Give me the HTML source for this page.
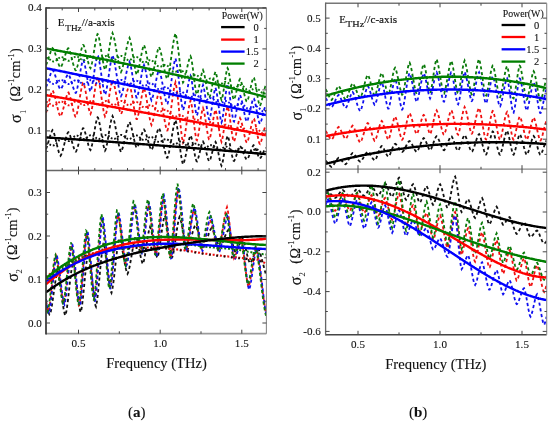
<!DOCTYPE html>
<html><head><meta charset="utf-8"><title>THz conductivity</title>
<style>html,body{margin:0;padding:0;background:#fff;overflow:hidden;width:550px;height:421px;}svg{display:block;}</style>
</head><body>
<svg width="550" height="421" viewBox="0 0 550 421">
<defs>
<clipPath id="cUL"><rect x="46.0" y="8.0" width="220.39999999999998" height="162.5"/></clipPath>
<clipPath id="cLL"><rect x="46.0" y="170.5" width="220.39999999999998" height="163.2"/></clipPath>
<clipPath id="cUR"><rect x="325.6" y="3.3" width="221.10000000000002" height="165.89999999999998"/></clipPath>
<clipPath id="cLR"><rect x="325.6" y="169.2" width="221.10000000000002" height="165.60000000000002"/></clipPath>
</defs>
<rect width="550" height="421" fill="#fff"/>
<g clip-path="url(#cUL)">
<polyline points="46.0,148.9 46.5,147.8 47.0,146.5 47.5,145.0 48.0,143.4 48.5,141.6 49.0,139.8 49.5,138.0 50.0,136.3 50.5,134.7 51.0,133.2 51.5,132.0 52.0,130.9 52.5,130.1 53.0,130.7 53.5,131.8 54.0,133.2 54.5,134.8 55.0,136.6 55.5,138.6 56.0,140.7 56.5,142.8 57.0,145.0 57.5,147.1 58.0,149.1 58.5,150.9 59.0,152.6 59.5,154.0 60.0,155.1 60.5,155.8 61.0,155.0 61.5,153.9 62.0,152.5 62.5,151.0 63.0,149.2 63.5,147.4 64.0,145.4 64.5,143.4 65.0,141.4 65.5,139.5 66.0,137.7 66.5,136.0 67.0,134.6 67.5,133.4 68.0,132.4 68.5,132.2 69.0,133.0 69.5,134.1 70.0,135.3 70.5,136.8 71.0,138.4 71.5,140.1 72.0,141.9 72.5,143.6 73.0,145.3 73.5,146.9 74.0,148.4 74.5,149.7 75.0,150.8 75.5,151.6 76.0,151.6 76.5,150.5 77.0,149.2 77.5,147.7 78.0,145.9 78.5,144.0 79.0,141.9 79.5,139.8 80.0,137.7 80.5,135.6 81.0,133.7 81.5,132.0 82.0,130.4 82.5,129.2 83.0,128.2 83.5,128.3 84.0,129.3 84.5,130.6 85.0,132.1 85.5,133.8 86.0,135.7 86.5,137.7 87.0,139.7 87.5,141.7 88.0,143.6 88.5,145.4 89.0,147.0 89.5,148.3 90.0,149.4 90.5,150.0 91.0,148.8 91.5,147.1 92.0,145.0 92.5,142.6 93.0,139.9 93.5,137.0 94.0,134.0 94.5,131.0 95.0,128.1 95.5,125.3 96.0,122.8 96.5,120.6 97.0,118.8 97.5,117.4 98.0,117.7 98.5,119.2 99.0,121.0 99.5,123.3 100.0,125.8 100.5,128.6 101.0,131.5 101.5,134.5 102.0,137.5 102.5,140.4 103.0,143.1 103.5,145.5 104.0,147.6 104.5,149.3 105.0,150.7 105.5,149.9 106.0,148.3 106.5,146.3 107.0,143.9 107.5,141.2 108.0,138.3 108.5,135.3 109.0,132.2 109.5,129.1 110.0,126.2 110.5,123.5 111.0,121.1 111.5,119.0 112.0,117.3 112.5,116.0 113.0,117.1 113.5,118.6 114.0,120.3 114.5,122.4 115.0,124.7 115.5,127.2 116.0,129.9 116.5,132.6 117.0,135.4 117.5,138.1 118.0,140.8 118.5,143.3 119.0,145.6 119.5,147.7 120.0,149.4 120.5,150.9 121.0,152.0 121.5,151.1 122.0,149.8 122.5,148.4 123.0,146.6 123.5,144.7 124.0,142.6 124.5,140.4 125.0,138.1 125.5,135.8 126.0,133.5 126.5,131.3 127.0,129.2 127.5,127.2 128.0,125.5 128.5,124.0 129.0,122.8 129.5,121.9 130.0,122.9 130.5,124.2 131.0,125.8 131.5,127.7 132.0,129.8 132.5,132.0 133.0,134.4 133.5,136.8 134.0,139.1 134.5,141.3 135.0,143.3 135.5,145.0 136.0,146.5 136.5,147.6 137.0,147.8 137.5,147.0 138.0,145.9 138.5,144.7 139.0,143.3 139.5,141.7 140.0,140.1 140.5,138.4 141.0,136.7 141.5,135.1 142.0,133.6 142.5,132.3 143.0,131.1 143.5,130.2 144.0,129.5 144.5,130.2 145.0,131.2 145.5,132.4 146.0,133.8 146.5,135.4 147.0,137.1 147.5,138.8 148.0,140.6 148.5,142.4 149.0,144.1 149.5,145.7 150.0,147.1 150.5,148.3 151.0,149.2 151.5,150.0 152.0,149.2 152.5,148.1 153.0,146.9 153.5,145.3 154.0,143.7 154.5,141.9 155.0,140.0 155.5,138.0 156.0,136.1 156.5,134.3 157.0,132.6 157.5,131.1 158.0,129.8 158.5,128.8 159.0,128.0 159.5,129.0 160.0,130.2 160.5,131.8 161.0,133.6 161.5,135.6 162.0,137.8 162.5,140.1 163.0,142.5 163.5,144.9 164.0,147.2 164.5,149.5 165.0,151.6 165.5,153.5 166.0,155.2 166.5,156.6 167.0,157.7 167.5,157.6 168.0,156.1 168.5,154.4 169.0,152.3 169.5,149.8 170.0,147.2 170.5,144.3 171.0,141.4 171.5,138.4 172.0,135.4 172.5,132.4 173.0,129.7 173.5,127.1 174.0,124.9 174.5,122.9 175.0,121.3 175.5,120.1 176.0,121.7 176.5,123.8 177.0,126.4 177.5,129.4 178.0,132.8 178.5,136.4 179.0,140.2 179.5,144.1 180.0,147.9 180.5,151.5 181.0,154.9 181.5,158.0 182.0,160.6 182.5,162.8 183.0,164.4 183.5,163.6 184.0,162.3 184.5,160.6 185.0,158.6 185.5,156.4 186.0,154.1 186.5,151.6 187.0,149.0 187.5,146.5 188.0,144.1 188.5,141.8 189.0,139.8 189.5,138.0 190.0,136.6 190.5,135.5 191.0,136.2 191.5,137.8 192.0,139.7 192.5,142.1 193.0,144.7 193.5,147.4 194.0,150.2 194.5,152.9 195.0,155.5 195.5,157.7 196.0,159.6 196.5,161.1 197.0,161.4 197.5,160.4 198.0,159.0 198.5,157.3 199.0,155.4 199.5,153.4 200.0,151.2 200.5,149.1 201.0,147.1 201.5,145.3 202.0,143.8 202.5,142.5 203.0,141.6 203.5,142.5 204.0,143.7 204.5,145.2 205.0,147.0 205.5,149.0 206.0,151.0 206.5,153.1 207.0,155.1 207.5,157.0 208.0,158.6 208.5,160.0 209.0,161.1 209.5,161.1 210.0,160.0 210.5,158.7 211.0,157.0 211.5,155.2 212.0,153.2 212.5,151.1 213.0,149.0 213.5,147.1 214.0,145.3 214.5,143.8 215.0,142.6 215.5,141.8 216.0,142.9 216.5,144.4 217.0,146.3 217.5,148.6 218.0,151.1 218.5,153.6 219.0,156.2 219.5,158.7 220.0,161.0 220.5,163.0 221.0,164.5 221.5,165.7 222.0,164.6 222.5,162.7 223.0,160.3 223.5,157.5 224.0,154.5 224.5,151.2 225.0,148.0 225.5,144.9 226.0,142.0 226.5,139.5 227.0,137.4 227.5,135.9 228.0,136.6 228.5,138.1 229.0,140.0 229.5,142.2 230.0,144.7 230.5,147.4 231.0,150.1 231.5,152.7 232.0,155.2 232.5,157.4 233.0,159.2 233.5,160.6 234.0,161.0 234.5,160.2 235.0,159.2 235.5,157.9 236.0,156.5 236.5,154.9 237.0,153.3 237.5,151.7 238.0,150.2 238.5,148.8 239.0,147.6 239.5,146.7 240.0,146.0 240.5,146.6 241.0,147.3 241.5,148.2 242.0,149.3 242.5,150.5 243.0,151.8 243.5,153.1 244.0,154.4 244.5,155.6 245.0,156.8 245.5,157.8 246.0,158.7 246.5,159.4 247.0,159.6 247.5,159.0 248.0,158.1 248.5,157.1 249.0,155.9 249.5,154.6 250.0,153.2 250.5,151.8 251.0,150.4 251.5,149.0 252.0,147.8 252.5,146.8 253.0,145.9 253.5,145.2 254.0,145.4 254.5,146.1 255.0,147.1 255.5,148.3 256.0,149.6 256.5,151.0 257.0,152.5 257.5,153.9 258.0,155.2 258.5,156.4 259.0,157.4 259.5,158.2 260.0,158.5 260.5,157.9 261.0,157.2 261.5,156.3 262.0,155.3 262.5,154.2 263.0,153.1 263.5,152.0 264.0,150.9 264.5,150.0 265.0,149.1 265.5,148.5 266.0,148.0" fill="none" stroke="#111111" stroke-width="1.8" stroke-dasharray="3.2 2.6"/>
<polyline points="46.0,112.7 46.5,111.4 47.0,109.9 47.5,108.1 48.0,106.1 48.5,104.1 49.0,102.0 49.5,99.8 50.0,97.8 50.5,95.9 51.0,94.2 51.5,92.7 52.0,91.4 52.5,90.5 53.0,91.0 53.5,92.2 54.0,93.6 54.5,95.2 55.0,97.0 55.5,99.0 56.0,101.1 56.5,103.3 57.0,105.5 57.5,107.6 58.0,109.7 58.5,111.5 59.0,113.2 59.5,114.6 60.0,115.7 60.5,116.5 61.0,115.6 61.5,114.5 62.0,113.1 62.5,111.5 63.0,109.8 63.5,107.9 64.0,105.9 64.5,103.9 65.0,101.8 65.5,99.9 66.0,98.0 66.5,96.4 67.0,94.9 67.5,93.7 68.0,92.7 68.5,92.5 69.0,93.6 69.5,94.9 70.0,96.5 70.5,98.3 71.0,100.3 71.5,102.4 72.0,104.6 72.5,106.8 73.0,108.9 73.5,111.0 74.0,112.8 74.5,114.4 75.0,115.8 75.5,116.8 76.0,116.7 76.5,115.2 77.0,113.3 77.5,111.1 78.0,108.5 78.5,105.7 79.0,102.7 79.5,99.7 80.0,96.6 80.5,93.7 81.0,90.9 81.5,88.3 82.0,86.1 82.5,84.3 83.0,82.9 83.5,83.1 84.0,84.5 84.5,86.3 85.0,88.5 85.5,90.9 86.0,93.6 86.5,96.4 87.0,99.3 87.5,102.1 88.0,104.8 88.5,107.3 89.0,109.6 89.5,111.5 90.0,113.0 90.5,114.0 91.0,112.5 91.5,110.6 92.0,108.3 92.5,105.5 93.0,102.5 93.5,99.3 94.0,95.9 94.5,92.6 95.0,89.3 95.5,86.2 96.0,83.4 96.5,80.9 97.0,78.8 97.5,77.3 98.0,77.6 98.5,79.3 99.0,81.6 99.5,84.2 100.0,87.2 100.5,90.5 101.0,94.0 101.5,97.5 102.0,101.0 102.5,104.4 103.0,107.6 103.5,110.5 104.0,113.0 104.5,115.0 105.0,116.6 105.5,115.8 106.0,114.1 106.5,112.0 107.0,109.5 107.5,106.7 108.0,103.6 108.5,100.4 109.0,97.2 109.5,94.0 110.0,90.9 110.5,88.0 111.0,85.5 111.5,83.3 112.0,81.5 112.5,80.1 113.0,81.2 113.5,82.6 114.0,84.2 114.5,86.2 115.0,88.3 115.5,90.7 116.0,93.2 116.5,95.8 117.0,98.4 117.5,101.0 118.0,103.5 118.5,105.8 119.0,108.0 119.5,109.9 120.0,111.6 120.5,112.9 121.0,114.0 121.5,113.1 122.0,111.9 122.5,110.5 123.0,108.8 123.5,107.0 124.0,104.9 124.5,102.8 125.0,100.6 125.5,98.3 126.0,96.1 126.5,93.9 127.0,91.9 127.5,90.0 128.0,88.4 128.5,86.9 129.0,85.8 129.5,84.9 130.0,86.2 130.5,87.9 131.0,90.1 131.5,92.6 132.0,95.4 132.5,98.4 133.0,101.5 133.5,104.7 134.0,107.8 134.5,110.7 135.0,113.3 135.5,115.7 136.0,117.6 136.5,119.2 137.0,119.2 137.5,117.8 138.0,116.0 138.5,113.9 139.0,111.5 139.5,108.8 140.0,106.0 140.5,103.2 141.0,100.3 141.5,97.6 142.0,95.0 142.5,92.7 143.0,90.8 143.5,89.2 144.0,88.0 144.5,89.3 145.0,91.1 145.5,93.3 146.0,95.8 146.5,98.6 147.0,101.7 147.5,104.9 148.0,108.1 148.5,111.3 149.0,114.3 149.5,117.2 150.0,119.7 150.5,121.9 151.0,123.6 151.5,125.0 152.0,123.8 152.5,122.2 153.0,120.3 153.5,118.0 154.0,115.5 154.5,112.8 155.0,109.9 155.5,107.0 156.0,104.2 156.5,101.5 157.0,99.0 157.5,96.7 158.0,94.8 158.5,93.2 159.0,92.0 159.5,93.3 160.0,94.9 160.5,96.9 161.0,99.2 161.5,101.8 162.0,104.7 162.5,107.7 163.0,110.8 163.5,113.9 164.0,116.9 164.5,119.8 165.0,122.6 165.5,125.1 166.0,127.2 166.5,129.0 167.0,130.5 167.5,130.4 168.0,128.5 168.5,126.3 169.0,123.6 169.5,120.5 170.0,117.1 170.5,113.4 171.0,109.6 171.5,105.7 172.0,101.9 172.5,98.1 173.0,94.6 173.5,91.3 174.0,88.4 174.5,85.9 175.0,83.9 175.5,82.3 176.0,84.5 176.5,87.3 177.0,90.8 177.5,94.9 178.0,99.5 178.5,104.4 179.0,109.6 179.5,114.9 180.0,120.0 180.5,125.0 181.0,129.6 181.5,133.8 182.0,137.4 182.5,140.3 183.0,142.5 183.5,141.4 184.0,139.4 184.5,137.0 185.0,134.2 185.5,131.0 186.0,127.5 186.5,123.9 187.0,120.2 187.5,116.6 188.0,113.1 188.5,109.8 189.0,106.9 189.5,104.3 190.0,102.2 190.5,100.6 191.0,101.8 191.5,104.2 192.0,107.2 192.5,110.7 193.0,114.7 193.5,118.9 194.0,123.2 194.5,127.4 195.0,131.3 195.5,134.7 196.0,137.6 196.5,139.9 197.0,140.3 197.5,138.6 198.0,136.4 198.5,133.7 199.0,130.6 199.5,127.2 200.0,123.7 200.5,120.3 201.0,117.0 201.5,114.1 202.0,111.5 202.5,109.5 203.0,108.0 203.5,109.4 204.0,111.4 204.5,113.8 205.0,116.7 205.5,119.9 206.0,123.2 206.5,126.5 207.0,129.8 207.5,132.8 208.0,135.5 208.5,137.7 209.0,139.4 209.5,139.4 210.0,137.8 210.5,135.7 211.0,133.2 211.5,130.4 212.0,127.3 212.5,124.1 213.0,121.0 213.5,118.0 214.0,115.4 214.5,113.0 215.0,111.2 215.5,109.8 216.0,111.3 216.5,113.4 217.0,116.0 217.5,119.0 218.0,122.3 218.5,125.7 219.0,129.2 219.5,132.5 220.0,135.6 220.5,138.2 221.0,140.3 221.5,141.9 222.0,140.5 222.5,138.3 223.0,135.4 223.5,132.1 224.0,128.5 224.5,124.6 225.0,120.7 225.5,116.9 226.0,113.5 226.5,110.5 227.0,108.1 227.5,106.3 228.0,107.2 228.5,109.4 229.0,112.0 229.5,115.2 230.0,118.7 230.5,122.5 231.0,126.3 231.5,130.0 232.0,133.5 232.5,136.5 233.0,139.1 233.5,141.1 234.0,141.6 234.5,140.4 235.0,138.7 235.5,136.7 236.0,134.5 236.5,132.0 237.0,129.5 237.5,127.0 238.0,124.6 238.5,122.4 239.0,120.6 239.5,119.1 240.0,118.0 240.5,119.0 241.0,120.4 241.5,122.0 242.0,124.0 242.5,126.1 243.0,128.5 243.5,130.9 244.0,133.2 244.5,135.5 245.0,137.6 245.5,139.5 246.0,141.1 246.5,142.3 247.0,142.7 247.5,141.6 248.0,140.2 248.5,138.4 249.0,136.4 249.5,134.2 250.0,131.8 250.5,129.4 251.0,127.1 251.5,124.8 252.0,122.8 252.5,121.0 253.0,119.5 253.5,118.4 254.0,118.7 254.5,120.1 255.0,122.0 255.5,124.3 256.0,126.9 256.5,129.6 257.0,132.4 257.5,135.2 258.0,137.8 258.5,140.1 259.0,142.0 259.5,143.6 260.0,144.1 260.5,143.1 261.0,141.8 261.5,140.2 262.0,138.4 262.5,136.4 263.0,134.4 263.5,132.3 264.0,130.4 264.5,128.6 265.0,127.1 265.5,125.9 266.0,125.0" fill="none" stroke="#f01010" stroke-width="1.8" stroke-dasharray="3.2 2.6"/>
<polyline points="46.0,87.0 46.5,86.0 47.0,84.8 47.5,83.5 48.0,82.0 48.5,80.5 49.0,78.8 49.5,77.2 50.0,75.7 50.5,74.2 51.0,72.9 51.5,71.8 52.0,70.8 52.5,70.1 53.0,70.5 53.5,71.3 54.0,72.4 54.5,73.6 55.0,74.9 55.5,76.4 56.0,78.0 56.5,79.6 57.0,81.2 57.5,82.8 58.0,84.3 58.5,85.7 59.0,86.9 59.5,88.0 60.0,88.8 60.5,89.3 61.0,88.8 61.5,88.1 62.0,87.2 62.5,86.3 63.0,85.1 63.5,84.0 64.0,82.7 64.5,81.4 65.0,80.2 65.5,78.9 66.0,77.8 66.5,76.7 67.0,75.8 67.5,75.0 68.0,74.4 68.5,74.3 69.0,75.1 69.5,76.1 70.0,77.4 70.5,78.7 71.0,80.3 71.5,81.9 72.0,83.6 72.5,85.3 73.0,86.9 73.5,88.4 74.0,89.8 74.5,91.1 75.0,92.1 75.5,92.9 76.0,92.7 76.5,91.2 77.0,89.4 77.5,87.3 78.0,84.8 78.5,82.1 79.0,79.3 79.5,76.3 80.0,73.4 80.5,70.6 81.0,67.9 81.5,65.4 82.0,63.3 82.5,61.6 83.0,60.2 83.5,60.4 84.0,61.9 84.5,63.7 85.0,65.9 85.5,68.3 86.0,71.0 86.5,73.8 87.0,76.7 87.5,79.6 88.0,82.3 88.5,84.9 89.0,87.1 89.5,89.1 90.0,90.6 90.5,91.6 91.0,90.2 91.5,88.3 92.0,86.0 92.5,83.3 93.0,80.4 93.5,77.2 94.0,73.9 94.5,70.6 95.0,67.4 95.5,64.3 96.0,61.6 96.5,59.2 97.0,57.1 97.5,55.6 98.0,55.9 98.5,57.7 99.0,59.9 99.5,62.5 100.0,65.5 100.5,68.8 101.0,72.2 101.5,75.8 102.0,79.3 102.5,82.7 103.0,85.8 103.5,88.7 104.0,91.2 104.5,93.2 105.0,94.8 105.5,93.9 106.0,92.0 106.5,89.7 107.0,87.0 107.5,84.0 108.0,80.7 108.5,77.2 109.0,73.7 109.5,70.2 110.0,66.9 110.5,63.8 111.0,61.0 111.5,58.6 112.0,56.7 112.5,55.2 113.0,56.5 113.5,58.1 114.0,60.1 114.5,62.5 115.0,65.1 115.5,67.9 116.0,71.0 116.5,74.1 117.0,77.2 117.5,80.4 118.0,83.4 118.5,86.2 119.0,88.9 119.5,91.2 120.0,93.2 120.5,94.8 121.0,96.1 121.5,95.1 122.0,93.7 122.5,92.0 123.0,90.0 123.5,87.8 124.0,85.4 124.5,82.9 125.0,80.3 125.5,77.6 126.0,75.0 126.5,72.5 127.0,70.1 127.5,67.9 128.0,65.9 128.5,64.3 129.0,62.9 129.5,61.8 130.0,63.2 130.5,65.0 131.0,67.2 131.5,69.8 132.0,72.7 132.5,75.9 133.0,79.1 133.5,82.4 134.0,85.6 134.5,88.7 135.0,91.4 135.5,93.9 136.0,95.9 136.5,97.5 137.0,97.5 137.5,96.1 138.0,94.2 138.5,92.0 139.0,89.5 139.5,86.7 140.0,83.8 140.5,80.8 141.0,77.8 141.5,75.0 142.0,72.3 142.5,69.9 143.0,67.9 143.5,66.2 144.0,65.0 144.5,66.3 145.0,68.0 145.5,70.0 146.0,72.5 146.5,75.2 147.0,78.1 147.5,81.1 148.0,84.2 148.5,87.3 149.0,90.2 149.5,92.9 150.0,95.3 150.5,97.4 151.0,99.1 151.5,100.4 152.0,99.3 152.5,97.8 153.0,96.0 153.5,94.0 154.0,91.6 154.5,89.1 155.0,86.5 155.5,83.9 156.0,81.2 156.5,78.7 157.0,76.4 157.5,74.3 158.0,72.5 158.5,71.1 159.0,70.0 159.5,71.1 160.0,72.6 160.5,74.3 161.0,76.4 161.5,78.7 162.0,81.2 162.5,83.8 163.0,86.5 163.5,89.3 164.0,92.0 164.5,94.5 165.0,96.9 165.5,99.1 166.0,101.0 166.5,102.6 167.0,103.9 167.5,103.8 168.0,102.0 168.5,99.9 169.0,97.3 169.5,94.4 170.0,91.2 170.5,87.7 171.0,84.1 171.5,80.5 172.0,76.8 172.5,73.3 173.0,70.0 173.5,66.9 174.0,64.1 174.5,61.8 175.0,59.8 175.5,58.4 176.0,60.2 176.5,62.6 177.0,65.7 177.5,69.2 178.0,73.1 178.5,77.3 179.0,81.7 179.5,86.2 180.0,90.6 180.5,94.9 181.0,98.8 181.5,102.4 182.0,105.5 182.5,108.0 183.0,109.9 183.5,108.9 184.0,107.3 184.5,105.4 185.0,103.0 185.5,100.4 186.0,97.6 186.5,94.7 187.0,91.7 187.5,88.7 188.0,85.9 188.5,83.2 189.0,80.8 189.5,78.7 190.0,77.0 190.5,75.7 191.0,76.9 191.5,79.2 192.0,82.3 192.5,85.8 193.0,89.8 193.5,94.0 194.0,98.3 194.5,102.4 195.0,106.3 195.5,109.8 196.0,112.7 196.5,114.9 197.0,115.4 197.5,113.8 198.0,111.7 198.5,109.1 199.0,106.2 199.5,103.1 200.0,99.8 200.5,96.6 201.0,93.5 201.5,90.7 202.0,88.3 202.5,86.4 203.0,85.0 203.5,86.6 204.0,88.7 204.5,91.4 205.0,94.5 205.5,98.0 206.0,101.6 206.5,105.3 207.0,108.8 207.5,112.1 208.0,115.1 208.5,117.5 209.0,119.3 209.5,119.4 210.0,117.7 210.5,115.5 211.0,112.8 211.5,109.7 212.0,106.5 212.5,103.1 213.0,99.8 213.5,96.6 214.0,93.7 214.5,91.3 215.0,89.3 215.5,87.8 216.0,89.5 216.5,91.7 217.0,94.5 217.5,97.7 218.0,101.3 218.5,105.0 219.0,108.8 219.5,112.4 220.0,115.6 220.5,118.5 221.0,120.8 221.5,122.4 222.0,121.0 222.5,118.6 223.0,115.5 223.5,112.0 224.0,108.1 224.5,103.9 225.0,99.7 225.5,95.7 226.0,92.0 226.5,88.8 227.0,86.2 227.5,84.3 228.0,85.3 228.5,87.6 229.0,90.4 229.5,93.7 230.0,97.4 230.5,101.4 231.0,105.4 231.5,109.3 232.0,113.0 232.5,116.2 233.0,119.0 233.5,121.1 234.0,121.6 234.5,120.2 235.0,118.3 235.5,116.1 236.0,113.5 236.5,110.8 237.0,107.9 237.5,105.1 238.0,102.4 238.5,100.0 239.0,97.9 239.5,96.2 240.0,95.0 240.5,96.1 241.0,97.5 241.5,99.3 242.0,101.5 242.5,103.8 243.0,106.3 243.5,108.9 244.0,111.5 244.5,113.9 245.0,116.2 245.5,118.2 246.0,119.9 246.5,121.3 247.0,121.7 247.5,120.7 248.0,119.3 248.5,117.6 249.0,115.6 249.5,113.5 250.0,111.2 250.5,108.9 251.0,106.7 251.5,104.5 252.0,102.5 252.5,100.8 253.0,99.4 253.5,98.3 254.0,98.6 254.5,100.1 255.0,101.9 255.5,104.2 256.0,106.7 256.5,109.5 257.0,112.2 257.5,115.0 258.0,117.5 258.5,119.8 259.0,121.7 259.5,123.2 260.0,123.8 260.5,122.8 261.0,121.6 261.5,120.0 262.0,118.2 262.5,116.2 263.0,114.2 263.5,112.2 264.0,110.3 264.5,108.6 265.0,107.1 265.5,105.9 266.0,105.0" fill="none" stroke="#1010f0" stroke-width="1.8" stroke-dasharray="3.2 2.6"/>
<polyline points="46.0,65.0 46.5,64.0 47.0,62.8 47.5,61.5 48.0,60.0 48.5,58.5 49.0,56.8 49.5,55.2 50.0,53.7 50.5,52.2 51.0,50.9 51.5,49.8 52.0,48.8 52.5,48.1 53.0,48.5 53.5,49.4 54.0,50.4 54.5,51.6 55.0,53.0 55.5,54.5 56.0,56.1 56.5,57.7 57.0,59.4 57.5,60.9 58.0,62.5 58.5,63.8 59.0,65.1 59.5,66.1 60.0,67.0 60.5,67.5 61.0,66.9 61.5,66.0 62.0,64.9 62.5,63.6 63.0,62.2 63.5,60.6 64.0,59.0 64.5,57.4 65.0,55.8 65.5,54.2 66.0,52.7 66.5,51.4 67.0,50.2 67.5,49.2 68.0,48.4 68.5,48.3 69.0,49.2 69.5,50.4 70.0,51.9 70.5,53.5 71.0,55.3 71.5,57.2 72.0,59.2 72.5,61.2 73.0,63.2 73.5,65.0 74.0,66.7 74.5,68.1 75.0,69.3 75.5,70.3 76.0,70.2 76.5,69.1 77.0,67.7 77.5,66.0 78.0,64.1 78.5,62.0 79.0,59.8 79.5,57.5 80.0,55.2 80.5,53.0 81.0,50.9 81.5,49.0 82.0,47.3 82.5,46.0 83.0,44.9 83.5,45.0 84.0,46.1 84.5,47.5 85.0,49.1 85.5,50.9 86.0,52.9 86.5,55.1 87.0,57.2 87.5,59.3 88.0,61.4 88.5,63.3 89.0,65.0 89.5,66.4 90.0,67.6 90.5,68.2 91.0,66.9 91.5,65.1 92.0,62.9 92.5,60.4 93.0,57.6 93.5,54.5 94.0,51.4 94.5,48.3 95.0,45.2 95.5,42.3 96.0,39.7 96.5,37.4 97.0,35.5 97.5,34.0 98.0,34.3 98.5,35.9 99.0,37.9 99.5,40.3 100.0,43.0 100.5,46.0 101.0,49.2 101.5,52.4 102.0,55.6 102.5,58.7 103.0,61.6 103.5,64.2 104.0,66.5 104.5,68.4 105.0,69.8 105.5,69.0 106.0,67.3 106.5,65.1 107.0,62.6 107.5,59.8 108.0,56.7 108.5,53.5 109.0,50.2 109.5,47.0 110.0,43.8 110.5,41.0 111.0,38.4 111.5,36.2 112.0,34.4 112.5,33.0 113.0,34.2 113.5,35.8 114.0,37.7 114.5,39.9 115.0,42.4 115.5,45.1 116.0,48.0 116.5,51.0 117.0,54.0 117.5,57.0 118.0,59.9 118.5,62.6 119.0,65.1 119.5,67.3 120.0,69.2 120.5,70.8 121.0,72.0 121.5,70.9 122.0,69.6 122.5,67.9 123.0,65.9 123.5,63.8 124.0,61.4 124.5,58.9 125.0,56.2 125.5,53.6 126.0,51.0 126.5,48.5 127.0,46.1 127.5,43.9 128.0,42.0 128.5,40.3 129.0,38.9 129.5,37.9 130.0,39.3 130.5,41.1 131.0,43.4 131.5,46.1 132.0,49.1 132.5,52.3 133.0,55.6 133.5,59.0 134.0,62.3 134.5,65.4 135.0,68.2 135.5,70.7 136.0,72.8 136.5,74.5 137.0,74.6 137.5,73.3 138.0,71.6 138.5,69.6 139.0,67.3 139.5,64.7 140.0,62.1 140.5,59.4 141.0,56.7 141.5,54.1 142.0,51.7 142.5,49.5 143.0,47.6 143.5,46.1 144.0,45.0 144.5,46.2 145.0,47.7 145.5,49.6 146.0,51.8 146.5,54.2 147.0,56.9 147.5,59.6 148.0,62.4 148.5,65.2 149.0,67.8 149.5,70.3 150.0,72.5 150.5,74.4 151.0,75.9 151.5,77.1 152.0,76.0 152.5,74.5 153.0,72.8 153.5,70.7 154.0,68.4 154.5,65.9 155.0,63.3 155.5,60.7 156.0,58.1 156.5,55.6 157.0,53.3 157.5,51.3 158.0,49.5 158.5,48.1 159.0,47.0 159.5,48.0 160.0,49.4 160.5,51.0 161.0,53.0 161.5,55.1 162.0,57.5 162.5,59.9 163.0,62.5 163.5,65.1 164.0,67.6 164.5,70.0 165.0,72.2 165.5,74.3 166.0,76.1 166.5,77.6 167.0,78.8 167.5,78.6 168.0,76.9 168.5,74.7 169.0,72.2 169.5,69.3 170.0,66.1 170.5,62.7 171.0,59.1 171.5,55.4 172.0,51.8 172.5,48.3 173.0,45.0 173.5,41.9 174.0,39.2 174.5,36.8 175.0,34.9 175.5,33.4 176.0,35.2 176.5,37.5 177.0,40.4 177.5,43.7 178.0,47.5 178.5,51.5 179.0,55.7 179.5,60.0 180.0,64.2 180.5,68.3 181.0,72.1 181.5,75.5 182.0,78.4 182.5,80.8 183.0,82.6 183.5,81.9 184.0,80.7 184.5,79.1 185.0,77.3 185.5,75.3 186.0,73.2 186.5,70.9 187.0,68.6 187.5,66.3 188.0,64.0 188.5,62.0 189.0,60.1 189.5,58.5 190.0,57.2 190.5,56.2 191.0,57.3 191.5,59.6 192.0,62.5 192.5,65.9 193.0,69.7 193.5,73.8 194.0,77.9 194.5,81.9 195.0,85.6 195.5,88.9 196.0,91.7 196.5,93.9 197.0,94.4 197.5,93.1 198.0,91.4 198.5,89.4 199.0,87.0 199.5,84.5 200.0,81.9 200.5,79.3 201.0,76.8 201.5,74.6 202.0,72.7 202.5,71.1 203.0,70.0 203.5,71.3 204.0,73.0 204.5,75.1 205.0,77.6 205.5,80.4 206.0,83.3 206.5,86.2 207.0,89.1 207.5,91.7 208.0,94.0 208.5,96.0 209.0,97.5 209.5,97.5 210.0,96.1 210.5,94.3 211.0,92.1 211.5,89.7 212.0,87.0 212.5,84.2 213.0,81.5 213.5,79.0 214.0,76.6 214.5,74.6 215.0,73.0 215.5,71.8 216.0,73.1 216.5,74.9 217.0,77.2 217.5,79.8 218.0,82.7 218.5,85.8 219.0,88.8 219.5,91.7 220.0,94.4 220.5,96.7 221.0,98.5 221.5,99.9 222.0,98.7 222.5,96.7 223.0,94.1 223.5,91.2 224.0,87.9 224.5,84.4 225.0,80.9 225.5,77.6 226.0,74.5 226.5,71.8 227.0,69.7 227.5,68.1 228.0,68.9 228.5,70.8 229.0,73.2 229.5,76.0 230.0,79.2 230.5,82.5 231.0,85.9 231.5,89.3 232.0,92.4 232.5,95.1 233.0,97.4 233.5,99.2 234.0,99.7 234.5,98.6 235.0,97.1 235.5,95.4 236.0,93.4 236.5,91.3 237.0,89.1 237.5,86.9 238.0,84.8 238.5,82.9 239.0,81.2 239.5,79.9 240.0,79.0 240.5,79.9 241.0,81.2 241.5,82.7 242.0,84.5 242.5,86.5 243.0,88.6 243.5,90.8 244.0,93.0 244.5,95.1 245.0,97.0 245.5,98.8 246.0,100.2 246.5,101.4 247.0,101.7 247.5,100.6 248.0,99.2 248.5,97.4 249.0,95.4 249.5,93.2 250.0,90.8 250.5,88.4 251.0,86.1 251.5,83.9 252.0,81.8 252.5,80.0 253.0,78.5 253.5,77.4 254.0,77.8 254.5,79.4 255.0,81.5 255.5,84.0 256.0,86.8 256.5,89.8 257.0,92.9 257.5,96.0 258.0,98.8 258.5,101.4 259.0,103.5 259.5,105.2 260.0,105.8 260.5,104.7 261.0,103.3 261.5,101.6 262.0,99.6 262.5,97.4 263.0,95.2 263.5,93.0 264.0,90.8 264.5,88.9 265.0,87.3 265.5,86.0 266.0,85.0" fill="none" stroke="#0a7a0a" stroke-width="1.8" stroke-dasharray="3.2 2.6"/>
<polyline points="46.0,144.0 46.5,143.8 47.0,143.8 47.5,143.8 48.0,143.8 48.5,144.0 49.0,144.2 49.5,144.4 50.0,144.6 50.5,144.9 51.0,145.1 51.5,145.3 52.0,145.4 52.5,145.5 53.0,145.5 53.5,145.4 54.0,145.3 54.5,145.0 55.0,144.7 55.5,144.3 56.0,143.8 56.5,143.3 57.0,142.7 57.5,142.1 58.0,141.6 58.5,141.0 59.0,140.5 59.5,140.0 60.0,139.6 60.5,139.3 61.0,139.1 61.5,138.9 62.0,138.9 62.5,138.9 63.0,139.0 63.5,139.2 64.0,139.4 64.5,139.7 65.0,140.0 65.5,140.2 66.0,140.5 66.5,140.7 67.0,140.9 67.5,141.1 68.0,141.1 68.5,141.1 69.0,141.0 69.5,140.8 70.0,140.5 70.5,140.1 71.0,139.7 71.5,139.2 72.0,138.8 72.5,138.2 73.0,137.7 73.5,137.2 74.0,136.8 74.5,136.4 75.0,136.1 75.5,135.8 76.0,135.7 76.5,135.6 77.0,135.6 77.5,135.7 78.0,135.9 78.5,136.2 79.0,136.5 79.5,136.8 80.0,137.2 80.5,137.6 81.0,138.0 81.5,138.3 82.0,138.6 82.5,138.8 83.0,138.9 83.5,139.0 84.0,139.0 84.5,138.9 85.0,138.7 85.5,138.5 86.0,138.2 86.5,137.8 87.0,137.4 87.5,137.0 88.0,136.6 88.5,136.2 89.0,135.8 89.5,135.5 90.0,135.3 90.5,135.1 91.0,135.0 91.5,135.0 92.0,135.1 92.5,135.3 93.0,135.5 93.5,135.8 94.0,136.2 94.5,136.6 95.0,137.0 95.5,137.4 96.0,137.8 96.5,138.2 97.0,138.5 97.5,138.7 98.0,138.9 98.5,139.0 99.0,139.0 99.5,138.9 100.0,138.7 100.5,138.5 101.0,138.2 101.5,137.8 102.0,137.4 102.5,137.0 103.0,136.6 103.5,136.2 104.0,135.8 104.5,135.5 105.0,135.3 105.5,135.1 106.0,135.0 106.5,135.0 107.0,135.1 107.5,135.3 108.0,135.5 108.5,135.8 109.0,136.2 109.5,136.6 110.0,137.0 110.5,137.4 111.0,137.8 111.5,138.2 112.0,138.5 112.5,138.7 113.0,138.9 113.5,139.0 114.0,139.0 114.5,138.9 115.0,138.7 115.5,138.5 116.0,138.2 116.5,137.8 117.0,137.4 117.5,137.0 118.0,136.6 118.5,136.2 119.0,135.8 119.5,135.5 120.0,135.3 120.5,135.1 121.0,135.0 121.5,135.0 122.0,135.1 122.5,135.3 123.0,135.5 123.5,135.8 124.0,136.2 124.5,136.6 125.0,137.0 125.5,137.4 126.0,137.8 126.5,138.2 127.0,138.5 127.5,138.8 128.0,138.9 128.5,139.0 129.0,139.0 129.5,139.0 130.0,138.8 130.5,138.6 131.0,138.3 131.5,138.0 132.0,137.6 132.5,137.2 133.0,136.8 133.5,136.4 134.0,136.1 134.5,135.8 135.0,135.6 135.5,135.4 136.0,135.4 136.5,135.4 137.0,135.5 137.5,135.8 138.0,136.0 138.5,136.4 139.0,136.8 139.5,137.2 140.0,137.7 140.5,138.1 141.0,138.6 141.5,139.0 142.0,139.4 142.5,139.7 143.0,139.9 143.5,140.0 144.0,140.1 144.5,140.0 145.0,139.9 145.5,139.7 146.0,139.5 146.5,139.2 147.0,138.8 147.5,138.5 148.0,138.1 148.5,137.8 149.0,137.5 149.5,137.2 150.0,137.0 150.5,136.9 151.0,136.9 151.5,137.0 152.0,137.1 152.5,137.4 153.0,137.7 153.5,138.0 154.0,138.5 154.5,138.9 155.0,139.4 155.5,139.9 156.0,140.4 156.5,140.8 157.0,141.2 157.5,141.5 158.0,141.8 158.5,141.9 159.0,142.0 159.5,142.0 160.0,141.9 160.5,141.7 161.0,141.5 161.5,141.2 162.0,140.9 162.5,140.5 163.0,140.2 163.5,139.9 164.0,139.6 164.5,139.4 165.0,139.2 165.5,139.1 166.0,139.1 166.5,139.2 167.0,139.3 167.5,139.6 168.0,139.9 168.5,140.3 169.0,140.7 169.5,141.2 170.0,141.7 170.5,142.2 171.0,142.7 171.5,143.1 172.0,143.5 172.5,143.9 173.0,144.1 173.5,144.3 174.0,144.3 174.5,144.3 175.0,144.3 175.5,144.1 176.0,143.9 176.5,143.6 177.0,143.3 177.5,142.9 178.0,142.6 178.5,142.3 179.0,142.0 179.5,141.7 180.0,141.6 180.5,141.5 181.0,141.5 181.5,141.6 182.0,141.7 182.5,142.0 183.0,142.3 183.5,142.7 184.0,143.1 184.5,143.6 185.0,144.1 185.5,144.6 186.0,145.0 186.5,145.5 187.0,145.9 187.5,146.2 188.0,146.4 188.5,146.6 189.0,146.6 189.5,146.6 190.0,146.5 190.5,146.3 191.0,146.1 191.5,145.8 192.0,145.5 192.5,145.1 193.0,144.8 193.5,144.4 194.0,144.1 194.5,143.9 195.0,143.7 195.5,143.6 196.0,143.6 196.5,143.6 197.0,143.8 197.5,144.0 198.0,144.3 198.5,144.7 199.0,145.1 199.5,145.5 200.0,146.0 200.5,146.5 201.0,146.9 201.5,147.3 202.0,147.7 202.5,148.0 203.0,148.2 203.5,148.3 204.0,148.4 204.5,148.4 205.0,148.2 205.5,148.0 206.0,147.8 206.5,147.5 207.0,147.1 207.5,146.8 208.0,146.4 208.5,146.1 209.0,145.7 209.5,145.5 210.0,145.3 210.5,145.2 211.0,145.1 211.5,145.2 212.0,145.3 212.5,145.5 213.0,145.8 213.5,146.2 214.0,146.6 214.5,147.0 215.0,147.5 215.5,148.0 216.0,148.4 216.5,148.8 217.0,149.2 217.5,149.5 218.0,149.7 218.5,149.8 219.0,149.9 219.5,149.8 220.0,149.7 220.5,149.5 221.0,149.3 221.5,149.0 222.0,148.6 222.5,148.2 223.0,147.9 223.5,147.5 224.0,147.2 224.5,146.9 225.0,146.7 225.5,146.6 226.0,146.6 226.5,146.6 227.0,146.8 227.5,147.0 228.0,147.3 228.5,147.6 229.0,148.0 229.5,148.5 230.0,148.9 230.5,149.4 231.0,149.8 231.5,150.3 232.0,150.6 232.5,150.9 233.0,151.1 233.5,151.2 234.0,151.3 234.5,151.3 235.0,151.1 235.5,150.9 236.0,150.7 236.5,150.3 237.0,150.0 237.5,149.6 238.0,149.2 238.5,148.9 239.0,148.6 239.5,148.3 240.0,148.1 240.5,148.0 241.0,147.9 241.5,148.0 242.0,148.1 242.5,148.3 243.0,148.6 243.5,149.0 244.0,149.4 244.5,149.8 245.0,150.3 245.5,150.7 246.0,151.2 246.5,151.6 247.0,151.9 247.5,152.2 248.0,152.4 248.5,152.6 249.0,152.6 249.5,152.6 250.0,152.4 250.5,152.2 251.0,152.0 251.5,151.6 252.0,151.3 252.5,150.9 253.0,150.5 253.5,150.2 254.0,149.9 254.5,149.6 255.0,149.4 255.5,149.3 256.0,149.2 256.5,149.3 257.0,149.4 257.5,149.6 258.0,149.9 258.5,150.2 259.0,150.6 259.5,151.1 260.0,151.5 260.5,152.0 261.0,152.4 261.5,152.8 262.0,153.2 262.5,153.5 263.0,153.7 263.5,153.8 264.0,153.8 264.5,153.8 265.0,153.7 265.5,153.4 266.0,153.2" fill="none" stroke="#111111" stroke-width="1.9" stroke-dasharray="1.8 1.8"/>
<polyline points="46.0,102.0 46.5,102.0 47.0,102.1 47.5,102.2 48.0,102.4 48.5,102.7 49.0,103.1 49.5,103.5 50.0,103.9 50.5,104.3 51.0,104.6 51.5,105.0 52.0,105.3 52.5,105.5 53.0,105.7 53.5,105.7 54.0,105.7 54.5,105.6 55.0,105.4 55.5,105.2 56.0,104.8 56.5,104.5 57.0,104.1 57.5,103.6 58.0,103.2 58.5,102.8 59.0,102.4 59.5,102.1 60.0,101.8 60.5,101.6 61.0,101.5 61.5,101.5 62.0,101.6 62.5,101.8 63.0,102.0 63.5,102.3 64.0,102.6 64.5,103.0 65.0,103.4 65.5,103.8 66.0,104.2 66.5,104.6 67.0,104.9 67.5,105.1 68.0,105.3 68.5,105.4 69.0,105.3 69.5,105.2 70.0,105.1 70.5,104.8 71.0,104.5 71.5,104.1 72.0,103.7 72.5,103.3 73.0,102.9 73.5,102.5 74.0,102.1 74.5,101.8 75.0,101.5 75.5,101.3 76.0,101.2 76.5,101.2 77.0,101.3 77.5,101.5 78.0,101.7 78.5,102.0 79.0,102.4 79.5,102.8 80.0,103.2 80.5,103.6 81.0,104.0 81.5,104.3 82.0,104.6 82.5,104.9 83.0,105.1 83.5,105.1 84.0,105.1 84.5,105.0 85.0,104.9 85.5,104.6 86.0,104.3 86.5,103.9 87.0,103.5 87.5,103.1 88.0,102.7 88.5,102.3 89.0,101.9 89.5,101.6 90.0,101.4 90.5,101.2 91.0,101.1 91.5,101.1 92.0,101.2 92.5,101.3 93.0,101.6 93.5,101.9 94.0,102.2 94.5,102.6 95.0,103.1 95.5,103.5 96.0,103.9 96.5,104.2 97.0,104.5 97.5,104.8 98.0,104.9 98.5,105.0 99.0,105.0 99.5,104.9 100.0,104.8 100.5,104.5 101.0,104.2 101.5,103.8 102.0,103.4 102.5,103.0 103.0,102.6 103.5,102.2 104.0,101.8 104.5,101.5 105.0,101.3 105.5,101.1 106.0,101.0 106.5,101.0 107.0,101.1 107.5,101.3 108.0,101.5 108.5,101.8 109.0,102.2 109.5,102.6 110.0,103.0 110.5,103.4 111.0,103.8 111.5,104.2 112.0,104.5 112.5,104.7 113.0,104.9 113.5,105.0 114.0,105.0 114.5,104.9 115.0,104.7 115.5,104.5 116.0,104.2 116.5,103.8 117.0,103.4 117.5,103.0 118.0,102.6 118.5,102.2 119.0,101.8 119.5,101.5 120.0,101.3 120.5,101.1 121.0,101.0 121.5,101.0 122.0,101.1 122.5,101.3 123.0,101.5 123.5,101.8 124.0,102.2 124.5,102.6 125.0,103.0 125.5,103.4 126.0,103.8 126.5,104.2 127.0,104.5 127.5,104.8 128.0,105.0 128.5,105.1 129.0,105.1 129.5,105.1 130.0,104.9 130.5,104.7 131.0,104.4 131.5,104.1 132.0,103.8 132.5,103.4 133.0,103.0 133.5,102.7 134.0,102.4 134.5,102.2 135.0,102.0 135.5,101.9 136.0,101.9 136.5,101.9 137.0,102.1 137.5,102.3 138.0,102.7 138.5,103.1 139.0,103.5 139.5,104.0 140.0,104.5 140.5,105.0 141.0,105.5 141.5,106.0 142.0,106.4 142.5,106.8 143.0,107.0 143.5,107.2 144.0,107.4 144.5,107.4 145.0,107.3 145.5,107.2 146.0,107.0 146.5,106.8 147.0,106.5 147.5,106.2 148.0,105.9 148.5,105.7 149.0,105.4 149.5,105.3 150.0,105.1 150.5,105.1 151.0,105.2 151.5,105.3 152.0,105.5 152.5,105.9 153.0,106.2 153.5,106.7 154.0,107.2 154.5,107.8 155.0,108.3 155.5,108.9 156.0,109.5 156.5,110.0 157.0,110.4 157.5,110.8 158.0,111.2 158.5,111.4 159.0,111.6 159.5,111.6 160.0,111.6 160.5,111.6 161.0,111.4 161.5,111.2 162.0,111.0 162.5,110.7 163.0,110.5 163.5,110.3 164.0,110.1 164.5,109.9 165.0,109.8 165.5,109.8 166.0,109.9 166.5,110.1 167.0,110.3 167.5,110.7 168.0,111.1 168.5,111.6 169.0,112.1 169.5,112.7 170.0,113.3 170.5,113.9 171.0,114.4 171.5,115.0 172.0,115.4 172.5,115.9 173.0,116.2 173.5,116.5 174.0,116.6 174.5,116.7 175.0,116.7 175.5,116.6 176.0,116.5 176.5,116.3 177.0,116.1 177.5,115.8 178.0,115.6 178.5,115.3 179.0,115.1 179.5,115.0 180.0,114.9 180.5,114.9 181.0,115.0 181.5,115.1 182.0,115.4 182.5,115.7 183.0,116.1 183.5,116.6 184.0,117.1 184.5,117.6 185.0,118.2 185.5,118.8 186.0,119.3 186.5,119.8 187.0,120.3 187.5,120.7 188.0,121.0 188.5,121.2 189.0,121.4 189.5,121.4 190.0,121.4 190.5,121.3 191.0,121.1 191.5,120.9 192.0,120.6 192.5,120.3 193.0,120.0 193.5,119.8 194.0,119.5 194.5,119.3 195.0,119.2 195.5,119.2 196.0,119.2 196.5,119.3 197.0,119.5 197.5,119.8 198.0,120.1 198.5,120.5 199.0,121.0 199.5,121.5 200.0,122.0 200.5,122.5 201.0,123.0 201.5,123.5 202.0,123.9 202.5,124.2 203.0,124.5 203.5,124.6 204.0,124.7 204.5,124.7 205.0,124.7 205.5,124.5 206.0,124.3 206.5,124.0 207.0,123.7 207.5,123.4 208.0,123.1 208.5,122.8 209.0,122.5 209.5,122.3 210.0,122.1 210.5,122.0 211.0,122.0 211.5,122.1 212.0,122.3 212.5,122.6 213.0,122.9 213.5,123.3 214.0,123.7 214.5,124.2 215.0,124.7 215.5,125.2 216.0,125.7 216.5,126.2 217.0,126.6 217.5,126.9 218.0,127.2 218.5,127.3 219.0,127.4 219.5,127.4 220.0,127.3 220.5,127.2 221.0,126.9 221.5,126.7 222.0,126.3 222.5,126.0 223.0,125.7 223.5,125.4 224.0,125.1 224.5,124.9 225.0,124.7 225.5,124.6 226.0,124.6 226.5,124.7 227.0,124.8 227.5,125.1 228.0,125.4 228.5,125.8 229.0,126.3 229.5,126.7 230.0,127.2 230.5,127.7 231.0,128.2 231.5,128.6 232.0,129.0 232.5,129.4 233.0,129.6 233.5,129.8 234.0,129.8 234.5,129.8 235.0,129.7 235.5,129.6 236.0,129.3 236.5,129.0 237.0,128.7 237.5,128.4 238.0,128.0 238.5,127.7 239.0,127.4 239.5,127.2 240.0,127.0 240.5,126.9 241.0,126.9 241.5,127.0 242.0,127.1 242.5,127.4 243.0,127.7 243.5,128.1 244.0,128.5 244.5,129.0 245.0,129.5 245.5,129.9 246.0,130.4 246.5,130.8 247.0,131.2 247.5,131.5 248.0,131.8 248.5,131.9 249.0,132.0 249.5,132.0 250.0,131.9 250.5,131.7 251.0,131.4 251.5,131.1 252.0,130.8 252.5,130.4 253.0,130.1 253.5,129.8 254.0,129.5 254.5,129.2 255.0,129.0 255.5,128.9 256.0,128.9 256.5,128.9 257.0,129.1 257.5,129.3 258.0,129.6 258.5,130.0 259.0,130.4 259.5,130.9 260.0,131.3 260.5,131.8 261.0,132.3 261.5,132.7 262.0,133.1 262.5,133.4 263.0,133.6 263.5,133.7 264.0,133.8 264.5,133.7 265.0,133.6 265.5,133.4 266.0,133.2" fill="none" stroke="#f01010" stroke-width="1.9" stroke-dasharray="1.8 1.8"/>
<polyline points="46.0,80.0 46.5,80.0 47.0,80.1 47.5,80.3 48.0,80.5 48.5,80.8 49.0,81.2 49.5,81.6 50.0,82.0 50.5,82.4 51.0,82.8 51.5,83.2 52.0,83.5 52.5,83.7 53.0,83.9 53.5,84.0 54.0,84.0 54.5,83.9 55.0,83.7 55.5,83.5 56.0,83.2 56.5,82.8 57.0,82.4 57.5,82.0 58.0,81.6 58.5,81.2 59.0,80.8 59.5,80.5 60.0,80.3 60.5,80.1 61.0,80.0 61.5,80.0 62.0,80.1 62.5,80.3 63.0,80.5 63.5,80.8 64.0,81.2 64.5,81.6 65.0,82.0 65.5,82.4 66.0,82.8 66.5,83.2 67.0,83.5 67.5,83.7 68.0,83.9 68.5,84.0 69.0,84.0 69.5,83.9 70.0,83.7 70.5,83.5 71.0,83.2 71.5,82.8 72.0,82.4 72.5,82.0 73.0,81.6 73.5,81.2 74.0,80.8 74.5,80.5 75.0,80.3 75.5,80.1 76.0,80.0 76.5,80.0 77.0,80.1 77.5,80.3 78.0,80.5 78.5,80.8 79.0,81.2 79.5,81.6 80.0,82.0 80.5,82.4 81.0,82.8 81.5,83.2 82.0,83.5 82.5,83.7 83.0,83.9 83.5,84.0 84.0,84.0 84.5,83.9 85.0,83.7 85.5,83.5 86.0,83.2 86.5,82.8 87.0,82.4 87.5,82.0 88.0,81.6 88.5,81.2 89.0,80.8 89.5,80.5 90.0,80.3 90.5,80.1 91.0,80.0 91.5,80.0 92.0,80.1 92.5,80.3 93.0,80.5 93.5,80.8 94.0,81.2 94.5,81.6 95.0,82.0 95.5,82.4 96.0,82.8 96.5,83.2 97.0,83.5 97.5,83.7 98.0,83.9 98.5,84.0 99.0,84.0 99.5,83.9 100.0,83.7 100.5,83.5 101.0,83.2 101.5,82.8 102.0,82.4 102.5,82.0 103.0,81.6 103.5,81.2 104.0,80.8 104.5,80.5 105.0,80.3 105.5,80.1 106.0,80.0 106.5,80.0 107.0,80.1 107.5,80.3 108.0,80.5 108.5,80.8 109.0,81.2 109.5,81.6 110.0,82.0 110.5,82.4 111.0,82.8 111.5,83.2 112.0,83.5 112.5,83.7 113.0,83.9 113.5,84.0 114.0,84.0 114.5,83.9 115.0,83.7 115.5,83.5 116.0,83.2 116.5,82.8 117.0,82.4 117.5,82.0 118.0,81.6 118.5,81.2 119.0,80.8 119.5,80.5 120.0,80.3 120.5,80.1 121.0,80.0 121.5,80.0 122.0,80.1 122.5,80.3 123.0,80.5 123.5,80.8 124.0,81.2 124.5,81.6 125.0,82.0 125.5,82.4 126.0,82.8 126.5,83.2 127.0,83.5 127.5,83.8 128.0,84.0 128.5,84.1 129.0,84.1 129.5,84.0 130.0,83.9 130.5,83.7 131.0,83.4 131.5,83.1 132.0,82.7 132.5,82.3 133.0,81.9 133.5,81.6 134.0,81.3 134.5,81.0 135.0,80.8 135.5,80.7 136.0,80.7 136.5,80.7 137.0,80.9 137.5,81.1 138.0,81.4 138.5,81.8 139.0,82.2 139.5,82.7 140.0,83.2 140.5,83.7 141.0,84.2 141.5,84.6 142.0,85.0 142.5,85.3 143.0,85.6 143.5,85.8 144.0,85.8 144.5,85.8 145.0,85.8 145.5,85.6 146.0,85.4 146.5,85.1 147.0,84.8 147.5,84.5 148.0,84.2 148.5,83.9 149.0,83.7 149.5,83.5 150.0,83.3 150.5,83.3 151.0,83.3 151.5,83.4 152.0,83.6 152.5,83.9 153.0,84.3 153.5,84.7 154.0,85.2 154.5,85.7 155.0,86.2 155.5,86.8 156.0,87.3 156.5,87.8 157.0,88.2 157.5,88.6 158.0,88.9 158.5,89.1 159.0,89.2 159.5,89.3 160.0,89.2 160.5,89.1 161.0,88.9 161.5,88.7 162.0,88.4 162.5,88.2 163.0,87.9 163.5,87.6 164.0,87.4 164.5,87.2 165.0,87.1 165.5,87.1 166.0,87.1 166.5,87.3 167.0,87.5 167.5,87.8 168.0,88.2 168.5,88.7 169.0,89.2 169.5,89.7 170.0,90.3 170.5,90.8 171.0,91.3 171.5,91.9 172.0,92.3 172.5,92.7 173.0,93.0 173.5,93.2 174.0,93.4 174.5,93.4 175.0,93.4 175.5,93.3 176.0,93.1 176.5,92.9 177.0,92.7 177.5,92.4 178.0,92.1 178.5,91.9 179.0,91.6 179.5,91.5 180.0,91.4 180.5,91.3 181.0,91.4 181.5,91.5 182.0,91.7 182.5,92.0 183.0,92.4 183.5,92.9 184.0,93.4 184.5,93.9 185.0,94.5 185.5,95.0 186.0,95.5 186.5,96.0 187.0,96.5 187.5,96.8 188.0,97.1 188.5,97.4 189.0,97.5 189.5,97.5 190.0,97.5 190.5,97.4 191.0,97.2 191.5,96.9 192.0,96.7 192.5,96.4 193.0,96.1 193.5,95.8 194.0,95.5 194.5,95.3 195.0,95.2 195.5,95.2 196.0,95.2 196.5,95.3 197.0,95.5 197.5,95.8 198.0,96.1 198.5,96.5 199.0,97.0 199.5,97.5 200.0,98.0 200.5,98.5 201.0,99.0 201.5,99.5 202.0,99.9 202.5,100.2 203.0,100.5 203.5,100.7 204.0,100.8 204.5,100.8 205.0,100.7 205.5,100.6 206.0,100.3 206.5,100.1 207.0,99.8 207.5,99.5 208.0,99.1 208.5,98.8 209.0,98.6 209.5,98.4 210.0,98.2 210.5,98.1 211.0,98.1 211.5,98.2 212.0,98.4 212.5,98.7 213.0,99.0 213.5,99.4 214.0,99.9 214.5,100.4 215.0,100.9 215.5,101.4 216.0,101.9 216.5,102.4 217.0,102.8 217.5,103.1 218.0,103.4 218.5,103.5 219.0,103.6 219.5,103.6 220.0,103.6 220.5,103.4 221.0,103.2 221.5,102.9 222.0,102.6 222.5,102.3 223.0,102.0 223.5,101.7 224.0,101.4 224.5,101.2 225.0,101.0 225.5,101.0 226.0,101.0 226.5,101.1 227.0,101.2 227.5,101.5 228.0,101.8 228.5,102.2 229.0,102.7 229.5,103.2 230.0,103.7 230.5,104.2 231.0,104.7 231.5,105.1 232.0,105.5 232.5,105.9 233.0,106.1 233.5,106.3 234.0,106.4 234.5,106.4 235.0,106.3 235.5,106.2 236.0,106.0 236.5,105.7 237.0,105.4 237.5,105.1 238.0,104.7 238.5,104.4 239.0,104.1 239.5,103.9 240.0,103.8 240.5,103.7 241.0,103.7 241.5,103.8 242.0,104.0 242.5,104.2 243.0,104.5 243.5,104.9 244.0,105.4 244.5,105.9 245.0,106.4 245.5,106.9 246.0,107.4 246.5,107.8 247.0,108.2 247.5,108.6 248.0,108.8 248.5,109.0 249.0,109.1 249.5,109.1 250.0,109.0 250.5,108.8 251.0,108.6 251.5,108.3 252.0,108.0 252.5,107.7 253.0,107.4 253.5,107.1 254.0,106.8 254.5,106.6 255.0,106.4 255.5,106.3 256.0,106.3 256.5,106.4 257.0,106.6 257.5,106.8 258.0,107.2 258.5,107.6 259.0,108.0 259.5,108.5 260.0,109.0 260.5,109.5 261.0,110.0 261.5,110.4 262.0,110.8 262.5,111.1 263.0,111.4 263.5,111.6 264.0,111.7 264.5,111.7 265.0,111.6 265.5,111.4 266.0,111.2" fill="none" stroke="#1010f0" stroke-width="1.9" stroke-dasharray="1.8 1.8"/>
<polyline points="46.0,58.0 46.5,58.0 47.0,58.0 47.5,58.2 48.0,58.4 48.5,58.6 49.0,59.0 49.5,59.3 50.0,59.7 50.5,60.1 51.0,60.5 51.5,60.8 52.0,61.1 52.5,61.3 53.0,61.4 53.5,61.5 54.0,61.4 54.5,61.3 55.0,61.1 55.5,60.8 56.0,60.5 56.5,60.1 57.0,59.7 57.5,59.2 58.0,58.8 58.5,58.4 59.0,58.0 59.5,57.7 60.0,57.4 60.5,57.2 61.0,57.1 61.5,57.0 62.0,57.1 62.5,57.3 63.0,57.5 63.5,57.8 64.0,58.1 64.5,58.5 65.0,58.9 65.5,59.3 66.0,59.6 66.5,60.0 67.0,60.3 67.5,60.5 68.0,60.7 68.5,60.7 69.0,60.7 69.5,60.6 70.0,60.4 70.5,60.1 71.0,59.8 71.5,59.4 72.0,59.0 72.5,58.6 73.0,58.2 73.5,57.7 74.0,57.4 74.5,57.0 75.0,56.8 75.5,56.6 76.0,56.5 76.5,56.5 77.0,56.5 77.5,56.7 78.0,56.9 78.5,57.2 79.0,57.6 79.5,58.0 80.0,58.4 80.5,58.8 81.0,59.2 81.5,59.5 82.0,59.8 82.5,60.0 83.0,60.2 83.5,60.3 84.0,60.3 84.5,60.2 85.0,60.0 85.5,59.7 86.0,59.4 86.5,59.0 87.0,58.6 87.5,58.2 88.0,57.8 88.5,57.4 89.0,57.0 89.5,56.7 90.0,56.4 90.5,56.3 91.0,56.2 91.5,56.2 92.0,56.2 92.5,56.4 93.0,56.6 93.5,57.0 94.0,57.3 94.5,57.7 95.0,58.1 95.5,58.5 96.0,58.9 96.5,59.3 97.0,59.6 97.5,59.8 98.0,60.0 98.5,60.1 99.0,60.1 99.5,60.0 100.0,59.8 100.5,59.5 101.0,59.2 101.5,58.9 102.0,58.5 102.5,58.0 103.0,57.6 103.5,57.2 104.0,56.9 104.5,56.5 105.0,56.3 105.5,56.1 106.0,56.0 106.5,56.0 107.0,56.1 107.5,56.3 108.0,56.5 108.5,56.8 109.0,57.2 109.5,57.6 110.0,58.0 110.5,58.4 111.0,58.8 111.5,59.2 112.0,59.5 112.5,59.7 113.0,59.9 113.5,60.0 114.0,60.0 114.5,59.9 115.0,59.7 115.5,59.5 116.0,59.2 116.5,58.8 117.0,58.4 117.5,58.0 118.0,57.6 118.5,57.2 119.0,56.8 119.5,56.5 120.0,56.3 120.5,56.1 121.0,56.0 121.5,56.0 122.0,56.1 122.5,56.3 123.0,56.5 123.5,56.8 124.0,57.2 124.5,57.6 125.0,58.0 125.5,58.4 126.0,58.8 126.5,59.2 127.0,59.5 127.5,59.8 128.0,60.0 128.5,60.1 129.0,60.1 129.5,60.0 130.0,59.9 130.5,59.7 131.0,59.4 131.5,59.1 132.0,58.8 132.5,58.4 133.0,58.0 133.5,57.7 134.0,57.4 134.5,57.1 135.0,57.0 135.5,56.9 136.0,56.9 136.5,56.9 137.0,57.1 137.5,57.3 138.0,57.7 138.5,58.1 139.0,58.5 139.5,59.0 140.0,59.5 140.5,60.0 141.0,60.5 141.5,61.0 142.0,61.4 142.5,61.8 143.0,62.0 143.5,62.2 144.0,62.3 144.5,62.4 145.0,62.3 145.5,62.2 146.0,62.0 146.5,61.8 147.0,61.5 147.5,61.2 148.0,60.9 148.5,60.7 149.0,60.4 149.5,60.3 150.0,60.1 150.5,60.1 151.0,60.2 151.5,60.3 152.0,60.5 152.5,60.9 153.0,61.3 153.5,61.7 154.0,62.2 154.5,62.8 155.0,63.3 155.5,63.9 156.0,64.5 156.5,65.0 157.0,65.5 157.5,65.9 158.0,66.2 158.5,66.4 159.0,66.6 159.5,66.7 160.0,66.7 160.5,66.6 161.0,66.5 161.5,66.3 162.0,66.0 162.5,65.8 163.0,65.5 163.5,65.3 164.0,65.1 164.5,65.0 165.0,64.9 165.5,64.9 166.0,65.0 166.5,65.2 167.0,65.4 167.5,65.8 168.0,66.2 168.5,66.7 169.0,67.2 169.5,67.8 170.0,68.4 170.5,69.0 171.0,69.6 171.5,70.1 172.0,70.6 172.5,71.0 173.0,71.4 173.5,71.7 174.0,71.8 174.5,71.9 175.0,71.9 175.5,71.9 176.0,71.7 176.5,71.5 177.0,71.3 177.5,71.1 178.0,70.8 178.5,70.6 179.0,70.4 179.5,70.3 180.0,70.2 180.5,70.2 181.0,70.3 181.5,70.5 182.0,70.7 182.5,71.1 183.0,71.5 183.5,72.0 184.0,72.5 184.5,73.1 185.0,73.7 185.5,74.2 186.0,74.8 186.5,75.3 187.0,75.8 187.5,76.2 188.0,76.5 188.5,76.8 189.0,76.9 189.5,77.0 190.0,77.0 190.5,76.9 191.0,76.7 191.5,76.5 192.0,76.3 192.5,76.0 193.0,75.7 193.5,75.5 194.0,75.3 194.5,75.1 195.0,75.0 195.5,75.0 196.0,75.0 196.5,75.1 197.0,75.4 197.5,75.7 198.0,76.0 198.5,76.5 199.0,76.9 199.5,77.5 200.0,78.0 200.5,78.5 201.0,79.0 201.5,79.5 202.0,80.0 202.5,80.3 203.0,80.6 203.5,80.8 204.0,80.9 204.5,81.0 205.0,80.9 205.5,80.8 206.0,80.6 206.5,80.3 207.0,80.0 207.5,79.7 208.0,79.4 208.5,79.2 209.0,78.9 209.5,78.7 210.0,78.6 210.5,78.5 211.0,78.6 211.5,78.7 212.0,78.9 212.5,79.2 213.0,79.5 213.5,79.9 214.0,80.4 214.5,80.9 215.0,81.5 215.5,82.0 216.0,82.5 216.5,83.0 217.0,83.4 217.5,83.8 218.0,84.0 218.5,84.2 219.0,84.3 219.5,84.4 220.0,84.3 220.5,84.2 221.0,84.0 221.5,83.7 222.0,83.4 222.5,83.1 223.0,82.8 223.5,82.5 224.0,82.3 224.5,82.1 225.0,81.9 225.5,81.9 226.0,81.9 226.5,82.0 227.0,82.2 227.5,82.5 228.0,82.8 228.5,83.3 229.0,83.7 229.5,84.2 230.0,84.8 230.5,85.3 231.0,85.8 231.5,86.3 232.0,86.7 232.5,87.0 233.0,87.3 233.5,87.5 234.0,87.6 234.5,87.6 235.0,87.6 235.5,87.4 236.0,87.2 236.5,87.0 237.0,86.7 237.5,86.4 238.0,86.0 238.5,85.7 239.0,85.5 239.5,85.3 240.0,85.1 240.5,85.1 241.0,85.1 241.5,85.2 242.0,85.4 242.5,85.7 243.0,86.0 243.5,86.4 244.0,86.9 244.5,87.4 245.0,87.9 245.5,88.4 246.0,88.9 246.5,89.4 247.0,89.8 247.5,90.1 248.0,90.4 248.5,90.6 249.0,90.7 249.5,90.7 250.0,90.6 250.5,90.5 251.0,90.3 251.5,90.0 252.0,89.7 252.5,89.4 253.0,89.1 253.5,88.8 254.0,88.5 254.5,88.3 255.0,88.2 255.5,88.1 256.0,88.1 256.5,88.2 257.0,88.4 257.5,88.7 258.0,89.0 258.5,89.4 259.0,89.9 259.5,90.4 260.0,90.9 260.5,91.4 261.0,91.9 261.5,92.3 262.0,92.7 262.5,93.1 263.0,93.3 263.5,93.5 264.0,93.6 264.5,93.6 265.0,93.5 265.5,93.4 266.0,93.2" fill="none" stroke="#0a7a0a" stroke-width="1.9" stroke-dasharray="1.8 1.8"/>
<polyline points="46.0,137.4 47.0,137.5 48.0,137.5 49.0,137.6 50.0,137.7 51.0,137.7 52.0,137.8 53.0,137.9 54.0,137.9 55.0,138.0 56.0,138.1 57.0,138.1 58.0,138.2 59.0,138.3 60.0,138.3 61.0,138.4 62.0,138.5 63.0,138.5 64.0,138.6 65.0,138.7 66.0,138.7 67.0,138.8 68.0,138.9 69.0,138.9 70.0,139.0 71.0,139.1 72.0,139.1 73.0,139.2 74.0,139.3 75.0,139.3 76.0,139.4 77.0,139.5 78.0,139.5 79.0,139.6 80.0,139.7 81.0,139.7 82.0,139.8 83.0,139.9 84.0,140.0 85.0,140.0 86.0,140.1 87.0,140.2 88.0,140.2 89.0,140.3 90.0,140.4 91.0,140.4 92.0,140.5 93.0,140.6 94.0,140.7 95.0,140.7 96.0,140.8 97.0,140.9 98.0,140.9 99.0,141.0 100.0,141.1 101.0,141.1 102.0,141.2 103.0,141.3 104.0,141.4 105.0,141.4 106.0,141.5 107.0,141.6 108.0,141.6 109.0,141.7 110.0,141.8 111.0,141.9 112.0,141.9 113.0,142.0 114.0,142.1 115.0,142.1 116.0,142.2 117.0,142.3 118.0,142.4 119.0,142.4 120.0,142.5 121.0,142.6 122.0,142.7 123.0,142.7 124.0,142.8 125.0,142.9 126.0,142.9 127.0,143.0 128.0,143.1 129.0,143.2 130.0,143.2 131.0,143.3 132.0,143.4 133.0,143.5 134.0,143.5 135.0,143.6 136.0,143.7 137.0,143.8 138.0,143.8 139.0,143.9 140.0,144.0 141.0,144.1 142.0,144.1 143.0,144.2 144.0,144.3 145.0,144.4 146.0,144.4 147.0,144.5 148.0,144.6 149.0,144.7 150.0,144.7 151.0,144.8 152.0,144.9 153.0,145.0 154.0,145.0 155.0,145.1 156.0,145.2 157.0,145.3 158.0,145.3 159.0,145.4 160.0,145.5 161.0,145.6 162.0,145.6 163.0,145.7 164.0,145.8 165.0,145.9 166.0,145.9 167.0,146.0 168.0,146.1 169.0,146.2 170.0,146.3 171.0,146.3 172.0,146.4 173.0,146.5 174.0,146.6 175.0,146.6 176.0,146.7 177.0,146.8 178.0,146.9 179.0,147.0 180.0,147.0 181.0,147.1 182.0,147.2 183.0,147.3 184.0,147.3 185.0,147.4 186.0,147.5 187.0,147.6 188.0,147.7 189.0,147.7 190.0,147.8 191.0,147.9 192.0,148.0 193.0,148.1 194.0,148.1 195.0,148.2 196.0,148.3 197.0,148.4 198.0,148.5 199.0,148.5 200.0,148.6 201.0,148.7 202.0,148.8 203.0,148.9 204.0,148.9 205.0,149.0 206.0,149.1 207.0,149.2 208.0,149.3 209.0,149.3 210.0,149.4 211.0,149.5 212.0,149.6 213.0,149.7 214.0,149.7 215.0,149.8 216.0,149.9 217.0,150.0 218.0,150.1 219.0,150.2 220.0,150.2 221.0,150.3 222.0,150.4 223.0,150.5 224.0,150.6 225.0,150.7 226.0,150.7 227.0,150.8 228.0,150.9 229.0,151.0 230.0,151.1 231.0,151.1 232.0,151.2 233.0,151.3 234.0,151.4 235.0,151.5 236.0,151.6 237.0,151.6 238.0,151.7 239.0,151.8 240.0,151.9 241.0,152.0 242.0,152.1 243.0,152.2 244.0,152.2 245.0,152.3 246.0,152.4 247.0,152.5 248.0,152.6 249.0,152.7 250.0,152.7 251.0,152.8 252.0,152.9 253.0,153.0 254.0,153.1 255.0,153.2 256.0,153.3 257.0,153.3 258.0,153.4 259.0,153.5 260.0,153.6 261.0,153.7 262.0,153.8 263.0,153.9 264.0,153.9 265.0,154.0 266.0,154.1" fill="none" stroke="#000000" stroke-width="2.4" stroke-linejoin="round"/>
<polyline points="46.0,95.1 47.0,95.3 48.0,95.5 49.0,95.6 50.0,95.8 51.0,96.0 52.0,96.2 53.0,96.3 54.0,96.5 55.0,96.7 56.0,96.9 57.0,97.0 58.0,97.2 59.0,97.4 60.0,97.6 61.0,97.7 62.0,97.9 63.0,98.1 64.0,98.3 65.0,98.4 66.0,98.6 67.0,98.8 68.0,99.0 69.0,99.2 70.0,99.3 71.0,99.5 72.0,99.7 73.0,99.9 74.0,100.0 75.0,100.2 76.0,100.4 77.0,100.6 78.0,100.7 79.0,100.9 80.0,101.1 81.0,101.3 82.0,101.4 83.0,101.6 84.0,101.8 85.0,102.0 86.0,102.2 87.0,102.3 88.0,102.5 89.0,102.7 90.0,102.9 91.0,103.0 92.0,103.2 93.0,103.4 94.0,103.6 95.0,103.8 96.0,103.9 97.0,104.1 98.0,104.3 99.0,104.5 100.0,104.6 101.0,104.8 102.0,105.0 103.0,105.2 104.0,105.4 105.0,105.5 106.0,105.7 107.0,105.9 108.0,106.1 109.0,106.3 110.0,106.4 111.0,106.6 112.0,106.8 113.0,107.0 114.0,107.1 115.0,107.3 116.0,107.5 117.0,107.7 118.0,107.9 119.0,108.0 120.0,108.2 121.0,108.4 122.0,108.6 123.0,108.8 124.0,108.9 125.0,109.1 126.0,109.3 127.0,109.5 128.0,109.7 129.0,109.8 130.0,110.0 131.0,110.2 132.0,110.4 133.0,110.6 134.0,110.7 135.0,110.9 136.0,111.1 137.0,111.3 138.0,111.5 139.0,111.6 140.0,111.8 141.0,112.0 142.0,112.2 143.0,112.4 144.0,112.6 145.0,112.7 146.0,112.9 147.0,113.1 148.0,113.3 149.0,113.5 150.0,113.6 151.0,113.8 152.0,114.0 153.0,114.2 154.0,114.4 155.0,114.6 156.0,114.7 157.0,114.9 158.0,115.1 159.0,115.3 160.0,115.5 161.0,115.6 162.0,115.8 163.0,116.0 164.0,116.2 165.0,116.4 166.0,116.6 167.0,116.7 168.0,116.9 169.0,117.1 170.0,117.3 171.0,117.5 172.0,117.7 173.0,117.8 174.0,118.0 175.0,118.2 176.0,118.4 177.0,118.6 178.0,118.8 179.0,118.9 180.0,119.1 181.0,119.3 182.0,119.5 183.0,119.7 184.0,119.9 185.0,120.0 186.0,120.2 187.0,120.4 188.0,120.6 189.0,120.8 190.0,121.0 191.0,121.2 192.0,121.3 193.0,121.5 194.0,121.7 195.0,121.9 196.0,122.1 197.0,122.3 198.0,122.4 199.0,122.6 200.0,122.8 201.0,123.0 202.0,123.2 203.0,123.4 204.0,123.6 205.0,123.7 206.0,123.9 207.0,124.1 208.0,124.3 209.0,124.5 210.0,124.7 211.0,124.9 212.0,125.0 213.0,125.2 214.0,125.4 215.0,125.6 216.0,125.8 217.0,126.0 218.0,126.2 219.0,126.3 220.0,126.5 221.0,126.7 222.0,126.9 223.0,127.1 224.0,127.3 225.0,127.5 226.0,127.7 227.0,127.8 228.0,128.0 229.0,128.2 230.0,128.4 231.0,128.6 232.0,128.8 233.0,129.0 234.0,129.2 235.0,129.3 236.0,129.5 237.0,129.7 238.0,129.9 239.0,130.1 240.0,130.3 241.0,130.5 242.0,130.7 243.0,130.8 244.0,131.0 245.0,131.2 246.0,131.4 247.0,131.6 248.0,131.8 249.0,132.0 250.0,132.2 251.0,132.4 252.0,132.5 253.0,132.7 254.0,132.9 255.0,133.1 256.0,133.3 257.0,133.5 258.0,133.7 259.0,133.9 260.0,134.1 261.0,134.2 262.0,134.4 263.0,134.6 264.0,134.8 265.0,135.0 266.0,135.2" fill="none" stroke="#ff0000" stroke-width="2.4" stroke-linejoin="round"/>
<polyline points="46.0,68.2 47.0,68.4 48.0,68.6 49.0,68.8 50.0,69.0 51.0,69.2 52.0,69.4 53.0,69.6 54.0,69.8 55.0,70.0 56.0,70.2 57.0,70.4 58.0,70.6 59.0,70.8 60.0,71.0 61.0,71.2 62.0,71.4 63.0,71.6 64.0,71.8 65.0,72.0 66.0,72.2 67.0,72.4 68.0,72.6 69.0,72.8 70.0,73.1 71.0,73.3 72.0,73.5 73.0,73.7 74.0,73.9 75.0,74.1 76.0,74.3 77.0,74.5 78.0,74.7 79.0,74.9 80.0,75.1 81.0,75.3 82.0,75.5 83.0,75.7 84.0,75.9 85.0,76.1 86.0,76.3 87.0,76.5 88.0,76.7 89.0,76.9 90.0,77.1 91.0,77.4 92.0,77.6 93.0,77.8 94.0,78.0 95.0,78.2 96.0,78.4 97.0,78.6 98.0,78.8 99.0,79.0 100.0,79.2 101.0,79.4 102.0,79.6 103.0,79.8 104.0,80.0 105.0,80.2 106.0,80.5 107.0,80.7 108.0,80.9 109.0,81.1 110.0,81.3 111.0,81.5 112.0,81.7 113.0,81.9 114.0,82.1 115.0,82.3 116.0,82.5 117.0,82.7 118.0,83.0 119.0,83.2 120.0,83.4 121.0,83.6 122.0,83.8 123.0,84.0 124.0,84.2 125.0,84.4 126.0,84.6 127.0,84.8 128.0,85.0 129.0,85.3 130.0,85.5 131.0,85.7 132.0,85.9 133.0,86.1 134.0,86.3 135.0,86.5 136.0,86.7 137.0,86.9 138.0,87.2 139.0,87.4 140.0,87.6 141.0,87.8 142.0,88.0 143.0,88.2 144.0,88.4 145.0,88.6 146.0,88.8 147.0,89.1 148.0,89.3 149.0,89.5 150.0,89.7 151.0,89.9 152.0,90.1 153.0,90.3 154.0,90.5 155.0,90.8 156.0,91.0 157.0,91.2 158.0,91.4 159.0,91.6 160.0,91.8 161.0,92.0 162.0,92.2 163.0,92.5 164.0,92.7 165.0,92.9 166.0,93.1 167.0,93.3 168.0,93.5 169.0,93.7 170.0,94.0 171.0,94.2 172.0,94.4 173.0,94.6 174.0,94.8 175.0,95.0 176.0,95.2 177.0,95.5 178.0,95.7 179.0,95.9 180.0,96.1 181.0,96.3 182.0,96.5 183.0,96.8 184.0,97.0 185.0,97.2 186.0,97.4 187.0,97.6 188.0,97.8 189.0,98.1 190.0,98.3 191.0,98.5 192.0,98.7 193.0,98.9 194.0,99.1 195.0,99.4 196.0,99.6 197.0,99.8 198.0,100.0 199.0,100.2 200.0,100.4 201.0,100.7 202.0,100.9 203.0,101.1 204.0,101.3 205.0,101.5 206.0,101.7 207.0,102.0 208.0,102.2 209.0,102.4 210.0,102.6 211.0,102.8 212.0,103.1 213.0,103.3 214.0,103.5 215.0,103.7 216.0,103.9 217.0,104.1 218.0,104.4 219.0,104.6 220.0,104.8 221.0,105.0 222.0,105.2 223.0,105.5 224.0,105.7 225.0,105.9 226.0,106.1 227.0,106.3 228.0,106.6 229.0,106.8 230.0,107.0 231.0,107.2 232.0,107.5 233.0,107.7 234.0,107.9 235.0,108.1 236.0,108.3 237.0,108.6 238.0,108.8 239.0,109.0 240.0,109.2 241.0,109.4 242.0,109.7 243.0,109.9 244.0,110.1 245.0,110.3 246.0,110.6 247.0,110.8 248.0,111.0 249.0,111.2 250.0,111.4 251.0,111.7 252.0,111.9 253.0,112.1 254.0,112.3 255.0,112.6 256.0,112.8 257.0,113.0 258.0,113.2 259.0,113.5 260.0,113.7 261.0,113.9 262.0,114.1 263.0,114.3 264.0,114.6 265.0,114.8 266.0,115.0" fill="none" stroke="#0000ff" stroke-width="2.4" stroke-linejoin="round"/>
<polyline points="46.0,48.5 47.0,48.7 48.0,48.9 49.0,49.1 50.0,49.2 51.0,49.4 52.0,49.6 53.0,49.8 54.0,50.0 55.0,50.1 56.0,50.3 57.0,50.5 58.0,50.7 59.0,50.9 60.0,51.0 61.0,51.2 62.0,51.4 63.0,51.6 64.0,51.8 65.0,52.0 66.0,52.1 67.0,52.3 68.0,52.5 69.0,52.7 70.0,52.9 71.0,53.1 72.0,53.3 73.0,53.4 74.0,53.6 75.0,53.8 76.0,54.0 77.0,54.2 78.0,54.4 79.0,54.6 80.0,54.8 81.0,55.0 82.0,55.1 83.0,55.3 84.0,55.5 85.0,55.7 86.0,55.9 87.0,56.1 88.0,56.3 89.0,56.5 90.0,56.7 91.0,56.9 92.0,57.1 93.0,57.3 94.0,57.5 95.0,57.7 96.0,57.9 97.0,58.1 98.0,58.2 99.0,58.4 100.0,58.6 101.0,58.8 102.0,59.0 103.0,59.2 104.0,59.4 105.0,59.6 106.0,59.8 107.0,60.0 108.0,60.2 109.0,60.4 110.0,60.6 111.0,60.8 112.0,61.0 113.0,61.2 114.0,61.5 115.0,61.7 116.0,61.9 117.0,62.1 118.0,62.3 119.0,62.5 120.0,62.7 121.0,62.9 122.0,63.1 123.0,63.3 124.0,63.5 125.0,63.7 126.0,63.9 127.0,64.1 128.0,64.3 129.0,64.6 130.0,64.8 131.0,65.0 132.0,65.2 133.0,65.4 134.0,65.6 135.0,65.8 136.0,66.0 137.0,66.2 138.0,66.5 139.0,66.7 140.0,66.9 141.0,67.1 142.0,67.3 143.0,67.5 144.0,67.7 145.0,68.0 146.0,68.2 147.0,68.4 148.0,68.6 149.0,68.8 150.0,69.0 151.0,69.3 152.0,69.5 153.0,69.7 154.0,69.9 155.0,70.1 156.0,70.4 157.0,70.6 158.0,70.8 159.0,71.0 160.0,71.2 161.0,71.5 162.0,71.7 163.0,71.9 164.0,72.1 165.0,72.3 166.0,72.6 167.0,72.8 168.0,73.0 169.0,73.2 170.0,73.5 171.0,73.7 172.0,73.9 173.0,74.2 174.0,74.4 175.0,74.6 176.0,74.8 177.0,75.1 178.0,75.3 179.0,75.5 180.0,75.8 181.0,76.0 182.0,76.2 183.0,76.4 184.0,76.7 185.0,76.9 186.0,77.1 187.0,77.4 188.0,77.6 189.0,77.8 190.0,78.1 191.0,78.3 192.0,78.5 193.0,78.8 194.0,79.0 195.0,79.2 196.0,79.5 197.0,79.7 198.0,80.0 199.0,80.2 200.0,80.4 201.0,80.7 202.0,80.9 203.0,81.1 204.0,81.4 205.0,81.6 206.0,81.9 207.0,82.1 208.0,82.3 209.0,82.6 210.0,82.8 211.0,83.1 212.0,83.3 213.0,83.5 214.0,83.8 215.0,84.0 216.0,84.3 217.0,84.5 218.0,84.8 219.0,85.0 220.0,85.3 221.0,85.5 222.0,85.8 223.0,86.0 224.0,86.2 225.0,86.5 226.0,86.7 227.0,87.0 228.0,87.2 229.0,87.5 230.0,87.7 231.0,88.0 232.0,88.2 233.0,88.5 234.0,88.7 235.0,89.0 236.0,89.2 237.0,89.5 238.0,89.7 239.0,90.0 240.0,90.3 241.0,90.5 242.0,90.8 243.0,91.0 244.0,91.3 245.0,91.5 246.0,91.8 247.0,92.0 248.0,92.3 249.0,92.6 250.0,92.8 251.0,93.1 252.0,93.3 253.0,93.6 254.0,93.8 255.0,94.1 256.0,94.4 257.0,94.6 258.0,94.9 259.0,95.1 260.0,95.4 261.0,95.7 262.0,95.9 263.0,96.2 264.0,96.5 265.0,96.7 266.0,97.0" fill="none" stroke="#007f00" stroke-width="2.4" stroke-linejoin="round"/>
</g>
<g clip-path="url(#cLL)">
<polyline points="46.0,300.7 46.5,303.3 47.0,305.7 47.5,308.0 48.0,310.1 48.5,312.0 49.0,313.5 49.5,314.7 50.0,314.5 50.5,312.8 51.0,310.6 51.5,307.9 52.0,304.9 52.5,301.7 53.0,298.1 53.5,294.5 54.0,290.9 54.5,287.3 55.0,283.9 55.5,280.7 56.0,277.9 56.5,275.5 57.0,273.5 57.5,272.0 58.0,273.5 58.5,275.5 59.0,277.9 59.5,280.8 60.0,284.0 60.5,287.4 61.0,291.0 61.5,294.7 62.0,298.4 62.5,301.9 63.0,305.3 63.5,308.3 64.0,311.0 64.5,313.3 65.0,315.1 65.5,315.3 66.0,313.2 66.5,310.5 67.0,307.3 67.5,303.6 68.0,299.6 68.5,295.2 69.0,290.8 69.5,286.2 70.0,281.7 70.5,277.5 71.0,273.5 71.5,269.9 72.0,266.8 72.5,264.2 73.0,262.3 73.5,263.3 74.0,265.6 74.5,268.4 75.0,271.7 75.5,275.5 76.0,279.6 76.5,283.8 77.0,288.2 77.5,292.6 78.0,296.8 78.5,300.7 79.0,304.3 79.5,307.5 80.0,310.1 80.5,312.1 81.0,311.5 81.5,309.0 82.0,305.7 82.5,301.8 83.0,297.4 83.5,292.6 84.0,287.5 84.5,282.3 85.0,277.0 85.5,272.0 86.0,267.1 86.5,262.7 87.0,258.9 87.5,255.6 88.0,253.0 88.5,252.5 89.0,254.7 89.5,257.6 90.0,261.0 90.5,264.9 91.0,269.2 91.5,273.8 92.0,278.5 92.5,283.3 93.0,287.9 93.5,292.3 94.0,296.4 94.5,300.0 95.0,303.1 95.5,305.6 96.0,306.7 96.5,304.3 97.0,301.1 97.5,297.3 98.0,292.9 98.5,288.0 99.0,282.7 99.5,277.2 100.0,271.7 100.5,266.3 101.0,261.1 101.5,256.3 102.0,252.0 102.5,248.3 103.0,245.3 103.5,243.0 104.0,244.7 104.5,246.9 105.0,249.7 105.5,252.9 106.0,256.4 106.5,260.3 107.0,264.4 107.5,268.5 108.0,272.7 108.5,276.7 109.0,280.6 109.5,284.1 110.0,287.2 110.5,289.8 111.0,291.9 111.5,292.9 112.0,290.9 112.5,288.4 113.0,285.2 113.5,281.6 114.0,277.6 114.5,273.3 115.0,268.8 115.5,264.2 116.0,259.7 116.5,255.3 117.0,251.1 117.5,247.4 118.0,244.0 118.5,241.2 119.0,239.0 119.5,238.4 120.0,239.7 120.5,241.3 121.0,243.3 121.5,245.6 122.0,248.1 122.5,250.7 123.0,253.5 123.5,256.4 124.0,259.2 124.5,262.0 125.0,264.6 125.5,267.1 126.0,269.2 126.5,271.1 127.0,272.7 127.5,273.9 128.0,272.9 128.5,271.3 129.0,269.4 129.5,267.2 130.0,264.7 130.5,261.9 131.0,259.0 131.5,256.1 132.0,253.0 132.5,250.1 133.0,247.2 133.5,244.5 134.0,242.1 134.5,240.0 135.0,238.2 135.5,236.7 136.0,236.4 136.5,237.6 137.0,239.2 137.5,241.1 138.0,243.3 138.5,245.7 139.0,248.3 139.5,250.8 140.0,253.4 140.5,255.9 141.0,258.2 141.5,260.2 142.0,261.9 142.5,263.3 143.0,263.9 143.5,262.3 144.0,260.3 144.5,257.9 145.0,255.1 145.5,252.0 146.0,248.6 146.5,245.2 147.0,241.8 147.5,238.5 148.0,235.4 148.5,232.7 149.0,230.3 149.5,228.4 150.0,227.0 150.5,228.1 151.0,229.6 151.5,231.5 152.0,233.7 152.5,236.1 153.0,238.7 153.5,241.4 154.0,244.1 154.5,246.8 155.0,249.4 155.5,251.8 156.0,253.9 156.5,255.7 157.0,257.1 157.5,257.7 158.0,256.1 158.5,253.9 159.0,251.2 159.5,248.1 160.0,244.7 160.5,241.1 161.0,237.3 161.5,233.5 162.0,229.8 162.5,226.3 163.0,223.1 163.5,220.3 164.0,217.9 164.5,216.0 165.0,215.7 165.5,217.5 166.0,219.8 166.5,222.6 167.0,225.7 167.5,229.2 168.0,232.9 168.5,236.6 169.0,240.4 169.5,244.1 170.0,247.5 170.5,250.7 171.0,253.4 171.5,255.6 172.0,257.3 172.5,256.7 173.0,254.9 173.5,252.6 174.0,249.8 174.5,246.7 175.0,243.3 175.5,239.7 176.0,236.1 176.5,232.5 177.0,229.0 177.5,225.8 178.0,223.0 178.5,220.5 179.0,218.5 179.5,217.0 180.0,218.1 180.5,219.6 181.0,221.4 181.5,223.4 182.0,225.8 182.5,228.3 183.0,231.0 183.5,233.7 184.0,236.4 184.5,239.0 185.0,241.5 185.5,243.8 186.0,245.8 186.5,247.6 187.0,249.0 187.5,249.7 188.0,248.8 188.5,247.6 189.0,246.2 189.5,244.6 190.0,242.8 190.5,240.9 191.0,238.9 191.5,236.8 192.0,234.8 192.5,232.8 193.0,231.0 193.5,229.3 194.0,227.8 194.5,226.5 195.0,225.5 195.5,225.3 196.0,226.2 196.5,227.2 197.0,228.5 197.5,230.0 198.0,231.6 198.5,233.4 199.0,235.2 199.5,237.0 200.0,238.9 200.5,240.7 201.0,242.3 201.5,243.9 202.0,245.2 202.5,246.4 203.0,247.3 203.5,247.8 204.0,247.1 204.5,246.2 205.0,245.1 205.5,243.9 206.0,242.5 206.5,241.0 207.0,239.4 207.5,237.8 208.0,236.2 208.5,234.6 209.0,233.1 209.5,231.8 210.0,230.6 210.5,229.5 211.0,228.7 211.5,228.0 212.0,228.6 212.5,229.4 213.0,230.3 213.5,231.4 214.0,232.6 214.5,233.9 215.0,235.3 215.5,236.8 216.0,238.2 216.5,239.7 217.0,241.1 217.5,242.4 218.0,243.6 218.5,244.7 219.0,245.6 219.5,246.4 220.0,247.0 220.5,246.5 221.0,245.8 221.5,244.9 222.0,243.9 222.5,242.8 223.0,241.6 223.5,240.3 224.0,239.0 224.5,237.7 225.0,236.4 225.5,235.1 226.0,233.9 226.5,232.8 227.0,231.8 227.5,231.0 228.0,230.3 228.5,229.7 229.0,230.6 229.5,231.8 230.0,233.3 230.5,235.0 231.0,236.9 231.5,238.9 232.0,241.0 232.5,243.2 233.0,245.2 233.5,247.1 234.0,248.8 234.5,250.3 235.0,251.5 235.5,252.4 236.0,251.8 236.5,251.1 237.0,250.2 237.5,249.1 238.0,248.0 238.5,246.7 239.0,245.4 239.5,244.2 240.0,242.9 240.5,241.7 241.0,240.7 241.5,239.8 242.0,239.1 242.5,238.5 243.0,239.4 243.5,240.6 244.0,242.0 244.5,243.7 245.0,245.6 245.5,247.7 246.0,249.8 246.5,251.9 247.0,254.1 247.5,256.1 248.0,258.0 248.5,259.7 249.0,261.1 249.5,262.3 250.0,263.2 250.5,262.6 251.0,261.9 251.5,260.9 252.0,259.9 252.5,258.6 253.0,257.3 253.5,256.0 254.0,254.6 254.5,253.2 255.0,251.9 255.5,250.7 256.0,249.6 256.5,248.7 257.0,247.9 257.5,247.3 258.0,248.1 258.5,249.0 259.0,250.2 259.5,251.4 260.0,252.9 260.5,254.5 261.0,256.1 261.5,257.9 262.0,259.8 262.5,261.7 263.0,263.7 263.5,265.6 264.0,267.5 264.5,269.4 265.0,271.2 265.5,272.9 266.0,274.5" fill="none" stroke="#111111" stroke-width="1.8" stroke-dasharray="3.2 2.6"/>
<polyline points="46.0,302.6 46.5,305.6 47.0,308.2 47.5,310.4 48.0,312.1 48.5,311.9 49.0,309.6 49.5,306.7 50.0,303.2 50.5,299.3 51.0,295.0 51.5,290.4 52.0,285.6 52.5,280.8 53.0,276.1 53.5,271.6 54.0,267.4 54.5,263.7 55.0,260.6 55.5,258.0 56.0,256.0 56.5,257.7 57.0,259.8 57.5,262.5 58.0,265.6 58.5,269.1 59.0,272.9 59.5,276.9 60.0,280.9 60.5,284.9 61.0,288.8 61.5,292.5 62.0,295.9 62.5,298.8 63.0,301.3 63.5,303.3 64.0,303.5 64.5,301.2 65.0,298.2 65.5,294.7 66.0,290.7 66.5,286.3 67.0,281.5 67.5,276.6 68.0,271.6 68.5,266.7 69.0,262.0 69.5,257.7 70.0,253.7 70.5,250.3 71.0,247.5 71.5,245.4 72.0,246.7 72.5,249.4 73.0,252.8 73.5,256.8 74.0,261.3 74.5,266.2 75.0,271.3 75.5,276.6 76.0,281.8 76.5,286.8 77.0,291.6 77.5,295.9 78.0,299.6 78.5,302.8 79.0,305.2 79.5,304.5 80.0,301.5 80.5,297.6 81.0,292.9 81.5,287.6 82.0,281.9 82.5,275.8 83.0,269.5 83.5,263.2 84.0,257.1 84.5,251.4 85.0,246.1 85.5,241.4 86.0,237.5 86.5,234.5 87.0,233.9 87.5,236.6 88.0,240.1 88.5,244.3 89.0,249.1 89.5,254.4 90.0,260.0 90.5,265.8 91.0,271.7 91.5,277.4 92.0,282.9 92.5,287.9 93.0,292.3 93.5,296.1 94.0,299.1 94.5,300.5 95.0,297.4 95.5,293.3 96.0,288.3 96.5,282.6 97.0,276.3 97.5,269.5 98.0,262.4 98.5,255.2 99.0,248.2 99.5,241.4 100.0,235.2 100.5,229.6 101.0,224.8 101.5,220.9 102.0,218.0 102.5,220.4 103.0,223.6 103.5,227.4 104.0,232.0 104.5,237.0 105.0,242.5 105.5,248.2 106.0,254.1 106.5,260.0 107.0,265.7 107.5,271.1 108.0,276.0 108.5,280.4 109.0,284.2 109.5,287.2 110.0,288.6 110.5,285.9 111.0,282.4 111.5,278.2 112.0,273.3 112.5,267.8 113.0,262.0 113.5,255.9 114.0,249.6 114.5,243.5 115.0,237.5 115.5,231.9 116.0,226.8 116.5,222.3 117.0,218.5 117.5,215.4 118.0,214.6 118.5,216.4 119.0,218.7 119.5,221.5 120.0,224.6 120.5,228.1 121.0,231.9 121.5,235.8 122.0,239.8 122.5,243.8 123.0,247.7 123.5,251.4 124.0,254.8 124.5,257.8 125.0,260.5 125.5,262.6 126.0,264.3 126.5,262.8 127.0,260.4 127.5,257.4 128.0,254.0 128.5,250.1 129.0,245.9 129.5,241.5 130.0,236.8 130.5,232.2 131.0,227.6 131.5,223.2 132.0,219.1 132.5,215.4 133.0,212.1 133.5,209.3 134.0,207.1 134.5,206.6 135.0,208.7 135.5,211.4 136.0,214.6 136.5,218.2 137.0,222.2 137.5,226.5 138.0,230.8 138.5,235.2 139.0,239.3 139.5,243.1 140.0,246.5 140.5,249.4 141.0,251.7 141.5,252.8 142.0,250.8 142.5,248.2 143.0,245.0 143.5,241.4 144.0,237.3 144.5,233.0 145.0,228.6 145.5,224.2 146.0,219.9 146.5,215.9 147.0,212.4 147.5,209.3 148.0,206.8 148.5,205.0 149.0,206.9 149.5,209.3 150.0,212.4 150.5,216.0 151.0,219.9 151.5,224.2 152.0,228.7 152.5,233.2 153.0,237.6 153.5,241.9 154.0,245.8 154.5,249.2 155.0,252.2 155.5,254.5 156.0,255.6 156.5,253.4 157.0,250.4 157.5,246.8 158.0,242.6 158.5,238.0 159.0,233.1 159.5,228.0 160.0,222.9 160.5,217.9 161.0,213.1 161.5,208.8 162.0,205.0 162.5,201.7 163.0,199.2 163.5,198.8 164.0,201.3 164.5,204.6 165.0,208.5 165.5,212.9 166.0,217.8 166.5,223.1 167.0,228.4 167.5,233.8 168.0,239.0 168.5,243.9 169.0,248.3 169.5,252.1 170.0,255.3 170.5,257.7 171.0,256.6 171.5,253.5 172.0,249.5 172.5,244.8 173.0,239.5 173.5,233.8 174.0,227.7 174.5,221.5 175.0,215.4 175.5,209.5 176.0,204.0 176.5,199.2 177.0,195.0 177.5,191.6 178.0,189.0 178.5,191.1 179.0,193.9 179.5,197.2 180.0,201.2 180.5,205.6 181.0,210.4 181.5,215.4 182.0,220.5 182.5,225.7 183.0,230.7 183.5,235.4 184.0,239.7 184.5,243.5 185.0,246.8 185.5,249.4 186.0,250.8 186.5,249.3 187.0,247.4 187.5,245.1 188.0,242.4 188.5,239.5 189.0,236.3 189.5,232.9 190.0,229.5 190.5,226.1 191.0,222.9 191.5,219.8 192.0,217.0 192.5,214.5 193.0,212.4 193.5,210.8 194.0,210.5 194.5,212.0 195.0,213.8 195.5,216.1 196.0,218.7 196.5,221.5 197.0,224.6 197.5,227.7 198.0,231.0 198.5,234.2 199.0,237.3 199.5,240.2 200.0,242.9 200.5,245.3 201.0,247.3 201.5,249.0 202.0,249.8 202.5,248.8 203.0,247.4 203.5,245.8 204.0,243.9 204.5,241.8 205.0,239.6 205.5,237.2 206.0,234.8 206.5,232.3 207.0,230.0 207.5,227.8 208.0,225.7 208.5,223.9 209.0,222.3 209.5,221.0 210.0,220.0 210.5,221.0 211.0,222.2 211.5,223.8 212.0,225.5 212.5,227.5 213.0,229.7 213.5,232.0 214.0,234.4 214.5,236.8 215.0,239.2 215.5,241.5 216.0,243.7 216.5,245.7 217.0,247.5 217.5,249.0 218.0,250.3 218.5,251.2 219.0,249.9 219.5,248.1 220.0,245.9 220.5,243.4 221.0,240.5 221.5,237.5 222.0,234.2 222.5,230.8 223.0,227.4 223.5,224.0 224.0,220.8 224.5,217.7 225.0,214.9 225.5,212.3 226.0,210.2 226.5,208.4 227.0,207.0 227.5,209.0 228.0,211.7 228.5,215.1 229.0,219.0 229.5,223.3 230.0,228.0 230.5,232.8 231.0,237.6 231.5,242.2 232.0,246.6 232.5,250.5 233.0,253.8 233.5,256.5 234.0,258.5 234.5,257.7 235.0,256.7 235.5,255.3 236.0,253.8 236.5,252.0 237.0,250.2 237.5,248.3 238.0,246.3 238.5,244.5 239.0,242.8 239.5,241.2 240.0,239.9 240.5,238.8 241.0,238.0 241.5,239.8 242.0,242.1 242.5,245.0 243.0,248.3 243.5,252.1 244.0,256.1 244.5,260.3 245.0,264.6 245.5,268.8 246.0,272.9 246.5,276.6 247.0,280.0 247.5,282.9 248.0,285.2 248.5,287.0 249.0,285.6 249.5,283.7 250.0,281.4 250.5,278.7 251.0,275.8 251.5,272.5 252.0,269.2 252.5,265.8 253.0,262.4 253.5,259.2 254.0,256.2 254.5,253.6 255.0,251.3 255.5,249.4 256.0,248.0 256.5,249.6 257.0,251.5 257.5,253.9 258.0,256.5 258.5,259.5 259.0,262.8 259.5,266.3 260.0,270.1 260.5,273.9 261.0,277.9 261.5,282.0 262.0,286.1 262.5,290.1 263.0,293.9 263.5,297.7 264.0,301.2 264.5,304.5 265.0,307.5 265.5,310.1 266.0,312.5" fill="none" stroke="#f01010" stroke-width="1.8" stroke-dasharray="3.2 2.6"/>
<polyline points="46.0,299.0 46.5,302.6 47.0,305.9 47.5,308.8 48.0,311.3 48.5,313.2 49.0,313.7 49.5,311.5 50.0,308.6 50.5,305.0 51.0,301.0 51.5,296.5 52.0,291.7 52.5,286.7 53.0,281.7 53.5,276.7 54.0,271.9 54.5,267.5 55.0,263.5 55.5,260.0 56.0,257.1 56.5,254.9 57.0,255.9 57.5,258.1 58.0,260.8 58.5,264.0 59.0,267.5 59.5,271.4 60.0,275.5 60.5,279.8 61.0,284.0 61.5,288.1 62.0,292.0 62.5,295.6 63.0,298.7 63.5,301.4 64.0,303.6 64.5,304.6 65.0,302.3 65.5,299.4 66.0,295.9 66.5,291.8 67.0,287.3 67.5,282.4 68.0,277.3 68.5,272.2 69.0,267.0 69.5,262.1 70.0,257.5 70.5,253.3 71.0,249.7 71.5,246.6 72.0,244.3 72.5,244.7 73.0,247.4 73.5,250.8 74.0,254.8 74.5,259.4 75.0,264.4 75.5,269.7 76.0,275.1 76.5,280.6 77.0,285.9 77.5,290.9 78.0,295.5 78.5,299.5 79.0,302.9 79.5,305.5 80.0,305.8 80.5,302.8 81.0,298.8 81.5,294.1 82.0,288.7 82.5,282.8 83.0,276.5 83.5,269.9 84.0,263.3 84.5,256.9 85.0,250.8 85.5,245.2 86.0,240.2 86.5,235.9 87.0,232.5 87.5,230.8 88.0,233.5 88.5,237.0 89.0,241.3 89.5,246.2 90.0,251.6 90.5,257.5 91.0,263.5 91.5,269.7 92.0,275.7 92.5,281.5 93.0,286.8 93.5,291.6 94.0,295.7 94.5,299.1 95.0,301.6 95.5,298.5 96.0,294.5 96.5,289.6 97.0,283.8 97.5,277.4 98.0,270.4 98.5,263.2 99.0,255.8 99.5,248.4 100.0,241.4 100.5,234.8 101.0,228.9 101.5,223.8 102.0,219.6 102.5,216.4 103.0,217.8 103.5,220.9 104.0,224.7 104.5,229.3 105.0,234.4 105.5,239.9 106.0,245.8 106.5,251.9 107.0,258.0 107.5,263.9 108.0,269.6 108.5,274.8 109.0,279.4 109.5,283.4 110.0,286.7 110.5,289.2 111.0,286.6 111.5,283.1 112.0,278.9 112.5,274.0 113.0,268.5 113.5,262.5 114.0,256.2 114.5,249.8 115.0,243.4 115.5,237.2 116.0,231.3 116.5,225.9 117.0,221.1 117.5,217.0 118.0,213.7 118.5,212.0 119.0,213.9 119.5,216.2 120.0,219.1 120.5,222.4 121.0,226.1 121.5,230.1 122.0,234.3 122.5,238.5 123.0,242.8 123.5,247.0 124.0,251.0 124.5,254.8 125.0,258.1 125.5,261.0 126.0,263.4 126.5,265.4 127.0,264.5 127.5,262.1 128.0,259.1 128.5,255.5 129.0,251.5 129.5,247.1 130.0,242.5 130.5,237.6 131.0,232.7 131.5,227.8 132.0,223.1 132.5,218.7 133.0,214.6 133.5,211.0 134.0,208.0 134.5,205.5 135.0,204.3 135.5,206.4 136.0,209.1 136.5,212.4 137.0,216.2 137.5,220.4 138.0,224.9 138.5,229.5 139.0,234.2 139.5,238.6 140.0,242.8 140.5,246.5 141.0,249.7 141.5,252.3 142.0,254.2 142.5,252.2 143.0,249.6 143.5,246.3 144.0,242.5 144.5,238.2 145.0,233.7 145.5,228.9 146.0,224.2 146.5,219.6 147.0,215.3 147.5,211.3 148.0,207.9 148.5,205.2 149.0,203.1 149.5,204.3 150.0,206.8 150.5,209.9 151.0,213.6 151.5,217.8 152.0,222.3 152.5,227.0 153.0,231.8 153.5,236.6 154.0,241.2 154.5,245.4 155.0,249.2 155.5,252.4 156.0,255.1 156.5,257.1 157.0,254.8 157.5,251.8 158.0,248.2 158.5,243.9 159.0,239.1 159.5,233.9 160.0,228.5 160.5,223.1 161.0,217.7 161.5,212.6 162.0,207.9 162.5,203.7 163.0,200.2 163.5,197.3 164.0,196.0 164.5,198.5 165.0,201.8 165.5,205.8 166.0,210.4 166.5,215.5 167.0,221.0 167.5,226.7 168.0,232.3 168.5,237.9 169.0,243.1 169.5,247.9 170.0,252.1 170.5,255.6 171.0,258.4 171.5,258.2 172.0,255.1 172.5,251.1 173.0,246.3 173.5,240.9 174.0,234.9 174.5,228.6 175.0,222.1 175.5,215.7 176.0,209.5 176.5,203.7 177.0,198.4 177.5,193.9 178.0,190.1 178.5,187.3 179.0,188.5 179.5,191.3 180.0,194.7 180.5,198.7 181.0,203.3 181.5,208.2 182.0,213.5 182.5,218.8 183.0,224.2 183.5,229.5 184.0,234.5 184.5,239.2 185.0,243.3 185.5,246.9 186.0,249.8 186.5,252.0 187.0,250.5 187.5,248.5 188.0,246.0 188.5,243.2 189.0,240.0 189.5,236.6 190.0,233.0 190.5,229.3 191.0,225.6 191.5,222.0 192.0,218.6 192.5,215.5 193.0,212.7 193.5,210.4 194.0,208.5 194.5,207.6 195.0,209.1 195.5,211.1 196.0,213.5 196.5,216.2 197.0,219.3 197.5,222.5 198.0,226.0 198.5,229.5 199.0,233.1 199.5,236.5 200.0,239.7 200.5,242.7 201.0,245.4 201.5,247.7 202.0,249.6 202.5,251.0 203.0,249.9 203.5,248.4 204.0,246.5 204.5,244.4 205.0,242.0 205.5,239.4 206.0,236.6 206.5,233.8 207.0,230.9 207.5,228.2 208.0,225.5 208.5,223.1 209.0,220.9 209.5,219.0 210.0,217.4 210.5,216.2 211.0,216.8 211.5,218.3 212.0,220.0 212.5,222.0 213.0,224.3 213.5,226.8 214.0,229.5 214.5,232.3 215.0,235.1 215.5,237.9 216.0,240.6 216.5,243.2 217.0,245.6 217.5,247.7 218.0,249.6 218.5,251.1 219.0,252.3 219.5,251.6 220.0,250.2 220.5,248.5 221.0,246.5 221.5,244.2 222.0,241.7 222.5,239.0 223.0,236.2 223.5,233.4 224.0,230.6 224.5,227.9 225.0,225.3 225.5,222.9 226.0,220.8 226.5,218.9 227.0,217.4 227.5,216.2 228.0,217.3 228.5,219.5 229.0,222.2 229.5,225.5 230.0,229.1 230.5,233.0 231.0,237.1 231.5,241.2 232.0,245.2 232.5,248.9 233.0,252.3 233.5,255.3 234.0,257.7 234.5,259.5 235.0,259.2 235.5,258.1 236.0,256.8 236.5,255.2 237.0,253.4 237.5,251.5 238.0,249.5 238.5,247.5 239.0,245.6 239.5,243.7 240.0,242.1 240.5,240.6 241.0,239.4 241.5,238.5 242.0,239.8 242.5,242.2 243.0,245.1 243.5,248.6 244.0,252.5 244.5,256.7 245.0,261.1 245.5,265.6 246.0,270.1 246.5,274.5 247.0,278.5 247.5,282.1 248.0,285.3 248.5,287.9 249.0,289.8 249.5,289.0 250.0,287.1 250.5,284.7 251.0,281.9 251.5,278.7 252.0,275.3 252.5,271.7 253.0,268.0 253.5,264.4 254.0,260.9 254.5,257.6 255.0,254.7 255.5,252.1 256.0,250.0 256.5,248.4 257.0,249.4 257.5,251.4 258.0,253.8 258.5,256.5 259.0,259.6 259.5,263.0 260.0,266.7 260.5,270.6 261.0,274.7 261.5,278.9 262.0,283.2 262.5,287.5 263.0,291.7 263.5,295.9 264.0,299.9 264.5,303.6 265.0,307.2 265.5,310.4 266.0,313.3" fill="none" stroke="#1010f0" stroke-width="1.8" stroke-dasharray="3.2 2.6"/>
<polyline points="46.0,305.0 46.5,307.7 47.0,310.0 47.5,311.7 48.0,310.8 48.5,308.4 49.0,305.3 49.5,301.7 50.0,297.7 50.5,293.2 51.0,288.5 51.5,283.7 52.0,278.8 52.5,274.1 53.0,269.6 53.5,265.5 54.0,261.9 54.5,258.8 55.0,256.3 55.5,255.0 56.0,256.8 56.5,259.2 57.0,262.0 57.5,265.3 58.0,268.9 58.5,272.8 59.0,276.9 59.5,281.1 60.0,285.2 60.5,289.2 61.0,292.9 61.5,296.2 62.0,299.2 62.5,301.6 63.0,303.5 63.5,303.0 64.0,300.4 64.5,297.2 65.0,293.5 65.5,289.2 66.0,284.5 66.5,279.5 67.0,274.3 67.5,269.2 68.0,264.1 68.5,259.3 69.0,254.8 69.5,250.8 70.0,247.4 70.5,244.6 71.0,242.5 71.5,244.7 72.0,247.7 72.5,251.3 73.0,255.5 73.5,260.2 74.0,265.4 74.5,270.7 75.0,276.1 75.5,281.5 76.0,286.7 76.5,291.5 77.0,295.8 77.5,299.6 78.0,302.7 78.5,305.1 79.0,303.4 79.5,300.0 80.0,295.8 80.5,290.8 81.0,285.2 81.5,279.1 82.0,272.7 82.5,266.2 83.0,259.7 83.5,253.4 84.0,247.5 84.5,242.1 85.0,237.4 85.5,233.5 86.0,230.5 86.5,230.9 87.0,234.0 87.5,237.8 88.0,242.3 88.5,247.5 89.0,253.1 89.5,259.1 90.0,265.3 90.5,271.4 91.0,277.4 91.5,283.0 92.0,288.2 92.5,292.7 93.0,296.5 93.5,299.6 94.0,299.9 94.5,296.4 95.0,291.9 95.5,286.5 96.0,280.3 96.5,273.6 97.0,266.3 97.5,258.8 98.0,251.3 98.5,243.9 99.0,236.9 99.5,230.5 100.0,224.8 100.5,219.9 101.0,216.0 101.5,214.1 102.0,216.8 102.5,220.3 103.0,224.6 103.5,229.6 104.0,235.1 104.5,241.0 105.0,247.2 105.5,253.4 106.0,259.7 106.5,265.7 107.0,271.4 107.5,276.6 108.0,281.1 108.5,285.0 109.0,288.0 109.5,288.5 110.0,285.4 110.5,281.5 111.0,276.8 111.5,271.5 112.0,265.6 112.5,259.2 113.0,252.7 113.5,246.0 114.0,239.4 114.5,233.1 115.0,227.1 115.5,221.8 116.0,217.1 116.5,213.2 117.0,210.1 117.5,210.2 118.0,212.3 118.5,215.0 119.0,218.2 119.5,221.9 120.0,225.9 120.5,230.1 121.0,234.6 121.5,239.1 122.0,243.5 122.5,247.9 123.0,251.9 123.5,255.7 124.0,259.0 124.5,261.9 125.0,264.2 125.5,265.6 126.0,263.4 126.5,260.6 127.0,257.2 127.5,253.3 128.0,248.9 128.5,244.1 129.0,239.0 129.5,233.8 130.0,228.6 130.5,223.6 131.0,218.7 131.5,214.1 132.0,210.0 132.5,206.5 133.0,203.5 133.5,201.1 134.0,201.5 134.5,203.9 135.0,207.0 135.5,210.7 136.0,214.9 136.5,219.5 137.0,224.3 137.5,229.2 138.0,234.0 138.5,238.6 139.0,242.8 139.5,246.5 140.0,249.6 140.5,252.0 141.0,252.4 141.5,250.1 142.0,247.0 142.5,243.3 143.0,239.1 143.5,234.5 144.0,229.6 144.5,224.6 145.0,219.7 145.5,214.9 146.0,210.5 146.5,206.6 147.0,203.3 147.5,200.6 148.0,199.4 148.5,201.6 149.0,204.5 149.5,208.0 150.0,212.0 150.5,216.5 151.0,221.3 151.5,226.3 152.0,231.3 152.5,236.2 153.0,240.8 153.5,245.1 154.0,248.8 154.5,251.9 155.0,254.4 155.5,254.7 156.0,252.1 156.5,248.8 157.0,244.8 157.5,240.1 158.0,235.1 158.5,229.7 159.0,224.1 159.5,218.6 160.0,213.2 160.5,208.1 161.0,203.5 161.5,199.5 162.0,196.1 162.5,193.5 163.0,194.0 163.5,196.9 164.0,200.6 164.5,205.0 165.0,209.9 165.5,215.3 166.0,221.1 166.5,226.9 167.0,232.7 167.5,238.3 168.0,243.5 168.5,248.2 169.0,252.2 169.5,255.5 170.0,258.0 170.5,255.8 171.0,252.2 171.5,247.7 172.0,242.5 172.5,236.7 173.0,230.4 173.5,223.8 174.0,217.1 174.5,210.6 175.0,204.3 175.5,198.5 176.0,193.4 176.5,189.0 177.0,185.5 177.5,183.8 178.0,186.2 178.5,189.3 179.0,193.1 179.5,197.5 180.0,202.3 180.5,207.5 181.0,213.0 181.5,218.6 182.0,224.1 182.5,229.4 183.0,234.4 183.5,239.0 184.0,243.0 184.5,246.4 185.0,249.1 185.5,249.8 186.0,248.0 186.5,245.7 187.0,243.0 187.5,239.8 188.0,236.3 188.5,232.6 189.0,228.7 189.5,224.7 190.0,220.9 190.5,217.1 191.0,213.6 191.5,210.5 192.0,207.7 192.5,205.4 193.0,203.6 193.5,203.9 194.0,205.7 194.5,208.0 195.0,210.7 195.5,213.8 196.0,217.2 196.5,220.8 197.0,224.6 197.5,228.4 198.0,232.2 198.5,235.8 199.0,239.2 199.5,242.3 200.0,245.0 200.5,247.3 201.0,249.1 201.5,249.5 202.0,248.1 202.5,246.3 203.0,244.2 203.5,241.7 204.0,239.0 204.5,236.1 205.0,233.0 205.5,229.9 206.0,226.8 206.5,223.9 207.0,221.0 207.5,218.5 208.0,216.2 208.5,214.2 209.0,212.7 209.5,211.9 210.0,213.2 210.5,214.8 211.0,216.7 211.5,219.0 212.0,221.5 212.5,224.2 213.0,227.0 213.5,230.0 214.0,232.9 214.5,235.8 215.0,238.6 215.5,241.3 216.0,243.7 216.5,245.8 217.0,247.6 217.5,249.1 218.0,249.8 218.5,248.6 219.0,247.1 219.5,245.3 220.0,243.1 220.5,240.8 221.0,238.3 221.5,235.6 222.0,232.8 222.5,230.0 223.0,227.3 223.5,224.6 224.0,222.2 224.5,219.9 225.0,217.9 225.5,216.2 226.0,214.8 226.5,214.2 227.0,216.0 227.5,218.4 228.0,221.3 228.5,224.7 229.0,228.4 229.5,232.3 230.0,236.4 230.5,240.4 231.0,244.3 231.5,247.9 232.0,251.1 232.5,253.8 233.0,255.9 233.5,257.1 234.0,256.3 234.5,255.1 235.0,253.8 235.5,252.2 236.0,250.5 236.5,248.6 237.0,246.7 237.5,244.8 238.0,243.0 238.5,241.4 239.0,239.9 239.5,238.6 240.0,237.6 240.5,237.3 241.0,239.1 241.5,241.5 242.0,244.4 242.5,247.7 243.0,251.5 243.5,255.5 244.0,259.6 244.5,263.8 245.0,267.9 245.5,271.8 246.0,275.3 246.5,278.5 247.0,281.2 247.5,283.4 248.0,284.5 248.5,283.0 249.0,281.1 249.5,278.8 250.0,276.1 250.5,273.2 251.0,270.0 251.5,266.7 252.0,263.4 252.5,260.1 253.0,257.0 253.5,254.1 254.0,251.6 254.5,249.4 255.0,247.7 255.5,246.9 256.0,248.6 256.5,250.8 257.0,253.2 257.5,256.1 258.0,259.2 258.5,262.7 259.0,266.3 259.5,270.2 260.0,274.3 260.5,278.4 261.0,282.6 261.5,286.8 262.0,290.9 262.5,294.9 263.0,298.8 263.5,302.4 264.0,305.7 264.5,308.7 265.0,311.4 265.5,313.7 266.0,315.7" fill="none" stroke="#0a7a0a" stroke-width="1.8" stroke-dasharray="3.2 2.6"/>
<polyline points="46.0,276.7 46.5,276.4 47.0,276.0 47.5,275.7 48.0,275.3 48.5,275.0 49.0,274.7 49.5,274.3 50.0,274.0 50.5,273.7 51.0,273.3 51.5,273.0 52.0,272.7 52.5,272.3 53.0,272.0 53.5,271.7 54.0,271.4 54.5,271.1 55.0,270.7 55.5,270.4 56.0,270.1 56.5,269.8 57.0,269.5 57.5,269.2 58.0,268.9 58.5,268.6 59.0,268.3 59.5,267.9 60.0,267.6 60.5,267.4 61.0,267.1 61.5,266.8 62.0,266.5 62.5,266.2 63.0,265.9 63.5,265.6 64.0,265.3 64.5,265.0 65.0,264.8 65.5,264.5 66.0,264.2 66.5,263.9 67.0,263.7 67.5,263.4 68.0,263.1 68.5,262.9 69.0,262.6 69.5,262.3 70.0,262.1 70.5,261.8 71.0,261.6 71.5,261.3 72.0,261.1 72.5,260.8 73.0,260.6 73.5,260.4 74.0,260.1 74.5,259.9 75.0,259.7 75.5,259.4 76.0,259.2 76.5,259.0 77.0,258.7 77.5,258.5 78.0,258.3 78.5,258.1 79.0,257.9 79.5,257.7 80.0,257.5 80.5,257.3 81.0,257.1 81.5,256.9 82.0,256.7 82.5,256.5 83.0,256.3 83.5,256.1 84.0,255.9 84.5,255.8 85.0,255.6 85.5,255.4 86.0,255.3 86.5,255.1 87.0,254.9 87.5,254.8 88.0,254.6 88.5,254.5 89.0,254.3 89.5,254.2 90.0,254.0 90.5,253.9 91.0,253.7 91.5,253.6 92.0,253.5 92.5,253.4 93.0,253.2 93.5,253.1 94.0,253.0 94.5,252.9 95.0,252.8 95.5,252.7 96.0,252.5 96.5,252.4 97.0,252.3 97.5,252.2 98.0,252.1 98.5,252.0 99.0,251.9 99.5,251.8 100.0,251.6 100.5,251.5 101.0,251.4 101.5,251.3 102.0,251.2 102.5,251.1 103.0,251.0 103.5,250.9 104.0,250.8 104.5,250.7 105.0,250.6 105.5,250.5 106.0,250.4 106.5,250.3 107.0,250.2 107.5,250.1 108.0,250.0 108.5,249.9 109.0,249.8 109.5,249.7 110.0,249.6 110.5,249.5 111.0,249.4 111.5,249.3 112.0,249.2 112.5,249.1 113.0,249.1 113.5,249.0 114.0,248.9 114.5,248.8 115.0,248.7 115.5,248.7 116.0,248.6 116.5,248.5 117.0,248.5 117.5,248.4 118.0,248.3 118.5,248.3 119.0,248.2 119.5,248.1 120.0,248.1 120.5,248.0 121.0,248.0 121.5,247.9 122.0,247.9 122.5,247.8 123.0,247.8 123.5,247.8 124.0,247.7 124.5,247.7 125.0,247.7 125.5,247.6 126.0,247.6 126.5,247.6 127.0,247.6 127.5,247.5 128.0,247.5 128.5,247.5 129.0,247.5 129.5,247.5 130.0,247.5 130.5,247.5 131.0,247.5 131.5,247.5 132.0,247.5 132.5,247.5 133.0,247.5 133.5,247.5 134.0,247.5 134.5,247.5 135.0,247.5 135.5,247.5 136.0,247.5 136.5,247.5 137.0,247.5 137.5,247.5 138.0,247.5 138.5,247.5 139.0,247.5 139.5,247.5 140.0,247.5 140.5,247.5 141.0,247.5 141.5,247.5 142.0,247.5 142.5,247.5 143.0,247.5 143.5,247.5 144.0,247.5 144.5,247.5 145.0,247.5 145.5,247.5 146.0,247.5 146.5,247.5 147.0,247.5 147.5,247.5 148.0,247.5 148.5,247.5 149.0,247.5 149.5,247.5 150.0,247.5 150.5,247.5 151.0,247.5 151.5,247.5 152.0,247.5 152.5,247.5 153.0,247.5 153.5,247.5 154.0,247.5 154.5,247.5 155.0,247.5 155.5,247.5 156.0,247.5 156.5,247.5 157.0,247.5 157.5,247.5 158.0,247.5 158.5,247.5 159.0,247.6 159.5,247.6 160.0,247.6 160.5,247.6 161.0,247.7 161.5,247.7 162.0,247.7 162.5,247.8 163.0,247.8 163.5,247.8 164.0,247.9 164.5,247.9 165.0,248.0 165.5,248.0 166.0,248.1 166.5,248.1 167.0,248.2 167.5,248.2 168.0,248.3 168.5,248.4 169.0,248.4 169.5,248.5 170.0,248.5 170.5,248.6 171.0,248.7 171.5,248.7 172.0,248.8 172.5,248.9 173.0,248.9 173.5,249.0 174.0,249.1 174.5,249.1 175.0,249.2 175.5,249.2 176.0,249.3 176.5,249.4 177.0,249.4 177.5,249.5 178.0,249.6 178.5,249.6 179.0,249.7 179.5,249.7 180.0,249.8 180.5,249.9 181.0,249.9 181.5,250.0 182.0,250.0 182.5,250.1 183.0,250.2 183.5,250.2 184.0,250.3 184.5,250.4 185.0,250.4 185.5,250.5 186.0,250.6 186.5,250.7 187.0,250.7 187.5,250.8 188.0,250.9 188.5,251.0 189.0,251.0 189.5,251.1 190.0,251.2 190.5,251.3 191.0,251.3 191.5,251.4 192.0,251.5 192.5,251.6 193.0,251.7 193.5,251.7 194.0,251.8 194.5,251.9 195.0,252.0 195.5,252.1 196.0,252.1 196.5,252.2 197.0,252.3 197.5,252.4 198.0,252.5 198.5,252.6 199.0,252.6 199.5,252.7 200.0,252.8 200.5,252.9 201.0,253.0 201.5,253.0 202.0,253.1 202.5,253.2 203.0,253.3 203.5,253.4 204.0,253.4 204.5,253.5 205.0,253.6 205.5,253.7 206.0,253.8 206.5,253.8 207.0,253.9 207.5,254.0 208.0,254.0 208.5,254.1 209.0,254.2 209.5,254.3 210.0,254.3 210.5,254.4 211.0,254.5 211.5,254.5 212.0,254.6 212.5,254.7 213.0,254.7 213.5,254.8 214.0,254.9 214.5,254.9 215.0,255.0 215.5,255.0 216.0,255.1 216.5,255.2 217.0,255.2 217.5,255.3 218.0,255.3 218.5,255.4 219.0,255.5 219.5,255.5 220.0,255.6 220.5,255.6 221.0,255.7 221.5,255.7 222.0,255.8 222.5,255.9 223.0,255.9 223.5,256.0 224.0,256.0 224.5,256.1 225.0,256.1 225.5,256.2 226.0,256.2 226.5,256.3 227.0,256.4 227.5,256.4 228.0,256.5 228.5,256.5 229.0,256.6 229.5,256.6 230.0,256.7 230.5,256.7 231.0,256.8 231.5,256.9 232.0,256.9 232.5,257.0 233.0,257.0 233.5,257.1 234.0,257.1 234.5,257.2 235.0,257.3 235.5,257.3 236.0,257.4 236.5,257.4 237.0,257.5 237.5,257.5 238.0,257.6 238.5,257.7 239.0,257.7 239.5,257.8 240.0,257.8 240.5,257.9 241.0,257.9 241.5,258.0 242.0,258.0 242.5,258.1 243.0,258.2 243.5,258.2 244.0,258.3 244.5,258.3 245.0,258.4 245.5,258.4 246.0,258.5 246.5,258.5 247.0,258.6 247.5,258.7 248.0,258.7 248.5,258.7 249.0,258.8 249.5,258.8 250.0,258.9 250.5,258.9 251.0,259.0 251.5,259.0 252.0,259.0 252.5,259.1 253.0,259.1 253.5,259.2 254.0,259.2 254.5,259.3 255.0,259.3 255.5,259.4 256.0,259.4 256.5,259.5 257.0,259.6 257.5,259.6 258.0,259.7 258.5,259.8 259.0,259.9 259.5,260.1 260.0,260.3 260.5,260.5 261.0,260.7 261.5,261.0 262.0,261.3 262.5,261.6 263.0,261.9 263.5,262.2 264.0,262.6 264.5,262.9 265.0,263.3 265.5,263.6 266.0,264.0" fill="none" stroke="#f01010" stroke-width="2.1" stroke-dasharray="2 1.7"/>
<polyline points="46.0,277.2 46.5,276.9 47.0,276.5 47.5,276.2 48.0,275.8 48.5,275.5 49.0,275.2 49.5,274.8 50.0,274.5 50.5,274.2 51.0,273.8 51.5,273.5 52.0,273.2 52.5,272.8 53.0,272.5 53.5,272.2 54.0,271.9 54.5,271.6 55.0,271.2 55.5,270.9 56.0,270.6 56.5,270.3 57.0,270.0 57.5,269.7 58.0,269.4 58.5,269.1 59.0,268.8 59.5,268.4 60.0,268.1 60.5,267.9 61.0,267.6 61.5,267.3 62.0,267.0 62.5,266.7 63.0,266.4 63.5,266.1 64.0,265.8 64.5,265.5 65.0,265.3 65.5,265.0 66.0,264.7 66.5,264.4 67.0,264.2 67.5,263.9 68.0,263.6 68.5,263.4 69.0,263.1 69.5,262.8 70.0,262.6 70.5,262.3 71.0,262.1 71.5,261.8 72.0,261.6 72.5,261.3 73.0,261.1 73.5,260.9 74.0,260.6 74.5,260.4 75.0,260.2 75.5,259.9 76.0,259.7 76.5,259.5 77.0,259.2 77.5,259.0 78.0,258.8 78.5,258.6 79.0,258.4 79.5,258.2 80.0,258.0 80.5,257.8 81.0,257.6 81.5,257.4 82.0,257.2 82.5,257.0 83.0,256.8 83.5,256.6 84.0,256.4 84.5,256.3 85.0,256.1 85.5,255.9 86.0,255.8 86.5,255.6 87.0,255.4 87.5,255.3 88.0,255.1 88.5,255.0 89.0,254.8 89.5,254.7 90.0,254.5 90.5,254.4 91.0,254.2 91.5,254.1 92.0,254.0 92.5,253.9 93.0,253.7 93.5,253.6 94.0,253.5 94.5,253.4 95.0,253.3 95.5,253.2 96.0,253.0 96.5,252.9 97.0,252.8 97.5,252.7 98.0,252.6 98.5,252.5 99.0,252.4 99.5,252.3 100.0,252.1 100.5,252.0 101.0,251.9 101.5,251.8 102.0,251.7 102.5,251.6 103.0,251.5 103.5,251.4 104.0,251.3 104.5,251.2 105.0,251.1 105.5,251.0 106.0,250.9 106.5,250.8 107.0,250.7 107.5,250.6 108.0,250.5 108.5,250.4 109.0,250.3 109.5,250.2 110.0,250.1 110.5,250.0 111.0,249.9 111.5,249.8 112.0,249.7 112.5,249.6 113.0,249.6 113.5,249.5 114.0,249.4 114.5,249.3 115.0,249.2 115.5,249.2 116.0,249.1 116.5,249.0 117.0,249.0 117.5,248.9 118.0,248.8 118.5,248.8 119.0,248.7 119.5,248.6 120.0,248.6 120.5,248.5 121.0,248.5 121.5,248.4 122.0,248.4 122.5,248.3 123.0,248.3 123.5,248.3 124.0,248.2 124.5,248.2 125.0,248.2 125.5,248.1 126.0,248.1 126.5,248.1 127.0,248.1 127.5,248.0 128.0,248.0 128.5,248.0 129.0,248.0 129.5,248.0 130.0,248.0 130.5,248.0 131.0,248.0 131.5,248.0 132.0,248.0 132.5,248.0 133.0,248.0 133.5,248.0 134.0,248.0 134.5,248.0 135.0,248.0 135.5,248.0 136.0,248.0 136.5,248.0 137.0,248.0 137.5,248.0 138.0,248.0 138.5,248.0 139.0,248.0 139.5,248.0 140.0,248.0 140.5,248.0 141.0,248.0 141.5,248.0 142.0,248.0 142.5,248.0 143.0,248.0 143.5,248.0 144.0,248.0 144.5,248.0 145.0,248.0 145.5,248.0 146.0,248.0 146.5,248.0 147.0,248.0 147.5,248.0 148.0,248.0 148.5,248.0 149.0,248.0 149.5,248.0 150.0,248.0 150.5,248.0 151.0,248.0 151.5,248.0 152.0,248.0 152.5,248.0 153.0,248.0 153.5,248.0 154.0,248.0 154.5,248.0 155.0,248.0 155.5,248.0 156.0,248.0 156.5,248.0 157.0,248.0 157.5,248.0 158.0,248.0 158.5,248.0 159.0,248.1 159.5,248.1 160.0,248.1 160.5,248.1 161.0,248.2 161.5,248.2 162.0,248.2 162.5,248.3 163.0,248.3 163.5,248.3 164.0,248.4 164.5,248.4 165.0,248.5 165.5,248.5 166.0,248.6 166.5,248.6 167.0,248.7 167.5,248.7 168.0,248.8 168.5,248.9 169.0,248.9 169.5,249.0 170.0,249.0 170.5,249.1 171.0,249.2 171.5,249.2 172.0,249.3 172.5,249.4 173.0,249.4 173.5,249.5 174.0,249.6 174.5,249.6 175.0,249.7 175.5,249.7 176.0,249.8 176.5,249.9 177.0,249.9 177.5,250.0 178.0,250.1 178.5,250.1 179.0,250.2 179.5,250.2 180.0,250.3 180.5,250.4 181.0,250.4 181.5,250.5 182.0,250.5 182.5,250.6 183.0,250.7 183.5,250.7 184.0,250.8 184.5,250.9 185.0,250.9 185.5,251.0 186.0,251.1 186.5,251.2 187.0,251.2 187.5,251.3 188.0,251.4 188.5,251.5 189.0,251.5 189.5,251.6 190.0,251.7 190.5,251.8 191.0,251.8 191.5,251.9 192.0,252.0 192.5,252.1 193.0,252.2 193.5,252.2 194.0,252.3 194.5,252.4 195.0,252.5 195.5,252.6 196.0,252.6 196.5,252.7 197.0,252.8 197.5,252.9 198.0,253.0 198.5,253.1 199.0,253.1 199.5,253.2 200.0,253.3 200.5,253.4 201.0,253.5 201.5,253.5 202.0,253.6 202.5,253.7 203.0,253.8 203.5,253.9 204.0,253.9 204.5,254.0 205.0,254.1 205.5,254.2 206.0,254.3 206.5,254.3 207.0,254.4 207.5,254.5 208.0,254.5 208.5,254.6 209.0,254.7 209.5,254.8 210.0,254.8 210.5,254.9 211.0,255.0 211.5,255.0 212.0,255.1 212.5,255.2 213.0,255.2 213.5,255.3 214.0,255.4 214.5,255.4 215.0,255.5 215.5,255.5 216.0,255.6 216.5,255.7 217.0,255.7 217.5,255.8 218.0,255.8 218.5,255.9 219.0,256.0 219.5,256.0 220.0,256.1 220.5,256.1 221.0,256.2 221.5,256.2 222.0,256.3 222.5,256.4 223.0,256.4 223.5,256.5 224.0,256.5 224.5,256.6 225.0,256.6 225.5,256.7 226.0,256.7 226.5,256.8 227.0,256.9 227.5,256.9 228.0,257.0 228.5,257.0 229.0,257.1 229.5,257.1 230.0,257.2 230.5,257.2 231.0,257.3 231.5,257.4 232.0,257.4 232.5,257.5 233.0,257.5 233.5,257.6 234.0,257.6 234.5,257.7 235.0,257.8 235.5,257.8 236.0,257.9 236.5,257.9 237.0,258.0 237.5,258.0 238.0,258.1 238.5,258.2 239.0,258.2 239.5,258.3 240.0,258.3 240.5,258.4 241.0,258.4 241.5,258.5 242.0,258.5 242.5,258.6 243.0,258.7 243.5,258.7 244.0,258.8 244.5,258.8 245.0,258.9 245.5,258.9 246.0,259.0 246.5,259.0 247.0,259.1 247.5,259.2 248.0,259.2 248.5,259.2 249.0,259.3 249.5,259.3 250.0,259.4 250.5,259.4 251.0,259.5 251.5,259.5 252.0,259.5 252.5,259.6 253.0,259.6 253.5,259.7 254.0,259.7 254.5,259.8 255.0,259.8 255.5,259.9 256.0,259.9 256.5,260.0 257.0,260.1 257.5,260.1 258.0,260.2 258.5,260.3 259.0,260.4 259.5,260.6 260.0,260.8 260.5,261.0 261.0,261.2 261.5,261.5 262.0,261.8 262.5,262.1 263.0,262.4 263.5,262.7 264.0,263.1 264.5,263.4 265.0,263.8 265.5,264.1 266.0,264.5" fill="none" stroke="#111111" stroke-width="2.0" stroke-dasharray="1.7 5.7"/>
<polyline points="46.0,279.0 46.5,278.7 47.0,278.3 47.5,278.0 48.0,277.6 48.5,277.3 49.0,277.0 49.5,276.6 50.0,276.3 50.5,275.9 51.0,275.6 51.5,275.3 52.0,274.9 52.5,274.6 53.0,274.3 53.5,273.9 54.0,273.6 54.5,273.3 55.0,273.0 55.5,272.6 56.0,272.3 56.5,272.0 57.0,271.7 57.5,271.3 58.0,271.0 58.5,270.7 59.0,270.4 59.5,270.1 60.0,269.8 60.5,269.4 61.0,269.1 61.5,268.8 62.0,268.5 62.5,268.2 63.0,267.9 63.5,267.6 64.0,267.3 64.5,267.0 65.0,266.7 65.5,266.4 66.0,266.1 66.5,265.8 67.0,265.6 67.5,265.3 68.0,265.0 68.5,264.7 69.0,264.4 69.5,264.1 70.0,263.9 70.5,263.6 71.0,263.3 71.5,263.1 72.0,262.8 72.5,262.5 73.0,262.3 73.5,262.0 74.0,261.8 74.5,261.5 75.0,261.3 75.5,261.0 76.0,260.8 76.5,260.5 77.0,260.3 77.5,260.0 78.0,259.8 78.5,259.6 79.0,259.3 79.5,259.1 80.0,258.9 80.5,258.7 81.0,258.5 81.5,258.3 82.0,258.0 82.5,257.8 83.0,257.6 83.5,257.4 84.0,257.2 84.5,257.0 85.0,256.8 85.5,256.7 86.0,256.5 86.5,256.3 87.0,256.1 87.5,255.9 88.0,255.8 88.5,255.6 89.0,255.4 89.5,255.3 90.0,255.1 90.5,255.0 91.0,254.8 91.5,254.7 92.0,254.5 92.5,254.4 93.0,254.3 93.5,254.1 94.0,254.0 94.5,253.9 95.0,253.8 95.5,253.6 96.0,253.5 96.5,253.4 97.0,253.3 97.5,253.1 98.0,253.0 98.5,252.9 99.0,252.8 99.5,252.7 100.0,252.5 100.5,252.4 101.0,252.3 101.5,252.2 102.0,252.1 102.5,252.0 103.0,251.9 103.5,251.7 104.0,251.6 104.5,251.5 105.0,251.4 105.5,251.3 106.0,251.2 106.5,251.1 107.0,251.0 107.5,250.9 108.0,250.7 108.5,250.6 109.0,250.5 109.5,250.4 110.0,250.3 110.5,250.2 111.0,250.1 111.5,250.0 112.0,249.9 112.5,249.8 113.0,249.7 113.5,249.6 114.0,249.5 114.5,249.4 115.0,249.3 115.5,249.2 116.0,249.1 116.5,249.0 117.0,248.9 117.5,248.8 118.0,248.8 118.5,248.7 119.0,248.6 119.5,248.5 120.0,248.4 120.5,248.3 121.0,248.2 121.5,248.1 122.0,248.1 122.5,248.0 123.0,247.9 123.5,247.8 124.0,247.7 124.5,247.6 125.0,247.6 125.5,247.5 126.0,247.4 126.5,247.3 127.0,247.3 127.5,247.2 128.0,247.1 128.5,247.0 129.0,247.0 129.5,246.9 130.0,246.8 130.5,246.8 131.0,246.7 131.5,246.6 132.0,246.6 132.5,246.5 133.0,246.4 133.5,246.4 134.0,246.3 134.5,246.3 135.0,246.2 135.5,246.1 136.0,246.1 136.5,246.0 137.0,246.0 137.5,245.9 138.0,245.9 138.5,245.8 139.0,245.8 139.5,245.7 140.0,245.7 140.5,245.6 141.0,245.6 141.5,245.5 142.0,245.5 142.5,245.5 143.0,245.4 143.5,245.4 144.0,245.3 144.5,245.3 145.0,245.3 145.5,245.2 146.0,245.2 146.5,245.2 147.0,245.2 147.5,245.1 148.0,245.1 148.5,245.1 149.0,245.0 149.5,245.0 150.0,245.0 150.5,245.0 151.0,245.0 151.5,244.9 152.0,244.9 152.5,244.9 153.0,244.9 153.5,244.9 154.0,244.8 154.5,244.8 155.0,244.8 155.5,244.8 156.0,244.8 156.5,244.7 157.0,244.7 157.5,244.7 158.0,244.7 158.5,244.7 159.0,244.6 159.5,244.6 160.0,244.6 160.5,244.6 161.0,244.6 161.5,244.6 162.0,244.5 162.5,244.5 163.0,244.5 163.5,244.5 164.0,244.5 164.5,244.5 165.0,244.4 165.5,244.4 166.0,244.4 166.5,244.4 167.0,244.4 167.5,244.4 168.0,244.4 168.5,244.3 169.0,244.3 169.5,244.3 170.0,244.3 170.5,244.3 171.0,244.3 171.5,244.3 172.0,244.3 172.5,244.3 173.0,244.3 173.5,244.2 174.0,244.2 174.5,244.2 175.0,244.2 175.5,244.2 176.0,244.2 176.5,244.2 177.0,244.2 177.5,244.2 178.0,244.2 178.5,244.2 179.0,244.2 179.5,244.2 180.0,244.2 180.5,244.2 181.0,244.2 181.5,244.2 182.0,244.2 182.5,244.2 183.0,244.3 183.5,244.3 184.0,244.3 184.5,244.3 185.0,244.4 185.5,244.4 186.0,244.4 186.5,244.4 187.0,244.5 187.5,244.5 188.0,244.6 188.5,244.6 189.0,244.7 189.5,244.7 190.0,244.8 190.5,244.8 191.0,244.9 191.5,244.9 192.0,245.0 192.5,245.0 193.0,245.1 193.5,245.1 194.0,245.2 194.5,245.3 195.0,245.3 195.5,245.4 196.0,245.4 196.5,245.5 197.0,245.6 197.5,245.6 198.0,245.7 198.5,245.8 199.0,245.8 199.5,245.9 200.0,246.0 200.5,246.0 201.0,246.1 201.5,246.2 202.0,246.2 202.5,246.3 203.0,246.4 203.5,246.4 204.0,246.5 204.5,246.6 205.0,246.6 205.5,246.7 206.0,246.8 206.5,246.8 207.0,246.9 207.5,246.9 208.0,247.0 208.5,247.0 209.0,247.1 209.5,247.2 210.0,247.2 210.5,247.3 211.0,247.3 211.5,247.4 212.0,247.4 212.5,247.4 213.0,247.5 213.5,247.5 214.0,247.6 214.5,247.6 215.0,247.6 215.5,247.7 216.0,247.7 216.5,247.8 217.0,247.8 217.5,247.8 218.0,247.9 218.5,247.9 219.0,247.9 219.5,248.0 220.0,248.0 220.5,248.0 221.0,248.1 221.5,248.1 222.0,248.2 222.5,248.2 223.0,248.2 223.5,248.3 224.0,248.3 224.5,248.3 225.0,248.4 225.5,248.4 226.0,248.5 226.5,248.5 227.0,248.5 227.5,248.6 228.0,248.6 228.5,248.7 229.0,248.7 229.5,248.8 230.0,248.8 230.5,248.8 231.0,248.9 231.5,248.9 232.0,249.0 232.5,249.1 233.0,249.1 233.5,249.2 234.0,249.2 234.5,249.3 235.0,249.4 235.5,249.4 236.0,249.5 236.5,249.6 237.0,249.7 237.5,249.7 238.0,249.8 238.5,249.9 239.0,250.0 239.5,250.1 240.0,250.1 240.5,250.2 241.0,250.3 241.5,250.4 242.0,250.5 242.5,250.6 243.0,250.7 243.5,250.8 244.0,250.9 244.5,251.0 245.0,251.1 245.5,251.2 246.0,251.3 246.5,251.4 247.0,251.5 247.5,251.6 248.0,251.7 248.5,251.8 249.0,251.8 249.5,251.9 250.0,252.0 250.5,252.1 251.0,252.2 251.5,252.3 252.0,252.4 252.5,252.5 253.0,252.6 253.5,252.7 254.0,252.8 254.5,252.9 255.0,253.0 255.5,253.1 256.0,253.2 256.5,253.2 257.0,253.3 257.5,253.4 258.0,253.5 258.5,253.6 259.0,253.6 259.5,253.7 260.0,253.8 260.5,253.9 261.0,253.9 261.5,254.0 262.0,254.1 262.5,254.1 263.0,254.2 263.5,254.3 264.0,254.3 264.5,254.4 265.0,254.5 265.5,254.5 266.0,254.6" fill="none" stroke="#0a7a0a" stroke-width="2.0" stroke-dasharray="2 1.8"/>
<polyline points="46.0,284.3 47.0,283.4 48.0,282.6 49.0,281.7 50.0,280.9 51.0,280.1 52.0,279.2 53.0,278.4 54.0,277.6 55.0,276.9 56.0,276.1 57.0,275.3 58.0,274.6 59.0,273.8 60.0,273.1 61.0,272.4 62.0,271.7 63.0,271.0 64.0,270.3 65.0,269.6 66.0,268.9 67.0,268.3 68.0,267.6 69.0,267.0 70.0,266.3 71.0,265.7 72.0,265.1 73.0,264.5 74.0,263.9 75.0,263.3 76.0,262.7 77.0,262.2 78.0,261.6 79.0,261.1 80.0,260.5 81.0,260.0 82.0,259.5 83.0,259.0 84.0,258.5 85.0,258.0 86.0,257.5 87.0,257.0 88.0,256.5 89.0,256.1 90.0,255.6 91.0,255.2 92.0,254.7 93.0,254.3 94.0,253.9 95.0,253.5 96.0,253.1 97.0,252.7 98.0,252.3 99.0,251.9 100.0,251.5 101.0,251.1 102.0,250.8 103.0,250.4 104.0,250.1 105.0,249.7 106.0,249.4 107.0,249.1 108.0,248.7 109.0,248.4 110.0,248.1 111.0,247.8 112.0,247.5 113.0,247.3 114.0,247.0 115.0,246.7 116.0,246.4 117.0,246.2 118.0,245.9 119.0,245.7 120.0,245.4 121.0,245.2 122.0,245.0 123.0,244.7 124.0,244.5 125.0,244.3 126.0,244.1 127.0,243.9 128.0,243.7 129.0,243.5 130.0,243.3 131.0,243.2 132.0,243.0 133.0,242.8 134.0,242.7 135.0,242.5 136.0,242.4 137.0,242.2 138.0,242.1 139.0,241.9 140.0,241.8 141.0,241.7 142.0,241.5 143.0,241.4 144.0,241.3 145.0,241.2 146.0,241.1 147.0,241.0 148.0,240.9 149.0,240.8 150.0,240.7 151.0,240.6 152.0,240.5 153.0,240.4 154.0,240.4 155.0,240.3 156.0,240.2 157.0,240.2 158.0,240.1 159.0,240.0 160.0,240.0 161.0,239.9 162.0,239.9 163.0,239.9 164.0,239.8 165.0,239.8 166.0,239.7 167.0,239.7 168.0,239.7 169.0,239.6 170.0,239.6 171.0,239.6 172.0,239.6 173.0,239.6 174.0,239.5 175.0,239.5 176.0,239.5 177.0,239.5 178.0,239.5 179.0,239.5 180.0,239.5 181.0,239.5 182.0,239.5 183.0,239.5 184.0,239.5 185.0,239.5 186.0,239.5 187.0,239.5 188.0,239.5 189.0,239.6 190.0,239.6 191.0,239.6 192.0,239.6 193.0,239.6 194.0,239.6 195.0,239.6 196.0,239.7 197.0,239.7 198.0,239.7 199.0,239.7 200.0,239.7 201.0,239.8 202.0,239.8 203.0,239.8 204.0,239.8 205.0,239.9 206.0,239.9 207.0,239.9 208.0,239.9 209.0,239.9 210.0,240.0 211.0,240.0 212.0,240.0 213.0,240.0 214.0,240.1 215.0,240.1 216.0,240.1 217.0,240.1 218.0,240.1 219.0,240.2 220.0,240.2 221.0,240.2 222.0,240.2 223.0,240.2 224.0,240.2 225.0,240.2 226.0,240.2 227.0,240.3 228.0,240.3 229.0,240.3 230.0,240.3 231.0,240.3 232.0,240.3 233.0,240.3 234.0,240.3 235.0,240.3 236.0,240.3 237.0,240.3 238.0,240.2 239.0,240.2 240.0,240.2 241.0,240.2 242.0,240.2 243.0,240.2 244.0,240.1 245.0,240.1 246.0,240.1 247.0,240.0 248.0,240.0 249.0,240.0 250.0,239.9 251.0,239.9 252.0,239.8 253.0,239.8 254.0,239.7 255.0,239.7 256.0,239.6 257.0,239.5 258.0,239.5 259.0,239.4 260.0,239.3 261.0,239.3 262.0,239.2 263.0,239.1 264.0,239.0 265.0,238.9 266.0,238.8" fill="none" stroke="#ff0000" stroke-width="2.4" stroke-linejoin="round"/>
<polyline points="46.0,281.3 47.0,280.6 48.0,279.8 49.0,279.1 50.0,278.4 51.0,277.7 52.0,277.0 53.0,276.3 54.0,275.7 55.0,275.0 56.0,274.4 57.0,273.7 58.0,273.1 59.0,272.4 60.0,271.8 61.0,271.2 62.0,270.6 63.0,270.0 64.0,269.4 65.0,268.8 66.0,268.3 67.0,267.7 68.0,267.2 69.0,266.6 70.0,266.1 71.0,265.5 72.0,265.0 73.0,264.5 74.0,264.0 75.0,263.5 76.0,263.0 77.0,262.5 78.0,262.1 79.0,261.6 80.0,261.1 81.0,260.7 82.0,260.2 83.0,259.8 84.0,259.4 85.0,258.9 86.0,258.5 87.0,258.1 88.0,257.7 89.0,257.3 90.0,256.9 91.0,256.5 92.0,256.2 93.0,255.8 94.0,255.4 95.0,255.1 96.0,254.7 97.0,254.4 98.0,254.1 99.0,253.7 100.0,253.4 101.0,253.1 102.0,252.8 103.0,252.5 104.0,252.2 105.0,251.9 106.0,251.6 107.0,251.3 108.0,251.0 109.0,250.8 110.0,250.5 111.0,250.3 112.0,250.0 113.0,249.8 114.0,249.5 115.0,249.3 116.0,249.1 117.0,248.9 118.0,248.6 119.0,248.4 120.0,248.2 121.0,248.0 122.0,247.8 123.0,247.6 124.0,247.5 125.0,247.3 126.0,247.1 127.0,246.9 128.0,246.8 129.0,246.6 130.0,246.5 131.0,246.3 132.0,246.2 133.0,246.0 134.0,245.9 135.0,245.8 136.0,245.7 137.0,245.5 138.0,245.4 139.0,245.3 140.0,245.2 141.0,245.1 142.0,245.0 143.0,244.9 144.0,244.8 145.0,244.7 146.0,244.6 147.0,244.6 148.0,244.5 149.0,244.4 150.0,244.4 151.0,244.3 152.0,244.2 153.0,244.2 154.0,244.1 155.0,244.1 156.0,244.0 157.0,244.0 158.0,244.0 159.0,243.9 160.0,243.9 161.0,243.9 162.0,243.8 163.0,243.8 164.0,243.8 165.0,243.8 166.0,243.8 167.0,243.8 168.0,243.8 169.0,243.8 170.0,243.8 171.0,243.8 172.0,243.8 173.0,243.8 174.0,243.8 175.0,243.8 176.0,243.8 177.0,243.8 178.0,243.9 179.0,243.9 180.0,243.9 181.0,243.9 182.0,244.0 183.0,244.0 184.0,244.0 185.0,244.1 186.0,244.1 187.0,244.1 188.0,244.2 189.0,244.2 190.0,244.3 191.0,244.3 192.0,244.4 193.0,244.4 194.0,244.5 195.0,244.5 196.0,244.6 197.0,244.6 198.0,244.7 199.0,244.7 200.0,244.8 201.0,244.9 202.0,244.9 203.0,245.0 204.0,245.1 205.0,245.1 206.0,245.2 207.0,245.3 208.0,245.3 209.0,245.4 210.0,245.5 211.0,245.5 212.0,245.6 213.0,245.7 214.0,245.8 215.0,245.8 216.0,245.9 217.0,246.0 218.0,246.1 219.0,246.1 220.0,246.2 221.0,246.3 222.0,246.4 223.0,246.4 224.0,246.5 225.0,246.6 226.0,246.7 227.0,246.7 228.0,246.8 229.0,246.9 230.0,247.0 231.0,247.0 232.0,247.1 233.0,247.2 234.0,247.2 235.0,247.3 236.0,247.4 237.0,247.5 238.0,247.5 239.0,247.6 240.0,247.7 241.0,247.7 242.0,247.8 243.0,247.9 244.0,247.9 245.0,248.0 246.0,248.1 247.0,248.1 248.0,248.2 249.0,248.2 250.0,248.3 251.0,248.4 252.0,248.4 253.0,248.5 254.0,248.5 255.0,248.6 256.0,248.6 257.0,248.7 258.0,248.7 259.0,248.7 260.0,248.8 261.0,248.8 262.0,248.9 263.0,248.9 264.0,248.9 265.0,249.0 266.0,249.0" fill="none" stroke="#0000ff" stroke-width="2.4" stroke-linejoin="round"/>
<polyline points="46.0,278.3 47.0,277.5 48.0,276.6 49.0,275.8 50.0,275.0 51.0,274.2 52.0,273.4 53.0,272.6 54.0,271.9 55.0,271.1 56.0,270.4 57.0,269.6 58.0,268.9 59.0,268.2 60.0,267.5 61.0,266.8 62.0,266.1 63.0,265.4 64.0,264.8 65.0,264.1 66.0,263.5 67.0,262.8 68.0,262.2 69.0,261.6 70.0,261.0 71.0,260.4 72.0,259.8 73.0,259.2 74.0,258.7 75.0,258.1 76.0,257.5 77.0,257.0 78.0,256.5 79.0,255.9 80.0,255.4 81.0,254.9 82.0,254.4 83.0,253.9 84.0,253.4 85.0,253.0 86.0,252.5 87.0,252.0 88.0,251.6 89.0,251.1 90.0,250.7 91.0,250.3 92.0,249.9 93.0,249.4 94.0,249.0 95.0,248.7 96.0,248.3 97.0,247.9 98.0,247.5 99.0,247.2 100.0,246.8 101.0,246.5 102.0,246.1 103.0,245.8 104.0,245.5 105.0,245.1 106.0,244.8 107.0,244.5 108.0,244.2 109.0,243.9 110.0,243.6 111.0,243.4 112.0,243.1 113.0,242.8 114.0,242.6 115.0,242.3 116.0,242.1 117.0,241.9 118.0,241.6 119.0,241.4 120.0,241.2 121.0,241.0 122.0,240.8 123.0,240.6 124.0,240.4 125.0,240.2 126.0,240.0 127.0,239.8 128.0,239.7 129.0,239.5 130.0,239.3 131.0,239.2 132.0,239.0 133.0,238.9 134.0,238.8 135.0,238.6 136.0,238.5 137.0,238.4 138.0,238.3 139.0,238.2 140.0,238.1 141.0,238.0 142.0,237.9 143.0,237.8 144.0,237.7 145.0,237.6 146.0,237.5 147.0,237.5 148.0,237.4 149.0,237.4 150.0,237.3 151.0,237.2 152.0,237.2 153.0,237.2 154.0,237.1 155.0,237.1 156.0,237.1 157.0,237.0 158.0,237.0 159.0,237.0 160.0,237.0 161.0,237.0 162.0,237.0 163.0,236.9 164.0,236.9 165.0,237.0 166.0,237.0 167.0,237.0 168.0,237.0 169.0,237.0 170.0,237.0 171.0,237.0 172.0,237.1 173.0,237.1 174.0,237.1 175.0,237.2 176.0,237.2 177.0,237.3 178.0,237.3 179.0,237.3 180.0,237.4 181.0,237.5 182.0,237.5 183.0,237.6 184.0,237.6 185.0,237.7 186.0,237.8 187.0,237.8 188.0,237.9 189.0,238.0 190.0,238.0 191.0,238.1 192.0,238.2 193.0,238.3 194.0,238.4 195.0,238.4 196.0,238.5 197.0,238.6 198.0,238.7 199.0,238.8 200.0,238.9 201.0,239.0 202.0,239.1 203.0,239.2 204.0,239.2 205.0,239.3 206.0,239.4 207.0,239.5 208.0,239.6 209.0,239.7 210.0,239.8 211.0,239.9 212.0,240.1 213.0,240.2 214.0,240.3 215.0,240.4 216.0,240.5 217.0,240.6 218.0,240.7 219.0,240.8 220.0,240.9 221.0,241.0 222.0,241.1 223.0,241.2 224.0,241.3 225.0,241.4 226.0,241.5 227.0,241.6 228.0,241.8 229.0,241.9 230.0,242.0 231.0,242.1 232.0,242.2 233.0,242.3 234.0,242.4 235.0,242.5 236.0,242.6 237.0,242.7 238.0,242.8 239.0,242.9 240.0,243.0 241.0,243.1 242.0,243.2 243.0,243.3 244.0,243.4 245.0,243.5 246.0,243.6 247.0,243.6 248.0,243.7 249.0,243.8 250.0,243.9 251.0,244.0 252.0,244.1 253.0,244.2 254.0,244.2 255.0,244.3 256.0,244.4 257.0,244.5 258.0,244.5 259.0,244.6 260.0,244.7 261.0,244.7 262.0,244.8 263.0,244.8 264.0,244.9 265.0,244.9 266.0,245.0" fill="none" stroke="#007f00" stroke-width="2.4" stroke-linejoin="round"/>
<polyline points="46.0,292.4 47.0,291.6 48.0,290.9 49.0,290.2 50.0,289.4 51.0,288.7 52.0,288.0 53.0,287.3 54.0,286.7 55.0,286.0 56.0,285.3 57.0,284.7 58.0,284.0 59.0,283.4 60.0,282.7 61.0,282.1 62.0,281.5 63.0,280.9 64.0,280.3 65.0,279.7 66.0,279.1 67.0,278.6 68.0,278.0 69.0,277.4 70.0,276.9 71.0,276.4 72.0,275.8 73.0,275.3 74.0,274.8 75.0,274.3 76.0,273.8 77.0,273.3 78.0,272.8 79.0,272.3 80.0,271.8 81.0,271.3 82.0,270.9 83.0,270.4 84.0,270.0 85.0,269.5 86.0,269.1 87.0,268.6 88.0,268.2 89.0,267.8 90.0,267.4 91.0,266.9 92.0,266.5 93.0,266.1 94.0,265.7 95.0,265.4 96.0,265.0 97.0,264.6 98.0,264.2 99.0,263.8 100.0,263.5 101.0,263.1 102.0,262.8 103.0,262.4 104.0,262.1 105.0,261.7 106.0,261.4 107.0,261.1 108.0,260.7 109.0,260.4 110.0,260.1 111.0,259.8 112.0,259.5 113.0,259.1 114.0,258.8 115.0,258.5 116.0,258.2 117.0,257.9 118.0,257.7 119.0,257.4 120.0,257.1 121.0,256.8 122.0,256.5 123.0,256.3 124.0,256.0 125.0,255.7 126.0,255.5 127.0,255.2 128.0,254.9 129.0,254.7 130.0,254.4 131.0,254.2 132.0,253.9 133.0,253.7 134.0,253.4 135.0,253.2 136.0,253.0 137.0,252.7 138.0,252.5 139.0,252.3 140.0,252.0 141.0,251.8 142.0,251.6 143.0,251.4 144.0,251.2 145.0,250.9 146.0,250.7 147.0,250.5 148.0,250.3 149.0,250.1 150.0,249.9 151.0,249.7 152.0,249.5 153.0,249.3 154.0,249.1 155.0,248.9 156.0,248.7 157.0,248.5 158.0,248.3 159.0,248.1 160.0,247.9 161.0,247.7 162.0,247.6 163.0,247.4 164.0,247.2 165.0,247.0 166.0,246.8 167.0,246.6 168.0,246.5 169.0,246.3 170.0,246.1 171.0,246.0 172.0,245.8 173.0,245.6 174.0,245.4 175.0,245.3 176.0,245.1 177.0,244.9 178.0,244.8 179.0,244.6 180.0,244.5 181.0,244.3 182.0,244.1 183.0,244.0 184.0,243.8 185.0,243.7 186.0,243.5 187.0,243.4 188.0,243.2 189.0,243.1 190.0,242.9 191.0,242.8 192.0,242.6 193.0,242.5 194.0,242.3 195.0,242.2 196.0,242.0 197.0,241.9 198.0,241.8 199.0,241.6 200.0,241.5 201.0,241.4 202.0,241.2 203.0,241.1 204.0,241.0 205.0,240.8 206.0,240.7 207.0,240.6 208.0,240.4 209.0,240.3 210.0,240.2 211.0,240.1 212.0,239.9 213.0,239.8 214.0,239.7 215.0,239.6 216.0,239.5 217.0,239.4 218.0,239.2 219.0,239.1 220.0,239.0 221.0,238.9 222.0,238.8 223.0,238.7 224.0,238.6 225.0,238.5 226.0,238.4 227.0,238.3 228.0,238.2 229.0,238.1 230.0,238.0 231.0,237.9 232.0,237.8 233.0,237.7 234.0,237.7 235.0,237.6 236.0,237.5 237.0,237.4 238.0,237.3 239.0,237.3 240.0,237.2 241.0,237.1 242.0,237.0 243.0,237.0 244.0,236.9 245.0,236.8 246.0,236.8 247.0,236.7 248.0,236.7 249.0,236.6 250.0,236.6 251.0,236.5 252.0,236.5 253.0,236.4 254.0,236.4 255.0,236.4 256.0,236.3 257.0,236.3 258.0,236.3 259.0,236.3 260.0,236.2 261.0,236.2 262.0,236.2 263.0,236.2 264.0,236.2 265.0,236.2 266.0,236.2" fill="none" stroke="#000000" stroke-width="2.4" stroke-linejoin="round"/>
</g>
<g clip-path="url(#cUR)">
<polyline points="325.6,160.7 326.1,161.2 326.6,161.7 327.1,162.3 327.6,162.9 328.1,163.6 328.6,164.2 329.1,164.9 329.6,165.4 330.1,165.9 330.6,166.4 331.1,166.7 331.6,166.9 332.1,166.6 332.6,166.1 333.1,165.5 333.6,164.8 334.1,164.0 334.6,163.2 335.1,162.3 335.6,161.5 336.1,160.7 336.6,159.9 337.1,159.2 337.6,158.6 338.1,158.1 338.6,157.8 339.1,158.0 339.6,158.4 340.1,158.8 340.6,159.3 341.1,159.9 341.6,160.5 342.1,161.1 342.6,161.7 343.1,162.3 343.6,162.8 344.1,163.3 344.6,163.7 345.1,164.1 345.6,164.3 346.1,163.9 346.6,163.3 347.1,162.6 347.6,161.7 348.1,160.7 348.6,159.7 349.1,158.7 349.6,157.6 350.1,156.6 350.6,155.6 351.1,154.7 351.6,154.0 352.1,153.4 352.6,153.0 353.1,153.3 353.6,153.7 354.1,154.2 354.6,154.8 355.1,155.4 355.6,156.1 356.1,156.9 356.6,157.6 357.1,158.4 357.6,159.1 358.1,159.8 358.6,160.4 359.1,160.9 359.6,161.3 360.1,161.7 360.6,161.4 361.1,161.0 361.6,160.4 362.1,159.8 362.6,159.0 363.1,158.2 363.6,157.3 364.1,156.5 364.6,155.6 365.1,154.7 365.6,153.9 366.1,153.2 366.6,152.6 367.1,152.1 367.6,151.7 368.1,151.7 368.6,152.2 369.1,152.7 369.6,153.4 370.1,154.1 370.6,154.9 371.1,155.7 371.6,156.6 372.1,157.4 372.6,158.2 373.1,158.9 373.6,159.5 374.1,160.0 374.6,160.4 375.1,160.1 375.6,159.4 376.1,158.5 376.6,157.4 377.1,156.2 377.6,154.9 378.1,153.5 378.6,152.1 379.1,150.8 379.6,149.5 380.1,148.4 380.6,147.4 381.1,146.6 381.6,146.0 382.1,146.2 382.6,146.8 383.1,147.5 383.6,148.4 384.1,149.4 384.6,150.4 385.1,151.5 385.6,152.6 386.1,153.6 386.6,154.5 387.1,155.3 387.6,156.0 388.1,156.6 388.6,156.5 389.1,155.9 389.6,155.1 390.1,154.1 390.6,152.9 391.1,151.7 391.6,150.4 392.1,149.1 392.6,147.9 393.1,146.7 393.6,145.7 394.1,144.8 394.6,144.1 395.1,143.8 395.6,144.1 396.1,144.5 396.6,145.1 397.1,145.7 397.6,146.3 398.1,147.1 398.6,147.8 399.1,148.6 399.6,149.3 400.1,150.0 400.6,150.6 401.1,151.1 401.6,151.6 402.1,151.9 402.6,151.7 403.1,151.2 403.6,150.6 404.1,149.8 404.6,148.9 405.1,148.0 405.6,147.0 406.1,146.0 406.6,145.0 407.1,144.1 407.6,143.2 408.1,142.4 408.6,141.7 409.1,141.2 409.6,141.0 410.1,141.4 410.6,142.0 411.1,142.7 411.6,143.6 412.1,144.5 412.6,145.5 413.1,146.5 413.6,147.5 414.1,148.4 414.6,149.4 415.1,150.2 415.6,150.9 416.1,151.5 416.6,151.9 417.1,151.5 417.6,150.8 418.1,149.9 418.6,148.9 419.1,147.7 419.6,146.5 420.1,145.2 420.6,143.9 421.1,142.7 421.6,141.5 422.1,140.4 422.6,139.5 423.1,138.7 423.6,138.1 424.1,138.2 424.6,138.9 425.1,139.7 425.6,140.8 426.1,141.9 426.6,143.2 427.1,144.5 427.6,145.7 428.1,147.0 428.6,148.1 429.1,149.0 429.6,149.8 430.1,150.4 430.6,149.8 431.1,149.0 431.6,148.0 432.1,146.7 432.6,145.4 433.1,143.9 433.6,142.4 434.1,141.0 434.6,139.6 435.1,138.4 435.6,137.4 436.1,136.6 436.6,136.2 437.1,136.7 437.6,137.5 438.1,138.3 438.6,139.4 439.1,140.5 439.6,141.7 440.1,143.0 440.6,144.3 441.1,145.5 441.6,146.7 442.1,147.7 442.6,148.7 443.1,149.5 443.6,150.1 444.1,150.2 444.6,149.6 445.1,148.8 445.6,147.9 446.1,146.9 446.6,145.7 447.1,144.5 447.6,143.2 448.1,141.9 448.6,140.7 449.1,139.5 449.6,138.5 450.1,137.5 450.6,136.8 451.1,136.2 451.6,136.3 452.1,137.1 452.6,138.1 453.1,139.2 453.6,140.5 454.1,141.9 454.6,143.4 455.1,144.9 455.6,146.3 456.1,147.6 456.6,148.8 457.1,149.8 457.6,150.6 458.1,150.8 458.6,150.1 459.1,149.1 459.6,147.9 460.1,146.6 460.6,145.1 461.1,143.6 461.6,142.0 462.1,140.5 462.6,139.0 463.1,137.7 463.6,136.6 464.1,135.7 464.6,135.0 465.1,135.7 465.6,136.5 466.1,137.6 466.6,138.8 467.1,140.2 467.6,141.7 468.1,143.2 468.6,144.7 469.1,146.2 469.6,147.7 470.1,149.0 470.6,150.1 471.1,151.0 471.6,151.8 472.1,151.6 472.6,150.8 473.1,149.7 473.6,148.5 474.1,147.1 474.6,145.6 475.1,144.0 475.6,142.3 476.1,140.7 476.6,139.2 477.1,137.7 477.6,136.5 478.1,135.4 478.6,134.5 479.1,134.1 479.6,135.0 480.1,136.2 480.6,137.7 481.1,139.3 481.6,141.1 482.1,143.1 482.6,145.1 483.1,147.1 483.6,148.9 484.1,150.7 484.6,152.2 485.1,153.5 485.6,154.5 486.1,154.6 486.6,153.6 487.1,152.2 487.6,150.5 488.1,148.6 488.6,146.4 489.1,144.2 489.6,142.0 490.1,139.7 490.6,137.6 491.1,135.7 491.6,134.0 492.1,132.6 492.6,131.5 493.1,131.7 493.6,132.8 494.1,134.2 494.6,135.9 495.1,137.8 495.6,139.8 496.1,142.0 496.6,144.2 497.1,146.4 497.6,148.4 498.1,150.3 498.6,152.0 499.1,153.4 499.6,154.5 500.1,154.7 500.6,153.6 501.1,152.2 501.6,150.5 502.1,148.6 502.6,146.5 503.1,144.3 503.6,142.1 504.1,139.8 504.6,137.7 505.1,135.7 505.6,133.9 506.1,132.4 506.6,131.2 507.1,130.7 507.6,131.8 508.1,133.4 508.6,135.2 509.1,137.4 509.6,139.8 510.1,142.2 510.6,144.8 511.1,147.2 511.6,149.4 512.1,151.4 512.6,153.1 513.1,154.4 513.6,154.7 514.1,153.6 514.6,152.3 515.1,150.6 515.6,148.7 516.1,146.7 516.6,144.5 517.1,142.4 517.6,140.4 518.1,138.5 518.6,136.8 519.1,135.4 519.6,134.4 520.1,134.5 520.6,135.5 521.1,136.8 521.6,138.3 522.1,140.0 522.6,141.9 523.1,143.9 523.6,145.8 524.1,147.8 524.6,149.6 525.1,151.2 525.6,152.7 526.1,153.9 526.6,154.8 527.1,154.5 527.6,153.6 528.1,152.4 528.6,151.0 529.1,149.4 529.6,147.7 530.1,145.9 530.6,144.1 531.1,142.3 531.6,140.7 532.1,139.2 532.6,137.9 533.1,136.8 533.6,136.0 534.1,136.5 534.6,137.5 535.1,138.8 535.6,140.3 536.1,142.0 536.6,143.9 537.1,145.7 537.6,147.6 538.1,149.4 538.6,151.0 539.1,152.5 539.6,153.7 540.1,154.6 540.6,154.7 541.1,154.0 541.6,153.0 542.1,151.9 542.6,150.6 543.1,149.2 543.6,147.7 544.1,146.2 544.6,144.8 545.1,143.5 545.6,142.3 546.1,141.3 546.6,140.5" fill="none" stroke="#111111" stroke-width="1.8" stroke-dasharray="3.2 2.6"/>
<polyline points="325.6,131.0 326.1,131.6 326.6,132.4 327.1,133.2 327.6,134.1 328.1,135.0 328.6,135.9 329.1,136.8 329.6,137.6 330.1,138.3 330.6,138.9 331.1,139.4 331.6,139.7 332.1,139.2 332.6,138.5 333.1,137.7 333.6,136.7 334.1,135.6 334.6,134.5 335.1,133.3 335.6,132.1 336.1,130.9 336.6,129.9 337.1,128.9 337.6,128.1 338.1,127.4 338.6,126.9 339.1,127.4 339.6,128.1 340.1,128.8 340.6,129.7 341.1,130.8 341.6,131.9 342.1,133.0 342.6,134.1 343.1,135.2 343.6,136.2 344.1,137.1 344.6,137.9 345.1,138.5 345.6,139.0 346.1,138.5 346.6,137.8 347.1,136.9 347.6,135.9 348.1,134.8 348.6,133.6 349.1,132.4 349.6,131.1 350.1,129.9 350.6,128.8 351.1,127.8 351.6,126.9 352.1,126.2 352.6,125.7 353.1,126.3 353.6,127.1 354.1,128.1 354.6,129.2 355.1,130.5 355.6,131.8 356.1,133.3 356.6,134.7 357.1,136.2 357.6,137.6 358.1,138.9 358.6,140.0 359.1,141.0 359.6,141.9 360.1,142.5 360.6,142.1 361.1,141.2 361.6,140.1 362.1,138.8 362.6,137.3 363.1,135.7 363.6,134.1 364.1,132.4 364.6,130.7 365.1,129.0 365.6,127.5 366.1,126.1 366.6,124.9 367.1,123.8 367.6,123.1 368.1,123.2 368.6,124.1 369.1,125.2 369.6,126.5 370.1,128.0 370.6,129.6 371.1,131.3 371.6,133.0 372.1,134.7 372.6,136.3 373.1,137.7 373.6,139.0 374.1,140.0 374.6,140.8 375.1,140.4 375.6,139.5 376.1,138.2 376.6,136.7 377.1,135.0 377.6,133.2 378.1,131.3 378.6,129.4 379.1,127.6 379.6,125.8 380.1,124.2 380.6,122.9 381.1,121.8 381.6,120.9 382.1,121.4 382.6,122.4 383.1,123.7 383.6,125.2 384.1,126.9 384.6,128.8 385.1,130.7 385.6,132.6 386.1,134.4 386.6,136.0 387.1,137.5 387.6,138.7 388.1,139.6 388.6,139.6 389.1,138.4 389.6,136.9 390.1,135.1 390.6,133.0 391.1,130.8 391.6,128.5 392.1,126.2 392.6,123.9 393.1,121.8 393.6,119.9 394.1,118.3 394.6,117.1 395.1,116.5 395.6,117.4 396.1,118.6 396.6,120.2 397.1,121.9 397.6,123.8 398.1,125.9 398.6,128.0 399.1,130.2 399.6,132.3 400.1,134.2 400.6,136.0 401.1,137.5 401.6,138.8 402.1,139.8 402.6,139.3 403.1,138.1 403.6,136.5 404.1,134.6 404.6,132.5 405.1,130.2 405.6,127.8 406.1,125.4 406.6,122.9 407.1,120.6 407.6,118.5 408.1,116.6 408.6,115.0 409.1,113.7 409.6,113.1 410.1,113.9 410.6,115.1 411.1,116.5 411.6,118.1 412.1,119.8 412.6,121.7 413.1,123.7 413.6,125.6 414.1,127.5 414.6,129.2 415.1,130.8 415.6,132.2 416.1,133.3 416.6,134.1 417.1,133.5 417.6,132.6 418.1,131.4 418.6,129.9 419.1,128.3 419.6,126.6 420.1,124.9 420.6,123.1 421.1,121.3 421.6,119.6 422.1,118.1 422.6,116.8 423.1,115.7 423.6,114.9 424.1,115.1 424.6,116.1 425.1,117.5 425.6,119.1 426.1,120.9 426.6,122.9 427.1,124.9 427.6,126.9 428.1,128.8 428.6,130.6 429.1,132.1 429.6,133.3 430.1,134.2 430.6,133.3 431.1,131.9 431.6,130.1 432.1,128.1 432.6,125.8 433.1,123.3 433.6,120.8 434.1,118.4 434.6,116.1 435.1,114.1 435.6,112.4 436.1,111.0 436.6,110.3 437.1,111.3 437.6,112.6 438.1,114.1 438.6,115.9 439.1,117.8 439.6,119.9 440.1,122.1 440.6,124.3 441.1,126.5 441.6,128.5 442.1,130.4 442.6,132.0 443.1,133.4 443.6,134.5 444.1,134.6 444.6,133.6 445.1,132.3 445.6,130.7 446.1,128.8 446.6,126.8 447.1,124.7 447.6,122.5 448.1,120.3 448.6,118.1 449.1,116.1 449.6,114.3 450.1,112.7 450.6,111.4 451.1,110.3 451.6,110.6 452.1,111.8 452.6,113.5 453.1,115.4 453.6,117.6 454.1,119.9 454.6,122.4 455.1,124.8 455.6,127.2 456.1,129.4 456.6,131.4 457.1,133.0 457.6,134.3 458.1,134.7 458.6,133.4 459.1,131.7 459.6,129.7 460.1,127.3 460.6,124.7 461.1,122.0 461.6,119.2 462.1,116.5 462.6,114.0 463.1,111.7 463.6,109.7 464.1,108.2 464.6,107.0 465.1,108.0 465.6,109.4 466.1,111.1 466.6,113.0 467.1,115.2 467.6,117.6 468.1,120.0 468.6,122.5 469.1,124.9 469.6,127.1 470.1,129.2 470.6,131.0 471.1,132.5 471.6,133.7 472.1,133.5 472.6,132.3 473.1,130.8 473.6,128.9 474.1,126.9 474.6,124.7 475.1,122.3 475.6,119.9 476.1,117.5 476.6,115.3 477.1,113.2 477.6,111.3 478.1,109.7 478.6,108.5 479.1,107.9 479.6,109.3 480.1,111.1 480.6,113.3 481.1,115.9 481.6,118.7 482.1,121.7 482.6,124.8 483.1,127.8 483.6,130.7 484.1,133.4 484.6,135.7 485.1,137.7 485.6,139.2 486.1,139.5 486.6,138.2 487.1,136.5 487.6,134.4 488.1,132.0 488.6,129.4 489.1,126.7 489.6,123.9 490.1,121.1 490.6,118.5 491.1,116.1 491.6,114.1 492.1,112.3 492.6,111.0 493.1,111.2 493.6,112.6 494.1,114.3 494.6,116.4 495.1,118.7 495.6,121.3 496.1,123.9 496.6,126.7 497.1,129.3 497.6,131.9 498.1,134.2 498.6,136.3 499.1,138.0 499.6,139.4 500.1,139.6 500.6,138.4 501.1,136.8 501.6,134.9 502.1,132.7 502.6,130.2 503.1,127.7 503.6,125.1 504.1,122.5 504.6,120.0 505.1,117.7 505.6,115.7 506.1,114.0 506.6,112.6 507.1,111.9 507.6,113.3 508.1,115.0 508.6,117.2 509.1,119.7 509.6,122.4 510.1,125.3 510.6,128.2 511.1,131.0 511.6,133.6 512.1,135.9 512.6,137.8 513.1,139.3 513.6,139.6 514.1,138.5 514.6,136.9 515.1,135.0 515.6,132.9 516.1,130.6 516.6,128.1 517.1,125.7 517.6,123.4 518.1,121.3 518.6,119.4 519.1,117.8 519.6,116.6 520.1,116.8 520.6,117.9 521.1,119.4 521.6,121.1 522.1,123.0 522.6,125.1 523.1,127.4 523.6,129.6 524.1,131.8 524.6,133.9 525.1,135.7 525.6,137.4 526.1,138.7 526.6,139.8 527.1,139.4 527.6,138.3 528.1,136.9 528.6,135.2 529.1,133.4 529.6,131.3 530.1,129.2 530.6,127.1 531.1,125.0 531.6,123.1 532.1,121.3 532.6,119.7 533.1,118.5 533.6,117.5 534.1,118.1 534.6,119.4 535.1,121.0 535.6,122.8 536.1,124.9 536.6,127.2 537.1,129.5 537.6,131.8 538.1,134.0 538.6,136.1 539.1,137.9 539.6,139.4 540.1,140.5 540.6,140.6 541.1,139.5 541.6,138.2 542.1,136.6 542.6,134.8 543.1,132.8 543.6,130.8 544.1,128.7 544.6,126.7 545.1,124.9 545.6,123.2 546.1,121.8 546.6,120.7" fill="none" stroke="#f01010" stroke-width="1.8" stroke-dasharray="3.2 2.6"/>
<polyline points="325.6,98.1 326.1,98.7 326.6,99.5 327.1,100.4 327.6,101.3 328.1,102.3 328.6,103.2 329.1,104.2 329.6,105.0 330.1,105.8 330.6,106.4 331.1,106.9 331.6,107.3 332.1,106.8 332.6,106.1 333.1,105.3 333.6,104.3 334.1,103.3 334.6,102.2 335.1,101.0 335.6,99.9 336.1,98.8 336.6,97.7 337.1,96.8 337.6,96.0 338.1,95.4 338.6,94.9 339.1,95.4 339.6,96.1 340.1,96.9 340.6,98.0 341.1,99.1 341.6,100.3 342.1,101.5 342.6,102.7 343.1,103.9 343.6,105.1 344.1,106.1 344.6,106.9 345.1,107.6 345.6,108.1 346.1,107.5 346.6,106.7 347.1,105.6 347.6,104.4 348.1,103.0 348.6,101.6 349.1,100.1 349.6,98.6 350.1,97.1 350.6,95.7 351.1,94.5 351.6,93.5 352.1,92.6 352.6,92.0 353.1,92.7 353.6,93.6 354.1,94.7 354.6,96.0 355.1,97.4 355.6,99.0 356.1,100.6 356.6,102.3 357.1,103.9 357.6,105.5 358.1,106.9 358.6,108.3 359.1,109.4 359.6,110.4 360.1,111.1 360.6,110.5 361.1,109.4 361.6,108.0 362.1,106.3 362.6,104.5 363.1,102.5 363.6,100.3 364.1,98.2 364.6,96.0 365.1,93.9 365.6,92.0 366.1,90.2 366.6,88.6 367.1,87.3 367.6,86.3 368.1,86.4 368.6,87.3 369.1,88.5 369.6,89.9 370.1,91.4 370.6,93.1 371.1,94.9 371.6,96.7 372.1,98.4 372.6,100.1 373.1,101.6 373.6,102.9 374.1,104.0 374.6,104.8 375.1,104.4 375.6,103.3 376.1,101.9 376.6,100.2 377.1,98.3 377.6,96.2 378.1,94.1 378.6,91.9 379.1,89.8 379.6,87.8 380.1,86.0 380.6,84.4 381.1,83.1 381.6,82.2 382.1,82.9 382.6,84.3 383.1,86.1 383.6,88.3 384.1,90.7 384.6,93.3 385.1,95.9 385.6,98.6 386.1,101.1 386.6,103.4 387.1,105.5 387.6,107.2 388.1,108.5 388.6,108.5 389.1,107.0 389.6,105.0 390.1,102.7 390.6,100.1 391.1,97.2 391.6,94.2 392.1,91.2 392.6,88.3 393.1,85.6 393.6,83.2 394.1,81.1 394.6,79.5 395.1,78.7 395.6,80.0 396.1,81.6 396.6,83.6 397.1,85.9 397.6,88.5 398.1,91.2 398.6,94.1 399.1,96.9 399.6,99.7 400.1,102.3 400.6,104.6 401.1,106.7 401.6,108.3 402.1,109.6 402.6,109.0 403.1,107.3 403.6,105.2 404.1,102.6 404.6,99.7 405.1,96.6 405.6,93.3 406.1,90.0 406.6,86.7 407.1,83.5 407.6,80.6 408.1,78.0 408.6,75.8 409.1,74.1 409.6,73.2 410.1,74.4 410.6,75.9 411.1,77.8 411.6,80.0 412.1,82.4 412.6,85.0 413.1,87.7 413.6,90.3 414.1,92.9 414.6,95.3 415.1,97.5 415.6,99.3 416.1,100.8 416.6,102.0 417.1,101.1 417.6,99.7 418.1,97.9 418.6,95.8 419.1,93.4 419.6,90.9 420.1,88.2 420.6,85.5 421.1,82.9 421.6,80.5 422.1,78.2 422.6,76.3 423.1,74.7 423.6,73.4 424.1,73.6 424.6,75.0 425.1,76.8 425.6,78.9 426.1,81.2 426.6,83.8 427.1,86.4 427.6,89.0 428.1,91.5 428.6,93.8 429.1,95.7 429.6,97.3 430.1,98.5 430.6,97.5 431.1,96.0 431.6,94.0 432.1,91.7 432.6,89.2 433.1,86.5 433.6,83.8 434.1,81.1 434.6,78.6 435.1,76.3 435.6,74.4 436.1,72.9 436.6,72.2 437.1,73.4 437.6,74.9 438.1,76.8 438.6,78.9 439.1,81.3 439.6,83.9 440.1,86.5 440.6,89.2 441.1,91.8 441.6,94.2 442.1,96.5 442.6,98.5 443.1,100.2 443.6,101.5 444.1,101.7 444.6,100.4 445.1,98.8 445.6,96.9 446.1,94.7 446.6,92.3 447.1,89.7 447.6,87.0 448.1,84.4 448.6,81.8 449.1,79.4 449.6,77.2 450.1,75.2 450.6,73.6 451.1,72.4 451.6,72.8 452.1,74.4 452.6,76.5 453.1,79.1 453.6,81.9 454.1,85.0 454.6,88.2 455.1,91.5 455.6,94.6 456.1,97.5 456.6,100.0 457.1,102.2 457.6,103.9 458.1,104.4 458.6,102.9 459.1,101.0 459.6,98.5 460.1,95.8 460.6,92.7 461.1,89.5 461.6,86.3 462.1,83.1 462.6,80.2 463.1,77.5 463.6,75.2 464.1,73.4 464.6,72.0 465.1,73.1 465.6,74.6 466.1,76.4 466.6,78.6 467.1,80.9 467.6,83.5 468.1,86.2 468.6,88.8 469.1,91.4 469.6,93.9 470.1,96.1 470.6,98.1 471.1,99.7 471.6,101.0 472.1,100.8 472.6,99.4 473.1,97.7 473.6,95.7 474.1,93.4 474.6,90.9 475.1,88.3 475.6,85.6 476.1,83.0 476.6,80.4 477.1,78.1 477.6,76.0 478.1,74.3 478.6,72.9 479.1,72.2 479.6,73.6 480.1,75.4 480.6,77.5 481.1,80.1 481.6,82.8 482.1,85.8 482.6,88.8 483.1,91.8 483.6,94.7 484.1,97.3 484.6,99.6 485.1,101.6 485.6,103.1 486.1,103.4 486.6,102.2 487.1,100.5 487.6,98.5 488.1,96.3 488.6,93.8 489.1,91.2 489.6,88.6 490.1,86.0 490.6,83.5 491.1,81.3 491.6,79.3 492.1,77.7 492.6,76.4 493.1,76.7 493.6,78.1 494.1,79.9 494.6,82.1 495.1,84.5 495.6,87.2 496.1,90.0 496.6,92.9 497.1,95.7 497.6,98.4 498.1,100.8 498.6,103.0 499.1,104.8 499.6,106.2 500.1,106.5 500.6,105.2 501.1,103.6 501.6,101.6 502.1,99.4 502.6,96.9 503.1,94.3 503.6,91.6 504.1,89.0 504.6,86.5 505.1,84.1 505.6,82.0 506.1,80.3 506.6,78.9 507.1,78.3 507.6,79.9 508.1,82.1 508.6,84.8 509.1,87.9 509.6,91.3 510.1,94.8 510.6,98.4 511.1,101.9 511.6,105.1 512.1,108.0 512.6,110.4 513.1,112.2 513.6,112.6 514.1,110.8 514.6,108.5 515.1,105.7 515.6,102.6 516.1,99.1 516.6,95.5 517.1,92.0 517.6,88.5 518.1,85.4 518.6,82.6 519.1,80.3 519.6,78.5 520.1,78.7 520.6,80.3 521.1,82.3 521.6,84.7 522.1,87.4 522.6,90.3 523.1,93.3 523.6,96.4 524.1,99.5 524.6,102.3 525.1,104.9 525.6,107.2 526.1,109.1 526.6,110.5 527.1,110.1 527.6,108.7 528.1,106.9 528.6,104.8 529.1,102.4 529.6,99.8 530.1,97.1 530.6,94.4 531.1,91.7 531.6,89.2 532.1,87.0 532.6,85.0 533.1,83.4 533.6,82.2 534.1,83.0 534.6,84.7 535.1,86.8 535.6,89.3 536.1,92.1 536.6,95.1 537.1,98.2 537.6,101.3 538.1,104.3 538.6,107.0 539.1,109.4 539.6,111.4 540.1,112.9 540.6,113.0 541.1,111.8 541.6,110.2 542.1,108.2 542.6,106.0 543.1,103.6 543.6,101.1 544.1,98.6 544.6,96.2 545.1,93.9 545.6,91.9 546.1,90.2 546.6,88.8" fill="none" stroke="#1010f0" stroke-width="1.8" stroke-dasharray="3.2 2.6"/>
<polyline points="325.6,89.2 326.1,90.0 326.6,91.0 327.1,92.0 327.6,93.1 328.1,94.2 328.6,95.3 329.1,96.3 329.6,97.3 330.1,98.2 330.6,99.0 331.1,99.6 331.6,100.0 332.1,99.4 332.6,98.6 333.1,97.7 333.6,96.6 334.1,95.5 334.6,94.2 335.1,92.9 335.6,91.6 336.1,90.3 336.6,89.1 337.1,88.1 337.6,87.2 338.1,86.4 338.6,85.9 339.1,86.4 339.6,87.2 340.1,88.1 340.6,89.1 341.1,90.3 341.6,91.6 342.1,92.9 342.6,94.2 343.1,95.5 343.6,96.7 344.1,97.7 344.6,98.6 345.1,99.4 345.6,99.9 346.1,99.3 346.6,98.4 347.1,97.3 347.6,96.1 348.1,94.7 348.6,93.2 349.1,91.6 349.6,90.1 350.1,88.6 350.6,87.2 351.1,85.9 351.6,84.8 352.1,83.9 352.6,83.3 353.1,83.8 353.6,84.5 354.1,85.4 354.6,86.3 355.1,87.4 355.6,88.6 356.1,89.9 356.6,91.1 357.1,92.4 357.6,93.6 358.1,94.7 358.6,95.7 359.1,96.6 359.6,97.3 360.1,97.9 360.6,97.3 361.1,96.3 361.6,95.0 362.1,93.5 362.6,91.8 363.1,89.9 363.6,87.9 364.1,85.9 364.6,83.9 365.1,82.0 365.6,80.2 366.1,78.6 366.6,77.1 367.1,75.9 367.6,75.0 368.1,75.2 368.6,76.2 369.1,77.5 369.6,79.0 370.1,80.8 370.6,82.7 371.1,84.7 371.6,86.7 372.1,88.6 372.6,90.5 373.1,92.2 373.6,93.7 374.1,94.9 374.6,95.8 375.1,95.4 375.6,94.3 376.1,92.8 376.6,91.1 377.1,89.2 377.6,87.1 378.1,85.0 378.6,82.8 379.1,80.6 379.6,78.6 380.1,76.8 380.6,75.2 381.1,73.9 381.6,73.0 382.1,73.5 382.6,74.7 383.1,76.2 383.6,78.0 384.1,79.9 384.6,82.0 385.1,84.2 385.6,86.4 386.1,88.5 386.6,90.4 387.1,92.1 387.6,93.5 388.1,94.6 388.6,94.5 389.1,93.1 389.6,91.4 390.1,89.3 390.6,86.9 391.1,84.3 391.6,81.7 392.1,79.0 392.6,76.3 393.1,73.9 393.6,71.7 394.1,69.8 394.6,68.4 395.1,67.7 395.6,68.8 396.1,70.2 396.6,72.0 397.1,74.0 397.6,76.2 398.1,78.6 398.6,81.1 399.1,83.6 399.6,86.0 400.1,88.3 400.6,90.3 401.1,92.1 401.6,93.6 402.1,94.7 402.6,94.2 403.1,92.7 403.6,90.8 404.1,88.5 404.6,86.0 405.1,83.2 405.6,80.3 406.1,77.4 406.6,74.5 407.1,71.7 407.6,69.1 408.1,66.8 408.6,64.9 409.1,63.3 409.6,62.6 410.1,63.9 410.6,65.6 411.1,67.6 411.6,70.0 412.1,72.6 412.6,75.4 413.1,78.3 413.6,81.2 414.1,84.0 414.6,86.6 415.1,88.9 415.6,91.0 416.1,92.6 416.6,93.9 417.1,92.9 417.6,91.4 418.1,89.6 418.6,87.4 419.1,84.9 419.6,82.3 420.1,79.5 420.6,76.7 421.1,74.0 421.6,71.5 422.1,69.2 422.6,67.1 423.1,65.4 423.6,64.1 424.1,64.4 424.6,66.0 425.1,68.0 425.6,70.4 426.1,73.2 426.6,76.1 427.1,79.1 427.6,82.1 428.1,85.0 428.6,87.5 429.1,89.8 429.6,91.6 430.1,92.9 430.6,91.7 431.1,89.7 431.6,87.2 432.1,84.3 432.6,81.0 433.1,77.6 433.6,74.1 434.1,70.6 434.6,67.4 435.1,64.5 435.6,62.1 436.1,60.1 436.6,59.2 437.1,60.6 437.6,62.4 438.1,64.5 438.6,67.0 439.1,69.8 439.6,72.8 440.1,75.9 440.6,79.0 441.1,82.0 441.6,84.9 442.1,87.5 442.6,89.8 443.1,91.7 443.6,93.3 444.1,93.6 444.6,92.2 445.1,90.4 445.6,88.2 446.1,85.8 446.6,83.1 447.1,80.2 447.6,77.2 448.1,74.3 448.6,71.4 449.1,68.7 449.6,66.3 450.1,64.1 450.6,62.3 451.1,60.9 451.6,61.3 452.1,63.0 452.6,65.1 453.1,67.7 453.6,70.6 454.1,73.8 454.6,77.1 455.1,80.4 455.6,83.6 456.1,86.5 456.6,89.1 457.1,91.3 457.6,93.1 458.1,93.6 458.6,92.1 459.1,90.1 459.6,87.6 460.1,84.8 460.6,81.7 461.1,78.4 461.6,75.1 462.1,71.9 462.6,68.8 463.1,66.1 463.6,63.8 464.1,61.9 464.6,60.5 465.1,61.8 465.6,63.5 466.1,65.7 466.6,68.2 467.1,71.0 467.6,74.0 468.1,77.1 468.6,80.3 469.1,83.3 469.6,86.2 470.1,88.8 470.6,91.1 471.1,93.0 471.6,94.5 472.1,94.2 472.6,92.6 473.1,90.5 473.6,88.0 474.1,85.2 474.6,82.1 475.1,78.9 475.6,75.6 476.1,72.3 476.6,69.2 477.1,66.3 477.6,63.8 478.1,61.6 478.6,59.9 479.1,59.1 479.6,60.6 480.1,62.7 480.6,65.3 481.1,68.2 481.6,71.5 482.1,74.9 482.6,78.5 483.1,82.0 483.6,85.3 484.1,88.4 484.6,91.1 485.1,93.4 485.6,95.2 486.1,95.6 486.6,94.2 487.1,92.4 487.6,90.2 488.1,87.7 488.6,84.9 489.1,82.1 489.6,79.1 490.1,76.3 490.6,73.5 491.1,71.0 491.6,68.8 492.1,67.0 492.6,65.6 493.1,65.9 493.6,67.4 494.1,69.3 494.6,71.6 495.1,74.1 495.6,76.9 496.1,79.9 496.6,82.8 497.1,85.8 497.6,88.6 498.1,91.1 498.6,93.4 499.1,95.3 499.6,96.8 500.1,97.1 500.6,95.7 501.1,93.9 501.6,91.8 502.1,89.3 502.6,86.6 503.1,83.8 503.6,80.9 504.1,78.0 504.6,75.2 505.1,72.7 505.6,70.4 506.1,68.5 506.6,66.9 507.1,66.2 507.6,67.8 508.1,69.8 508.6,72.4 509.1,75.3 509.6,78.4 510.1,81.8 510.6,85.2 511.1,88.4 511.6,91.5 512.1,94.1 512.6,96.4 513.1,98.1 513.6,98.4 514.1,96.7 514.6,94.5 515.1,91.9 515.6,88.8 516.1,85.5 516.6,82.1 517.1,78.6 517.6,75.3 518.1,72.3 518.6,69.6 519.1,67.4 519.6,65.7 520.1,66.0 520.6,67.6 521.1,69.7 521.6,72.2 522.1,75.1 522.6,78.2 523.1,81.4 523.6,84.7 524.1,87.9 524.6,91.0 525.1,93.7 525.6,96.1 526.1,98.1 526.6,99.6 527.1,99.2 527.6,97.8 528.1,96.0 528.6,93.9 529.1,91.5 529.6,88.9 530.1,86.2 530.6,83.4 531.1,80.8 531.6,78.3 532.1,76.0 532.6,74.0 533.1,72.4 533.6,71.2 534.1,72.0 534.6,73.6 535.1,75.6 535.6,78.0 536.1,80.6 536.6,83.5 537.1,86.4 537.6,89.4 538.1,92.2 538.6,94.7 539.1,97.0 539.6,98.9 540.1,100.4 540.6,100.5 541.1,99.4 541.6,98.0 542.1,96.3 542.6,94.4 543.1,92.3 543.6,90.1 544.1,87.8 544.6,85.7 545.1,83.7 545.6,81.9 546.1,80.4 546.6,79.2" fill="none" stroke="#0a7a0a" stroke-width="1.8" stroke-dasharray="3.2 2.6"/>
<polyline points="325.6,163.8 326.6,163.6 327.6,163.3 328.6,163.1 329.6,162.8 330.6,162.6 331.6,162.3 332.6,162.1 333.6,161.8 334.6,161.6 335.6,161.3 336.6,161.1 337.6,160.8 338.6,160.6 339.6,160.4 340.6,160.1 341.6,159.9 342.6,159.7 343.6,159.4 344.6,159.2 345.6,159.0 346.6,158.7 347.6,158.5 348.6,158.3 349.6,158.1 350.6,157.8 351.6,157.6 352.6,157.4 353.6,157.2 354.6,157.0 355.6,156.8 356.6,156.6 357.6,156.4 358.6,156.1 359.6,155.9 360.6,155.7 361.6,155.5 362.6,155.3 363.6,155.1 364.6,154.9 365.6,154.7 366.6,154.5 367.6,154.3 368.6,154.2 369.6,154.0 370.6,153.8 371.6,153.6 372.6,153.4 373.6,153.2 374.6,153.0 375.6,152.9 376.6,152.7 377.6,152.5 378.6,152.3 379.6,152.2 380.6,152.0 381.6,151.8 382.6,151.6 383.6,151.5 384.6,151.3 385.6,151.1 386.6,151.0 387.6,150.8 388.6,150.7 389.6,150.5 390.6,150.3 391.6,150.2 392.6,150.0 393.6,149.9 394.6,149.7 395.6,149.6 396.6,149.4 397.6,149.3 398.6,149.1 399.6,149.0 400.6,148.9 401.6,148.7 402.6,148.6 403.6,148.4 404.6,148.3 405.6,148.2 406.6,148.0 407.6,147.9 408.6,147.8 409.6,147.6 410.6,147.5 411.6,147.4 412.6,147.3 413.6,147.1 414.6,147.0 415.6,146.9 416.6,146.8 417.6,146.7 418.6,146.6 419.6,146.4 420.6,146.3 421.6,146.2 422.6,146.1 423.6,146.0 424.6,145.9 425.6,145.8 426.6,145.7 427.6,145.6 428.6,145.5 429.6,145.4 430.6,145.3 431.6,145.2 432.6,145.1 433.6,145.0 434.6,144.9 435.6,144.8 436.6,144.8 437.6,144.7 438.6,144.6 439.6,144.5 440.6,144.4 441.6,144.3 442.6,144.3 443.6,144.2 444.6,144.1 445.6,144.0 446.6,144.0 447.6,143.9 448.6,143.8 449.6,143.8 450.6,143.7 451.6,143.6 452.6,143.6 453.6,143.5 454.6,143.4 455.6,143.4 456.6,143.3 457.6,143.3 458.6,143.2 459.6,143.2 460.6,143.1 461.6,143.1 462.6,143.0 463.6,143.0 464.6,142.9 465.6,142.9 466.6,142.8 467.6,142.8 468.6,142.8 469.6,142.7 470.6,142.7 471.6,142.6 472.6,142.6 473.6,142.6 474.6,142.5 475.6,142.5 476.6,142.5 477.6,142.5 478.6,142.4 479.6,142.4 480.6,142.4 481.6,142.4 482.6,142.3 483.6,142.3 484.6,142.3 485.6,142.3 486.6,142.3 487.6,142.3 488.6,142.3 489.6,142.3 490.6,142.2 491.6,142.2 492.6,142.2 493.6,142.2 494.6,142.2 495.6,142.2 496.6,142.2 497.6,142.2 498.6,142.2 499.6,142.2 500.6,142.2 501.6,142.3 502.6,142.3 503.6,142.3 504.6,142.3 505.6,142.3 506.6,142.3 507.6,142.3 508.6,142.3 509.6,142.4 510.6,142.4 511.6,142.4 512.6,142.4 513.6,142.5 514.6,142.5 515.6,142.5 516.6,142.5 517.6,142.6 518.6,142.6 519.6,142.6 520.6,142.7 521.6,142.7 522.6,142.7 523.6,142.8 524.6,142.8 525.6,142.9 526.6,142.9 527.6,143.0 528.6,143.0 529.6,143.1 530.6,143.1 531.6,143.2 532.6,143.2 533.6,143.3 534.6,143.3 535.6,143.4 536.6,143.4 537.6,143.5 538.6,143.5 539.6,143.6 540.6,143.7 541.6,143.7 542.6,143.8 543.6,143.9 544.6,143.9 545.6,144.0 546.6,144.1" fill="none" stroke="#000000" stroke-width="2.4" stroke-linejoin="round"/>
<polyline points="325.6,136.1 326.6,135.9 327.6,135.7 328.6,135.5 329.6,135.4 330.6,135.2 331.6,135.0 332.6,134.8 333.6,134.7 334.6,134.5 335.6,134.3 336.6,134.1 337.6,134.0 338.6,133.8 339.6,133.6 340.6,133.5 341.6,133.3 342.6,133.2 343.6,133.0 344.6,132.8 345.6,132.7 346.6,132.5 347.6,132.4 348.6,132.2 349.6,132.1 350.6,131.9 351.6,131.8 352.6,131.6 353.6,131.5 354.6,131.3 355.6,131.2 356.6,131.0 357.6,130.9 358.6,130.8 359.6,130.6 360.6,130.5 361.6,130.4 362.6,130.2 363.6,130.1 364.6,130.0 365.6,129.8 366.6,129.7 367.6,129.6 368.6,129.4 369.6,129.3 370.6,129.2 371.6,129.1 372.6,129.0 373.6,128.8 374.6,128.7 375.6,128.6 376.6,128.5 377.6,128.4 378.6,128.3 379.6,128.2 380.6,128.0 381.6,127.9 382.6,127.8 383.6,127.7 384.6,127.6 385.6,127.5 386.6,127.4 387.6,127.3 388.6,127.2 389.6,127.1 390.6,127.0 391.6,126.9 392.6,126.9 393.6,126.8 394.6,126.7 395.6,126.6 396.6,126.5 397.6,126.4 398.6,126.3 399.6,126.3 400.6,126.2 401.6,126.1 402.6,126.0 403.6,125.9 404.6,125.9 405.6,125.8 406.6,125.7 407.6,125.6 408.6,125.6 409.6,125.5 410.6,125.4 411.6,125.4 412.6,125.3 413.6,125.2 414.6,125.2 415.6,125.1 416.6,125.1 417.6,125.0 418.6,125.0 419.6,124.9 420.6,124.9 421.6,124.8 422.6,124.8 423.6,124.7 424.6,124.7 425.6,124.6 426.6,124.6 427.6,124.5 428.6,124.5 429.6,124.4 430.6,124.4 431.6,124.4 432.6,124.3 433.6,124.3 434.6,124.3 435.6,124.2 436.6,124.2 437.6,124.2 438.6,124.1 439.6,124.1 440.6,124.1 441.6,124.1 442.6,124.1 443.6,124.0 444.6,124.0 445.6,124.0 446.6,124.0 447.6,124.0 448.6,124.0 449.6,123.9 450.6,123.9 451.6,123.9 452.6,123.9 453.6,123.9 454.6,123.9 455.6,123.9 456.6,123.9 457.6,123.9 458.6,123.9 459.6,123.9 460.6,123.9 461.6,123.9 462.6,123.9 463.6,123.9 464.6,123.9 465.6,123.9 466.6,124.0 467.6,124.0 468.6,124.0 469.6,124.0 470.6,124.0 471.6,124.0 472.6,124.1 473.6,124.1 474.6,124.1 475.6,124.1 476.6,124.2 477.6,124.2 478.6,124.2 479.6,124.3 480.6,124.3 481.6,124.3 482.6,124.4 483.6,124.4 484.6,124.4 485.6,124.5 486.6,124.5 487.6,124.6 488.6,124.6 489.6,124.6 490.6,124.7 491.6,124.7 492.6,124.8 493.6,124.8 494.6,124.9 495.6,124.9 496.6,125.0 497.6,125.1 498.6,125.1 499.6,125.2 500.6,125.2 501.6,125.3 502.6,125.4 503.6,125.4 504.6,125.5 505.6,125.6 506.6,125.6 507.6,125.7 508.6,125.8 509.6,125.8 510.6,125.9 511.6,126.0 512.6,126.1 513.6,126.2 514.6,126.2 515.6,126.3 516.6,126.4 517.6,126.5 518.6,126.6 519.6,126.7 520.6,126.8 521.6,126.8 522.6,126.9 523.6,127.0 524.6,127.1 525.6,127.2 526.6,127.3 527.6,127.4 528.6,127.5 529.6,127.6 530.6,127.7 531.6,127.8 532.6,127.9 533.6,128.1 534.6,128.2 535.6,128.3 536.6,128.4 537.6,128.5 538.6,128.6 539.6,128.7 540.6,128.9 541.6,129.0 542.6,129.1 543.6,129.2 544.6,129.3 545.6,129.5 546.6,129.6" fill="none" stroke="#ff0000" stroke-width="2.4" stroke-linejoin="round"/>
<polyline points="325.6,105.1 326.6,104.9 327.6,104.6 328.6,104.4 329.6,104.1 330.6,103.9 331.6,103.6 332.6,103.4 333.6,103.2 334.6,102.9 335.6,102.7 336.6,102.5 337.6,102.2 338.6,102.0 339.6,101.8 340.6,101.6 341.6,101.3 342.6,101.1 343.6,100.9 344.6,100.7 345.6,100.5 346.6,100.3 347.6,100.1 348.6,99.8 349.6,99.6 350.6,99.4 351.6,99.2 352.6,99.0 353.6,98.8 354.6,98.6 355.6,98.5 356.6,98.3 357.6,98.1 358.6,97.9 359.6,97.7 360.6,97.5 361.6,97.3 362.6,97.2 363.6,97.0 364.6,96.8 365.6,96.6 366.6,96.5 367.6,96.3 368.6,96.1 369.6,96.0 370.6,95.8 371.6,95.6 372.6,95.5 373.6,95.3 374.6,95.2 375.6,95.0 376.6,94.9 377.6,94.7 378.6,94.6 379.6,94.4 380.6,94.3 381.6,94.2 382.6,94.0 383.6,93.9 384.6,93.8 385.6,93.6 386.6,93.5 387.6,93.4 388.6,93.2 389.6,93.1 390.6,93.0 391.6,92.9 392.6,92.8 393.6,92.7 394.6,92.5 395.6,92.4 396.6,92.3 397.6,92.2 398.6,92.1 399.6,92.0 400.6,91.9 401.6,91.8 402.6,91.7 403.6,91.6 404.6,91.5 405.6,91.4 406.6,91.3 407.6,91.3 408.6,91.2 409.6,91.1 410.6,91.0 411.6,90.9 412.6,90.9 413.6,90.8 414.6,90.7 415.6,90.6 416.6,90.6 417.6,90.5 418.6,90.4 419.6,90.4 420.6,90.3 421.6,90.3 422.6,90.2 423.6,90.2 424.6,90.1 425.6,90.1 426.6,90.0 427.6,90.0 428.6,89.9 429.6,89.9 430.6,89.8 431.6,89.8 432.6,89.8 433.6,89.7 434.6,89.7 435.6,89.7 436.6,89.7 437.6,89.6 438.6,89.6 439.6,89.6 440.6,89.6 441.6,89.5 442.6,89.5 443.6,89.5 444.6,89.5 445.6,89.5 446.6,89.5 447.6,89.5 448.6,89.5 449.6,89.5 450.6,89.5 451.6,89.5 452.6,89.5 453.6,89.5 454.6,89.5 455.6,89.5 456.6,89.5 457.6,89.6 458.6,89.6 459.6,89.6 460.6,89.6 461.6,89.6 462.6,89.7 463.6,89.7 464.6,89.7 465.6,89.8 466.6,89.8 467.6,89.8 468.6,89.9 469.6,89.9 470.6,90.0 471.6,90.0 472.6,90.0 473.6,90.1 474.6,90.1 475.6,90.2 476.6,90.3 477.6,90.3 478.6,90.4 479.6,90.4 480.6,90.5 481.6,90.6 482.6,90.6 483.6,90.7 484.6,90.8 485.6,90.8 486.6,90.9 487.6,91.0 488.6,91.1 489.6,91.2 490.6,91.2 491.6,91.3 492.6,91.4 493.6,91.5 494.6,91.6 495.6,91.7 496.6,91.8 497.6,91.9 498.6,92.0 499.6,92.1 500.6,92.2 501.6,92.3 502.6,92.4 503.6,92.5 504.6,92.6 505.6,92.7 506.6,92.9 507.6,93.0 508.6,93.1 509.6,93.2 510.6,93.3 511.6,93.5 512.6,93.6 513.6,93.7 514.6,93.9 515.6,94.0 516.6,94.1 517.6,94.3 518.6,94.4 519.6,94.5 520.6,94.7 521.6,94.8 522.6,95.0 523.6,95.1 524.6,95.3 525.6,95.4 526.6,95.6 527.6,95.8 528.6,95.9 529.6,96.1 530.6,96.2 531.6,96.4 532.6,96.6 533.6,96.7 534.6,96.9 535.6,97.1 536.6,97.3 537.6,97.5 538.6,97.6 539.6,97.8 540.6,98.0 541.6,98.2 542.6,98.4 543.6,98.6 544.6,98.8 545.6,99.0 546.6,99.2" fill="none" stroke="#0000ff" stroke-width="2.4" stroke-linejoin="round"/>
<polyline points="325.6,95.7 326.6,95.4 327.6,95.1 328.6,94.8 329.6,94.6 330.6,94.3 331.6,94.0 332.6,93.7 333.6,93.4 334.6,93.1 335.6,92.9 336.6,92.6 337.6,92.3 338.6,92.0 339.6,91.8 340.6,91.5 341.6,91.2 342.6,91.0 343.6,90.7 344.6,90.5 345.6,90.2 346.6,90.0 347.6,89.7 348.6,89.5 349.6,89.2 350.6,89.0 351.6,88.7 352.6,88.5 353.6,88.3 354.6,88.0 355.6,87.8 356.6,87.6 357.6,87.4 358.6,87.1 359.6,86.9 360.6,86.7 361.6,86.5 362.6,86.3 363.6,86.0 364.6,85.8 365.6,85.6 366.6,85.4 367.6,85.2 368.6,85.0 369.6,84.8 370.6,84.6 371.6,84.4 372.6,84.2 373.6,84.1 374.6,83.9 375.6,83.7 376.6,83.5 377.6,83.3 378.6,83.1 379.6,83.0 380.6,82.8 381.6,82.6 382.6,82.5 383.6,82.3 384.6,82.1 385.6,82.0 386.6,81.8 387.6,81.7 388.6,81.5 389.6,81.4 390.6,81.2 391.6,81.1 392.6,80.9 393.6,80.8 394.6,80.6 395.6,80.5 396.6,80.4 397.6,80.2 398.6,80.1 399.6,80.0 400.6,79.9 401.6,79.7 402.6,79.6 403.6,79.5 404.6,79.4 405.6,79.3 406.6,79.2 407.6,79.1 408.6,79.0 409.6,78.9 410.6,78.8 411.6,78.7 412.6,78.6 413.6,78.5 414.6,78.4 415.6,78.3 416.6,78.2 417.6,78.1 418.6,78.0 419.6,78.0 420.6,77.9 421.6,77.8 422.6,77.7 423.6,77.7 424.6,77.6 425.6,77.5 426.6,77.5 427.6,77.4 428.6,77.4 429.6,77.3 430.6,77.3 431.6,77.2 432.6,77.2 433.6,77.1 434.6,77.1 435.6,77.0 436.6,77.0 437.6,77.0 438.6,76.9 439.6,76.9 440.6,76.9 441.6,76.8 442.6,76.8 443.6,76.8 444.6,76.8 445.6,76.8 446.6,76.8 447.6,76.7 448.6,76.7 449.6,76.7 450.6,76.7 451.6,76.7 452.6,76.7 453.6,76.7 454.6,76.7 455.6,76.8 456.6,76.8 457.6,76.8 458.6,76.8 459.6,76.8 460.6,76.8 461.6,76.9 462.6,76.9 463.6,76.9 464.6,77.0 465.6,77.0 466.6,77.0 467.6,77.1 468.6,77.1 469.6,77.2 470.6,77.2 471.6,77.2 472.6,77.3 473.6,77.4 474.6,77.4 475.6,77.5 476.6,77.5 477.6,77.6 478.6,77.7 479.6,77.7 480.6,77.8 481.6,77.9 482.6,78.0 483.6,78.0 484.6,78.1 485.6,78.2 486.6,78.3 487.6,78.4 488.6,78.5 489.6,78.6 490.6,78.7 491.6,78.8 492.6,78.9 493.6,79.0 494.6,79.1 495.6,79.2 496.6,79.3 497.6,79.4 498.6,79.5 499.6,79.6 500.6,79.8 501.6,79.9 502.6,80.0 503.6,80.2 504.6,80.3 505.6,80.4 506.6,80.6 507.6,80.7 508.6,80.8 509.6,81.0 510.6,81.1 511.6,81.3 512.6,81.4 513.6,81.6 514.6,81.8 515.6,81.9 516.6,82.1 517.6,82.2 518.6,82.4 519.6,82.6 520.6,82.8 521.6,82.9 522.6,83.1 523.6,83.3 524.6,83.5 525.6,83.7 526.6,83.8 527.6,84.0 528.6,84.2 529.6,84.4 530.6,84.6 531.6,84.8 532.6,85.0 533.6,85.2 534.6,85.4 535.6,85.7 536.6,85.9 537.6,86.1 538.6,86.3 539.6,86.5 540.6,86.8 541.6,87.0 542.6,87.2 543.6,87.4 544.6,87.7 545.6,87.9 546.6,88.2" fill="none" stroke="#007f00" stroke-width="2.4" stroke-linejoin="round"/>
</g>
<g clip-path="url(#cLR)">
<polyline points="325.6,193.7 326.1,193.2 326.6,192.8 327.1,192.5 327.6,192.2 328.1,192.0 328.6,192.3 329.1,192.6 329.6,193.0 330.1,193.4 330.6,193.9 331.1,194.4 331.6,195.0 332.1,195.5 332.6,196.0 333.1,196.5 333.6,197.0 334.1,197.4 334.6,197.7 335.1,197.9 335.6,197.8 336.1,197.4 336.6,196.9 337.1,196.4 337.6,195.8 338.1,195.1 338.6,194.4 339.1,193.7 339.6,193.0 340.1,192.3 340.6,191.6 341.1,191.1 341.6,190.6 342.1,190.2 342.6,190.0 343.1,190.3 343.6,190.7 344.1,191.1 344.6,191.7 345.1,192.2 345.6,192.8 346.1,193.5 346.6,194.1 347.1,194.7 347.6,195.3 348.1,195.8 348.6,196.3 349.1,196.7 349.6,196.9 350.1,196.8 350.6,196.4 351.1,196.0 351.6,195.4 352.1,194.8 352.6,194.1 353.1,193.4 353.6,192.7 354.1,192.0 354.6,191.3 355.1,190.7 355.6,190.1 356.1,189.6 356.6,189.2 357.1,189.0 357.6,189.3 358.1,189.7 358.6,190.1 359.1,190.7 359.6,191.2 360.1,191.8 360.6,192.5 361.1,193.1 361.6,193.7 362.1,194.3 362.6,194.8 363.1,195.3 363.6,195.6 364.1,195.9 364.6,195.8 365.1,195.3 365.6,194.7 366.1,194.0 366.6,193.2 367.1,192.4 367.6,191.5 368.1,190.6 368.6,189.7 369.1,188.8 369.6,188.1 370.1,187.4 370.6,186.8 371.1,186.3 371.6,186.1 372.1,186.5 372.6,187.1 373.1,187.8 373.6,188.6 374.1,189.5 374.6,190.5 375.1,191.4 375.6,192.4 376.1,193.3 376.6,194.1 377.1,194.9 377.6,195.5 378.1,195.9 378.6,195.7 379.1,195.0 379.6,194.2 380.1,193.2 380.6,192.0 381.1,190.8 381.6,189.6 382.1,188.3 382.6,187.1 383.1,186.0 383.6,184.9 384.1,184.1 384.6,183.4 385.1,183.1 385.6,183.7 386.1,184.4 386.6,185.4 387.1,186.5 387.6,187.7 388.1,189.0 388.6,190.3 389.1,191.6 389.6,192.8 390.1,194.0 390.6,195.0 391.1,195.9 391.6,196.6 392.1,196.9 392.6,196.1 393.1,195.0 393.6,193.7 394.1,192.2 394.6,190.5 395.1,188.7 395.6,186.9 396.1,185.1 396.6,183.3 397.1,181.7 397.6,180.3 398.1,179.1 398.6,178.1 399.1,177.7 399.6,178.6 400.1,179.8 400.6,181.3 401.1,183.1 401.6,185.0 402.1,187.1 402.6,189.2 403.1,191.3 403.6,193.3 404.1,195.1 404.6,196.8 405.1,198.2 405.6,199.3 406.1,199.9 406.6,199.2 407.1,198.3 407.6,197.3 408.1,196.0 408.6,194.7 409.1,193.2 409.6,191.7 410.1,190.2 410.6,188.8 411.1,187.5 411.6,186.3 412.1,185.3 412.6,184.5 413.1,184.1 413.6,185.0 414.1,186.1 414.6,187.4 415.1,188.9 415.6,190.7 416.1,192.5 416.6,194.3 417.1,196.1 417.6,197.8 418.1,199.4 418.6,200.8 419.1,201.9 419.6,202.7 420.1,202.5 420.6,201.6 421.1,200.5 421.6,199.2 422.1,197.8 422.6,196.2 423.1,194.6 423.6,192.9 424.1,191.3 424.6,189.9 425.1,188.5 425.6,187.4 426.1,186.5 426.6,186.1 427.1,187.0 427.6,188.1 428.1,189.4 428.6,191.0 429.1,192.7 429.6,194.5 430.1,196.4 430.6,198.2 431.1,199.9 431.6,201.5 432.1,202.9 432.6,204.0 433.1,204.9 433.6,204.5 434.1,203.4 434.6,202.1 435.1,200.4 435.6,198.6 436.1,196.7 436.6,194.6 437.1,192.6 437.6,190.6 438.1,188.8 438.6,187.2 439.1,185.8 439.6,184.7 440.1,184.2 440.6,185.1 441.1,186.3 441.6,187.8 442.1,189.4 442.6,191.3 443.1,193.3 443.6,195.4 444.1,197.5 444.6,199.6 445.1,201.6 445.6,203.4 446.1,205.0 446.6,206.4 447.1,207.5 447.6,207.9 448.1,206.7 448.6,205.1 449.1,203.2 449.6,200.9 450.1,198.4 450.6,195.8 451.1,193.0 451.6,190.2 452.1,187.5 452.6,184.9 453.1,182.5 453.6,180.4 454.1,178.5 454.6,177.1 455.1,176.5 455.6,178.1 456.1,180.3 456.6,183.0 457.1,186.1 457.6,189.5 458.1,193.1 458.6,196.7 459.1,200.3 459.6,203.6 460.1,206.5 460.6,209.0 461.1,211.0 461.6,212.1 462.1,211.5 462.6,210.7 463.1,209.7 463.6,208.6 464.1,207.3 464.6,206.0 465.1,204.7 465.6,203.4 466.1,202.2 466.6,201.1 467.1,200.2 467.6,199.4 468.1,199.1 468.6,199.9 469.1,201.0 469.6,202.2 470.1,203.7 470.6,205.3 471.1,207.1 471.6,208.9 472.1,210.6 472.6,212.3 473.1,213.9 473.6,215.3 474.1,216.5 474.6,217.4 475.1,217.9 475.6,217.0 476.1,215.9 476.6,214.6 477.1,213.0 477.6,211.3 478.1,209.4 478.6,207.5 479.1,205.6 479.6,203.8 480.1,202.2 480.6,200.7 481.1,199.4 481.6,198.4 482.1,198.0 482.6,199.0 483.1,200.4 483.6,202.1 484.1,204.1 484.6,206.3 485.1,208.6 485.6,211.0 486.1,213.4 486.6,215.8 487.1,218.0 487.6,220.0 488.1,221.7 488.6,223.2 489.1,224.3 489.6,224.3 490.1,223.5 490.6,222.5 491.1,221.3 491.6,219.9 492.1,218.4 492.6,216.8 493.1,215.2 493.6,213.6 494.1,212.1 494.6,210.6 495.1,209.4 495.6,208.3 496.1,207.4 496.6,206.7 497.1,207.5 497.6,208.5 498.1,209.9 498.6,211.4 499.1,213.1 499.6,214.9 500.1,216.7 500.6,218.5 501.1,220.2 501.6,221.7 502.1,223.0 502.6,224.0 503.1,224.7 503.6,224.4 504.1,223.9 504.6,223.3 505.1,222.7 505.6,221.9 506.1,221.1 506.6,220.4 507.1,219.6 507.6,218.9 508.1,218.2 508.6,217.7 509.1,217.3 509.6,217.1 510.1,217.8 510.6,218.7 511.1,219.8 511.6,221.0 512.1,222.4 512.6,223.9 513.1,225.4 513.6,227.0 514.1,228.5 514.6,229.9 515.1,231.1 515.6,232.2 516.1,233.2 516.6,233.9 517.1,233.7 517.6,233.2 518.1,232.5 518.6,231.6 519.1,230.7 519.6,229.6 520.1,228.6 520.6,227.5 521.1,226.4 521.6,225.4 522.1,224.4 522.6,223.5 523.1,222.8 523.6,222.3 524.1,222.0 524.6,222.7 525.1,223.7 525.6,224.8 526.1,226.1 526.6,227.6 527.1,229.1 527.6,230.7 528.1,232.2 528.6,233.6 529.1,234.8 529.6,235.9 530.1,236.7 530.6,237.2 531.1,236.9 531.6,236.5 532.1,235.9 532.6,235.4 533.1,234.7 533.6,234.0 534.1,233.3 534.6,232.7 535.1,232.0 535.6,231.5 536.1,231.0 536.6,230.6 537.1,230.5 537.6,231.0 538.1,231.8 538.6,232.7 539.1,233.7 539.6,234.8 540.1,236.1 540.6,237.3 541.1,238.5 541.6,239.7 542.1,240.8 542.6,241.8 543.1,242.6 543.6,243.3 544.1,243.6 544.6,243.3 545.1,242.9 545.6,242.4 546.1,241.8 546.6,241.1" fill="none" stroke="#111111" stroke-width="1.8" stroke-dasharray="3.2 2.6"/>
<polyline points="325.6,197.9 326.1,196.5 326.6,195.3 327.1,194.3 327.6,193.5 328.1,193.1 328.6,193.8 329.1,194.8 329.6,195.9 330.1,197.3 330.6,198.7 331.1,200.3 331.6,201.9 332.1,203.5 332.6,205.1 333.1,206.6 333.6,207.9 334.1,209.1 334.6,210.1 335.1,210.8 335.6,210.6 336.1,209.7 336.6,208.7 337.1,207.4 337.6,206.0 338.1,204.5 338.6,202.9 339.1,201.3 339.6,199.7 340.1,198.1 340.6,196.7 341.1,195.4 341.6,194.4 342.1,193.5 342.6,193.1 343.1,193.8 343.6,194.8 344.1,195.9 344.6,197.3 345.1,198.7 345.6,200.3 346.1,201.9 346.6,203.5 347.1,205.1 347.6,206.6 348.1,207.9 348.6,209.1 349.1,210.1 349.6,210.8 350.1,210.6 350.6,209.7 351.1,208.7 351.6,207.4 352.1,206.0 352.6,204.5 353.1,202.9 353.6,201.3 354.1,199.7 354.6,198.1 355.1,196.7 355.6,195.4 356.1,194.4 356.6,193.5 357.1,193.1 357.6,193.9 358.1,195.0 358.6,196.3 359.1,197.7 359.6,199.4 360.1,201.1 360.6,202.9 361.1,204.7 361.6,206.5 362.1,208.2 362.6,209.6 363.1,211.0 363.6,212.0 364.1,212.9 364.6,212.6 365.1,211.8 365.6,210.7 366.1,209.5 366.6,208.1 367.1,206.5 367.6,204.9 368.1,203.3 368.6,201.7 369.1,200.1 369.6,198.7 370.1,197.5 370.6,196.4 371.1,195.5 371.6,195.1 372.1,196.1 372.6,197.3 373.1,198.8 373.6,200.5 374.1,202.4 374.6,204.4 375.1,206.5 375.6,208.5 376.1,210.4 376.6,212.1 377.1,213.6 377.6,214.9 378.1,215.8 378.6,215.6 379.1,214.6 379.6,213.5 380.1,212.1 380.6,210.5 381.1,208.8 381.6,207.0 382.1,205.3 382.6,203.5 383.1,202.0 383.6,200.5 384.1,199.3 384.6,198.4 385.1,197.9 385.6,198.9 386.1,200.1 386.6,201.6 387.1,203.3 387.6,205.2 388.1,207.2 388.6,209.3 389.1,211.4 389.6,213.4 390.1,215.2 390.6,216.8 391.1,218.2 391.6,219.3 392.1,219.8 392.6,218.7 393.1,217.3 393.6,215.5 394.1,213.4 394.6,211.1 395.1,208.7 395.6,206.3 396.1,203.8 396.6,201.4 397.1,199.2 397.6,197.3 398.1,195.6 398.6,194.3 399.1,193.7 399.6,195.1 400.1,196.9 400.6,199.0 401.1,201.6 401.6,204.4 402.1,207.3 402.6,210.4 403.1,213.4 403.6,216.3 404.1,219.0 404.6,221.4 405.1,223.4 405.6,225.0 406.1,225.9 406.6,225.0 407.1,223.8 407.6,222.4 408.1,220.8 408.6,219.0 409.1,217.1 409.6,215.1 410.1,213.2 410.6,211.3 411.1,209.5 411.6,208.0 412.1,206.7 412.6,205.6 413.1,205.2 413.6,206.4 414.1,207.9 414.6,209.8 415.1,212.0 415.6,214.4 416.1,217.0 416.6,219.6 417.1,222.2 417.6,224.6 418.1,226.9 418.6,228.8 419.1,230.4 419.6,231.6 420.1,231.4 420.6,230.4 421.1,229.2 421.6,227.7 422.1,226.0 422.6,224.2 423.1,222.4 423.6,220.5 424.1,218.7 424.6,217.1 425.1,215.6 425.6,214.3 426.1,213.3 426.6,212.9 427.1,214.1 427.6,215.7 428.1,217.6 428.6,219.9 429.1,222.3 429.6,225.0 430.1,227.6 430.6,230.2 431.1,232.7 431.6,235.0 432.1,237.0 432.6,238.6 433.1,239.9 433.6,239.5 434.1,238.2 434.6,236.6 435.1,234.6 435.6,232.5 436.1,230.1 436.6,227.7 437.1,225.3 437.6,222.9 438.1,220.7 438.6,218.8 439.1,217.1 439.6,215.8 440.1,215.2 440.6,216.5 441.1,218.1 441.6,220.2 442.1,222.5 442.6,225.1 443.1,227.9 443.6,230.8 444.1,233.7 444.6,236.5 445.1,239.2 445.6,241.7 446.1,243.9 446.6,245.8 447.1,247.3 447.6,248.0 448.1,246.6 448.6,244.8 449.1,242.6 449.6,240.0 450.1,237.2 450.6,234.1 451.1,230.9 451.6,227.7 452.1,224.6 452.6,221.6 453.1,218.9 453.6,216.4 454.1,214.4 454.6,212.7 455.1,212.0 455.6,214.0 456.1,216.7 456.6,219.9 457.1,223.7 457.6,227.8 458.1,232.2 458.6,236.5 459.1,240.8 459.6,244.8 460.1,248.4 460.6,251.4 461.1,253.8 461.6,255.1 462.1,253.8 462.6,252.1 463.1,250.1 463.6,247.7 464.1,245.2 464.6,242.5 465.1,239.7 465.6,237.0 466.1,234.5 466.6,232.3 467.1,230.4 467.6,228.9 468.1,228.2 468.6,229.6 469.1,231.5 469.6,233.8 470.1,236.4 470.6,239.4 471.1,242.5 471.6,245.6 472.1,248.8 472.6,251.8 473.1,254.6 473.6,257.2 474.1,259.3 474.6,261.0 475.1,261.8 475.6,260.5 476.1,258.9 476.6,256.9 477.1,254.5 477.6,252.0 478.1,249.2 478.6,246.4 479.1,243.6 479.6,241.0 480.1,238.5 480.6,236.3 481.1,234.4 481.6,232.9 482.1,232.2 482.6,233.7 483.1,235.5 483.6,237.8 484.1,240.5 484.6,243.4 485.1,246.5 485.6,249.7 486.1,253.0 486.6,256.1 487.1,259.1 487.6,261.8 488.1,264.2 488.6,266.1 489.1,267.6 489.6,267.5 490.1,266.3 490.6,264.7 491.1,262.8 491.6,260.7 492.1,258.3 492.6,255.8 493.1,253.3 493.6,250.8 494.1,248.4 494.6,246.2 495.1,244.2 495.6,242.4 496.1,241.0 496.6,240.0 497.1,241.5 497.6,243.5 498.1,245.9 498.6,248.8 499.1,252.1 499.6,255.5 500.1,258.9 500.6,262.3 501.1,265.5 501.6,268.3 502.1,270.8 502.6,272.7 503.1,273.9 503.6,272.9 504.1,271.4 504.6,269.6 505.1,267.6 505.6,265.3 506.1,262.9 506.6,260.4 507.1,258.0 507.6,255.8 508.1,253.8 508.6,252.1 509.1,250.8 509.6,250.2 510.1,251.4 510.6,253.1 511.1,255.0 511.6,257.3 512.1,259.8 512.6,262.5 513.1,265.3 513.6,268.1 514.1,270.8 514.6,273.3 515.1,275.6 515.6,277.6 516.1,279.3 516.6,280.6 517.1,280.3 517.6,279.2 518.1,277.9 518.6,276.3 519.1,274.5 519.6,272.6 520.1,270.6 520.6,268.5 521.1,266.5 521.6,264.5 522.1,262.7 522.6,261.1 523.1,259.8 523.6,258.7 524.1,258.2 524.6,259.5 525.1,261.3 525.6,263.5 526.1,266.0 526.6,268.8 527.1,271.7 527.6,274.6 528.1,277.5 528.6,280.2 529.1,282.6 529.6,284.6 530.1,286.2 530.6,287.0 531.1,286.0 531.6,284.6 532.1,283.0 532.6,281.1 533.1,279.0 533.6,276.8 534.1,274.5 534.6,272.3 535.1,270.3 535.6,268.5 536.1,266.9 536.6,265.7 537.1,265.2 537.6,266.3 538.1,267.8 538.6,269.6 539.1,271.7 539.6,274.0 540.1,276.5 540.6,279.0 541.1,281.5 541.6,283.9 542.1,286.2 542.6,288.2 543.1,289.8 543.6,291.2 544.1,291.9 544.6,290.9 545.1,289.7 545.6,288.2 546.1,286.5 546.6,284.7" fill="none" stroke="#f01010" stroke-width="1.8" stroke-dasharray="3.2 2.6"/>
<polyline points="325.6,205.6 326.1,203.8 326.6,202.1 327.1,200.8 327.6,199.7 328.1,199.2 328.6,200.2 329.1,201.5 329.6,203.1 330.1,204.9 330.6,206.9 331.1,209.1 331.6,211.4 332.1,213.6 332.6,215.8 333.1,217.8 333.6,219.7 334.1,221.3 334.6,222.7 335.1,223.7 335.6,223.3 336.1,222.2 336.6,220.7 337.1,219.0 337.6,217.0 338.1,214.9 338.6,212.7 339.1,210.4 339.6,208.2 340.1,206.1 340.6,204.1 341.1,202.4 341.6,200.9 342.1,199.7 342.6,199.2 343.1,200.3 343.6,201.7 344.1,203.5 344.6,205.5 345.1,207.7 345.6,210.1 346.1,212.6 346.6,215.1 347.1,217.5 347.6,219.7 348.1,221.8 348.6,223.6 349.1,225.1 349.6,226.2 350.1,225.8 350.6,224.6 351.1,223.0 351.6,221.2 352.1,219.1 352.6,216.9 353.1,214.5 353.6,212.2 354.1,209.8 354.6,207.5 355.1,205.4 355.6,203.6 356.1,202.0 356.6,200.8 357.1,200.2 357.6,201.3 358.1,202.9 358.6,204.7 359.1,206.9 359.6,209.2 360.1,211.7 360.6,214.4 361.1,217.0 361.6,219.5 362.1,221.9 362.6,224.1 363.1,225.9 363.6,227.5 364.1,228.7 364.6,228.3 365.1,227.1 365.6,225.5 366.1,223.6 366.6,221.5 367.1,219.2 367.6,216.8 368.1,214.4 368.6,212.0 369.1,209.7 369.6,207.6 370.1,205.7 370.6,204.1 371.1,202.8 371.6,202.2 372.1,203.3 372.6,204.8 373.1,206.7 373.6,208.8 374.1,211.2 374.6,213.7 375.1,216.2 375.6,218.7 376.1,221.0 376.6,223.2 377.1,225.1 377.6,226.6 378.1,227.8 378.6,227.5 379.1,226.3 379.6,224.8 380.1,223.0 380.6,221.0 381.1,218.9 381.6,216.7 382.1,214.4 382.6,212.3 383.1,210.2 383.6,208.5 384.1,206.9 384.6,205.7 385.1,205.2 385.6,206.4 386.1,207.9 386.6,209.8 387.1,212.0 387.6,214.4 388.1,216.9 388.6,219.5 389.1,222.2 389.6,224.7 390.1,227.0 390.6,229.0 391.1,230.8 391.6,232.2 392.1,232.9 392.6,231.9 393.1,230.7 393.6,229.1 394.1,227.3 394.6,225.3 395.1,223.2 395.6,221.1 396.1,218.9 396.6,216.9 397.1,215.0 397.6,213.3 398.1,211.8 398.6,210.7 399.1,210.2 399.6,211.3 400.1,212.7 400.6,214.4 401.1,216.5 401.6,218.7 402.1,221.1 402.6,223.5 403.1,225.9 403.6,228.3 404.1,230.4 404.6,232.3 405.1,234.0 405.6,235.3 406.1,235.9 406.6,235.3 407.1,234.4 407.6,233.3 408.1,232.1 408.6,230.7 409.1,229.2 409.6,227.7 410.1,226.2 410.6,224.8 411.1,223.5 411.6,222.3 412.1,221.3 412.6,220.5 413.1,220.1 413.6,220.8 414.1,221.8 414.6,222.9 415.1,224.2 415.6,225.7 416.1,227.3 416.6,228.8 417.1,230.4 417.6,231.9 418.1,233.2 418.6,234.4 419.1,235.3 419.6,236.1 420.1,236.0 420.6,235.6 421.1,235.1 421.6,234.4 422.1,233.7 422.6,233.0 423.1,232.2 423.6,231.4 424.1,230.6 424.6,229.9 425.1,229.2 425.6,228.7 426.1,228.3 426.6,228.2 427.1,229.1 427.6,230.4 428.1,231.9 428.6,233.7 429.1,235.7 429.6,237.8 430.1,239.9 430.6,242.0 431.1,244.0 431.6,245.8 432.1,247.3 432.6,248.6 433.1,249.6 433.6,249.5 434.1,248.9 434.6,248.2 435.1,247.3 435.6,246.2 436.1,245.1 436.6,244.0 437.1,242.8 437.6,241.7 438.1,240.7 438.6,239.8 439.1,239.0 439.6,238.4 440.1,238.1 440.6,238.9 441.1,239.8 441.6,241.0 442.1,242.4 442.6,243.9 443.1,245.5 443.6,247.1 444.1,248.8 444.6,250.5 445.1,252.0 445.6,253.5 446.1,254.8 446.6,255.9 447.1,256.7 447.6,257.0 448.1,255.4 448.6,253.3 449.1,250.7 449.6,247.7 450.1,244.4 450.6,240.9 451.1,237.2 451.6,233.6 452.1,229.9 452.6,226.5 453.1,223.3 453.6,220.5 454.1,218.1 454.6,216.2 455.1,215.4 455.6,217.9 456.1,221.2 456.6,225.3 457.1,230.0 457.6,235.1 458.1,240.5 458.6,246.0 459.1,251.4 459.6,256.4 460.1,260.8 460.6,264.6 461.1,267.6 461.6,269.3 462.1,268.6 462.6,267.7 463.1,266.7 463.6,265.4 464.1,264.1 464.6,262.6 465.1,261.2 465.6,259.8 466.1,258.4 466.6,257.3 467.1,256.3 467.6,255.5 468.1,255.2 468.6,256.5 469.1,258.1 469.6,260.2 470.1,262.5 470.6,265.1 471.1,267.9 471.6,270.7 472.1,273.5 472.6,276.2 473.1,278.7 473.6,281.0 474.1,282.9 474.6,284.4 475.1,285.1 475.6,284.2 476.1,282.9 476.6,281.3 477.1,279.5 477.6,277.5 478.1,275.4 478.6,273.2 479.1,271.0 479.6,269.0 480.1,267.0 480.6,265.3 481.1,263.9 481.6,262.7 482.1,262.2 482.6,263.3 483.1,264.8 483.6,266.5 484.1,268.6 484.6,270.9 485.1,273.3 485.6,275.8 486.1,278.3 486.6,280.8 487.1,283.1 487.6,285.2 488.1,287.0 488.6,288.5 489.1,289.7 489.6,289.7 490.1,288.8 490.6,287.6 491.1,286.3 491.6,284.7 492.1,283.1 492.6,281.3 493.1,279.5 493.6,277.7 494.1,276.0 494.6,274.4 495.1,273.0 495.6,271.7 496.1,270.7 496.6,270.0 497.1,271.0 497.6,272.5 498.1,274.3 498.6,276.3 499.1,278.6 499.6,281.1 500.1,283.5 500.6,286.0 501.1,288.2 501.6,290.3 502.1,292.0 502.6,293.4 503.1,294.3 503.6,293.7 504.1,292.8 504.6,291.7 505.1,290.5 505.6,289.1 506.1,287.7 506.6,286.2 507.1,284.8 507.6,283.5 508.1,282.3 508.6,281.3 509.1,280.5 509.6,280.2 510.1,281.1 510.6,282.4 511.1,284.0 511.6,285.8 512.1,287.8 512.6,289.9 513.1,292.1 513.6,294.3 514.1,296.5 514.6,298.5 515.1,300.3 515.6,301.9 516.1,303.2 516.6,304.2 517.1,304.0 517.6,303.3 518.1,302.3 518.6,301.2 519.1,299.9 519.6,298.5 520.1,297.0 520.6,295.6 521.1,294.1 521.6,292.7 522.1,291.4 522.6,290.2 523.1,289.3 523.6,288.5 524.1,288.2 524.6,289.5 525.1,291.3 525.6,293.5 526.1,296.0 526.6,298.7 527.1,301.6 527.6,304.5 528.1,307.3 528.6,310.0 529.1,312.3 529.6,314.4 530.1,316.0 530.6,316.7 531.1,315.7 531.6,314.3 532.1,312.6 532.6,310.6 533.1,308.4 533.6,306.1 534.1,303.8 534.6,301.6 535.1,299.5 535.6,297.6 536.1,296.0 536.6,294.8 537.1,294.2 537.6,295.5 538.1,297.2 538.6,299.3 539.1,301.7 539.6,304.4 540.1,307.2 540.6,310.1 541.1,313.0 541.6,315.7 542.1,318.3 542.6,320.6 543.1,322.5 543.6,324.1 544.1,324.8 544.6,323.8 545.1,322.4 545.6,320.7 546.1,318.8 546.6,316.6" fill="none" stroke="#1010f0" stroke-width="1.8" stroke-dasharray="3.2 2.6"/>
<polyline points="325.6,199.6 326.1,197.8 326.6,196.1 327.1,194.8 327.6,193.7 328.1,193.2 328.6,194.2 329.1,195.5 329.6,197.1 330.1,198.9 330.6,201.0 331.1,203.1 331.6,205.4 332.1,207.7 332.6,209.8 333.1,211.9 333.6,213.8 334.1,215.4 334.6,216.7 335.1,217.8 335.6,217.4 336.1,216.2 336.6,214.8 337.1,213.0 337.6,211.1 338.1,209.0 338.6,206.8 339.1,204.5 339.6,202.3 340.1,200.1 340.6,198.2 341.1,196.4 341.6,194.9 342.1,193.7 342.6,193.2 343.1,194.2 343.6,195.6 344.1,197.2 344.6,199.1 345.1,201.3 345.6,203.5 346.1,205.9 346.6,208.2 347.1,210.5 347.6,212.6 348.1,214.6 348.6,216.3 349.1,217.7 349.6,218.7 350.1,218.3 350.6,217.1 351.1,215.5 351.6,213.7 352.1,211.6 352.6,209.4 353.1,207.0 353.6,204.6 354.1,202.2 354.6,200.0 355.1,197.9 355.6,196.0 356.1,194.4 356.6,193.2 357.1,192.6 357.6,193.7 358.1,195.2 358.6,197.1 359.1,199.2 359.6,201.5 360.1,204.0 360.6,206.6 361.1,209.2 361.6,211.7 362.1,214.1 362.6,216.2 363.1,218.1 363.6,219.6 364.1,220.8 364.6,220.2 365.1,218.5 365.6,216.4 366.1,213.9 366.6,211.1 367.1,208.0 367.6,204.8 368.1,201.6 368.6,198.3 369.1,195.3 369.6,192.4 370.1,189.9 370.6,187.8 371.1,186.0 371.6,185.3 372.1,187.0 372.6,189.2 373.1,192.0 373.6,195.2 374.1,198.7 374.6,202.4 375.1,206.2 375.6,210.0 376.1,213.5 376.6,216.8 377.1,219.6 377.6,221.9 378.1,223.7 378.6,223.0 379.1,220.9 379.6,218.2 380.1,215.0 380.6,211.5 381.1,207.6 381.6,203.6 382.1,199.6 382.6,195.8 383.1,192.2 383.6,189.0 384.1,186.3 384.6,184.1 385.1,183.1 385.6,185.0 386.1,187.5 386.6,190.5 387.1,194.0 387.6,197.9 388.1,202.0 388.6,206.2 389.1,210.5 389.6,214.5 390.1,218.2 390.6,221.6 391.1,224.4 391.6,226.6 392.1,227.7 392.6,225.7 393.1,223.0 393.6,219.7 394.1,216.0 394.6,211.8 395.1,207.4 395.6,202.9 396.1,198.4 396.6,194.1 397.1,190.1 397.6,186.5 398.1,183.5 398.6,181.1 399.1,179.9 399.6,182.1 400.1,184.9 400.6,188.4 401.1,192.4 401.6,196.8 402.1,201.5 402.6,206.3 403.1,211.0 403.6,215.6 404.1,219.9 404.6,223.7 405.1,226.9 405.6,229.5 406.1,230.7 406.6,229.2 407.1,227.1 407.6,224.6 408.1,221.7 408.6,218.5 409.1,215.1 409.6,211.5 410.1,208.1 410.6,204.7 411.1,201.6 411.6,198.8 412.1,196.5 412.6,194.6 413.1,193.8 413.6,195.6 414.1,198.0 414.6,200.9 415.1,204.3 415.6,208.1 416.1,212.0 416.6,216.0 417.1,220.0 417.6,223.7 418.1,227.2 418.6,230.2 419.1,232.6 419.6,234.5 420.1,234.0 420.6,232.3 421.1,230.1 421.6,227.5 422.1,224.6 422.6,221.4 423.1,218.1 423.6,214.8 424.1,211.7 424.6,208.7 425.1,206.1 425.6,203.8 426.1,202.1 426.6,201.3 427.1,202.9 427.6,205.0 428.1,207.7 428.6,210.7 429.1,214.0 429.6,217.6 430.1,221.2 430.6,224.7 431.1,228.1 431.6,231.2 432.1,233.8 432.6,236.0 433.1,237.7 433.6,237.2 434.1,235.4 434.6,233.2 435.1,230.6 435.6,227.7 436.1,224.5 436.6,221.2 437.1,217.9 437.6,214.7 438.1,211.8 438.6,209.1 439.1,206.9 439.6,205.1 440.1,204.3 440.6,205.8 441.1,207.8 441.6,210.2 442.1,213.1 442.6,216.2 443.1,219.6 443.6,223.0 444.1,226.5 444.6,230.0 445.1,233.3 445.6,236.3 446.1,239.0 446.6,241.2 447.1,243.1 447.6,243.9 448.1,242.2 448.6,240.1 449.1,237.4 449.6,234.4 450.1,231.0 450.6,227.4 451.1,223.7 451.6,219.9 452.1,216.2 452.6,212.7 453.1,209.4 453.6,206.5 454.1,204.1 454.6,202.1 455.1,201.2 455.6,203.5 456.1,206.4 456.6,210.0 457.1,214.2 457.6,218.8 458.1,223.6 458.6,228.4 459.1,233.2 459.6,237.6 460.1,241.6 460.6,244.9 461.1,247.6 461.6,249.0 462.1,247.5 462.6,245.6 463.1,243.2 463.6,240.5 464.1,237.6 464.6,234.4 465.1,231.3 465.6,228.2 466.1,225.3 466.6,222.7 467.1,220.6 467.6,218.8 468.1,218.0 468.6,219.6 469.1,221.5 469.6,224.0 470.1,226.8 470.6,229.9 471.1,233.2 471.6,236.6 472.1,239.9 472.6,243.2 473.1,246.2 473.6,248.8 474.1,251.1 474.6,252.9 475.1,253.8 475.6,252.5 476.1,250.7 476.6,248.6 477.1,246.2 477.6,243.5 478.1,240.6 478.6,237.7 479.1,234.7 479.6,231.9 480.1,229.3 480.6,227.0 481.1,225.0 481.6,223.4 482.1,222.7 482.6,224.2 483.1,226.1 483.6,228.4 484.1,231.1 484.6,234.0 485.1,237.2 485.6,240.5 486.1,243.7 486.6,246.9 487.1,249.9 487.6,252.7 488.1,255.1 488.6,257.1 489.1,258.6 489.6,258.5 490.1,257.4 490.6,255.9 491.1,254.2 491.6,252.2 492.1,250.1 492.6,247.8 493.1,245.5 493.6,243.2 494.1,241.0 494.6,238.9 495.1,237.1 495.6,235.5 496.1,234.3 496.6,233.3 497.1,234.6 497.6,236.3 498.1,238.5 498.6,241.0 499.1,243.8 499.6,246.8 500.1,249.8 500.6,252.8 501.1,255.6 501.6,258.1 502.1,260.2 502.6,261.9 503.1,263.0 503.6,262.2 504.1,261.1 504.6,259.8 505.1,258.3 505.6,256.7 506.1,254.9 506.6,253.2 507.1,251.4 507.6,249.8 508.1,248.4 508.6,247.1 509.1,246.2 509.6,245.8 510.1,246.7 510.6,248.0 511.1,249.6 511.6,251.3 512.1,253.3 512.6,255.4 513.1,257.6 513.6,259.8 514.1,261.9 514.6,263.9 515.1,265.8 515.6,267.3 516.1,268.6 516.6,269.6 517.1,269.4 517.6,268.6 518.1,267.6 518.6,266.4 519.1,265.0 519.6,263.5 520.1,262.0 520.6,260.4 521.1,258.8 521.6,257.3 522.1,255.9 522.6,254.7 523.1,253.6 523.6,252.8 524.1,252.5 524.6,253.6 525.1,255.0 525.6,256.8 526.1,258.9 526.6,261.1 527.1,263.5 527.6,265.9 528.1,268.2 528.6,270.4 529.1,272.4 529.6,274.0 530.1,275.4 530.6,276.0 531.1,275.4 531.6,274.6 532.1,273.6 532.6,272.4 533.1,271.2 533.6,269.8 534.1,268.5 534.6,267.2 535.1,265.9 535.6,264.8 536.1,263.9 536.6,263.1 537.1,262.8 537.6,263.5 538.1,264.5 538.6,265.7 539.1,267.0 539.6,268.5 540.1,270.1 540.6,271.7 541.1,273.3 541.6,274.8 542.1,276.3 542.6,277.5 543.1,278.6 543.6,279.5 544.1,279.9 544.6,279.4 545.1,278.8 545.6,278.0 546.1,277.0 546.6,276.0" fill="none" stroke="#0a7a0a" stroke-width="1.8" stroke-dasharray="3.2 2.6"/>
<polyline points="325.6,190.8 326.6,190.5 327.6,190.3 328.6,190.0 329.6,189.7 330.6,189.5 331.6,189.3 332.6,189.0 333.6,188.8 334.6,188.6 335.6,188.4 336.6,188.2 337.6,188.0 338.6,187.8 339.6,187.6 340.6,187.5 341.6,187.3 342.6,187.1 343.6,187.0 344.6,186.9 345.6,186.7 346.6,186.6 347.6,186.5 348.6,186.4 349.6,186.3 350.6,186.2 351.6,186.1 352.6,186.0 353.6,186.0 354.6,185.9 355.6,185.8 356.6,185.8 357.6,185.7 358.6,185.7 359.6,185.7 360.6,185.6 361.6,185.6 362.6,185.6 363.6,185.6 364.6,185.6 365.6,185.6 366.6,185.6 367.6,185.7 368.6,185.7 369.6,185.7 370.6,185.8 371.6,185.8 372.6,185.8 373.6,185.9 374.6,186.0 375.6,186.0 376.6,186.1 377.6,186.2 378.6,186.3 379.6,186.4 380.6,186.5 381.6,186.6 382.6,186.7 383.6,186.8 384.6,186.9 385.6,187.0 386.6,187.1 387.6,187.3 388.6,187.4 389.6,187.5 390.6,187.7 391.6,187.8 392.6,188.0 393.6,188.1 394.6,188.3 395.6,188.5 396.6,188.6 397.6,188.8 398.6,189.0 399.6,189.2 400.6,189.4 401.6,189.6 402.6,189.8 403.6,190.0 404.6,190.2 405.6,190.4 406.6,190.6 407.6,190.8 408.6,191.0 409.6,191.2 410.6,191.5 411.6,191.7 412.6,191.9 413.6,192.2 414.6,192.4 415.6,192.6 416.6,192.9 417.6,193.1 418.6,193.4 419.6,193.6 420.6,193.9 421.6,194.2 422.6,194.4 423.6,194.7 424.6,195.0 425.6,195.2 426.6,195.5 427.6,195.8 428.6,196.1 429.6,196.3 430.6,196.6 431.6,196.9 432.6,197.2 433.6,197.5 434.6,197.8 435.6,198.1 436.6,198.4 437.6,198.7 438.6,199.0 439.6,199.3 440.6,199.6 441.6,199.9 442.6,200.2 443.6,200.5 444.6,200.8 445.6,201.1 446.6,201.4 447.6,201.7 448.6,202.0 449.6,202.3 450.6,202.7 451.6,203.0 452.6,203.3 453.6,203.6 454.6,203.9 455.6,204.2 456.6,204.6 457.6,204.9 458.6,205.2 459.6,205.5 460.6,205.8 461.6,206.2 462.6,206.5 463.6,206.8 464.6,207.1 465.6,207.4 466.6,207.8 467.6,208.1 468.6,208.4 469.6,208.7 470.6,209.1 471.6,209.4 472.6,209.7 473.6,210.0 474.6,210.3 475.6,210.7 476.6,211.0 477.6,211.3 478.6,211.6 479.6,211.9 480.6,212.2 481.6,212.6 482.6,212.9 483.6,213.2 484.6,213.5 485.6,213.8 486.6,214.1 487.6,214.4 488.6,214.7 489.6,215.0 490.6,215.3 491.6,215.6 492.6,215.9 493.6,216.2 494.6,216.5 495.6,216.8 496.6,217.1 497.6,217.4 498.6,217.7 499.6,218.0 500.6,218.3 501.6,218.6 502.6,218.8 503.6,219.1 504.6,219.4 505.6,219.7 506.6,219.9 507.6,220.2 508.6,220.5 509.6,220.7 510.6,221.0 511.6,221.2 512.6,221.5 513.6,221.8 514.6,222.0 515.6,222.2 516.6,222.5 517.6,222.7 518.6,223.0 519.6,223.2 520.6,223.4 521.6,223.7 522.6,223.9 523.6,224.1 524.6,224.3 525.6,224.5 526.6,224.7 527.6,224.9 528.6,225.1 529.6,225.3 530.6,225.5 531.6,225.7 532.6,225.9 533.6,226.1 534.6,226.3 535.6,226.4 536.6,226.6 537.6,226.8 538.6,226.9 539.6,227.1 540.6,227.2 541.6,227.4 542.6,227.5 543.6,227.6 544.6,227.8 545.6,227.9 546.6,228.0" fill="none" stroke="#000000" stroke-width="2.4" stroke-linejoin="round"/>
<polyline points="325.6,196.7 326.6,196.5 327.6,196.4 328.6,196.2 329.6,196.1 330.6,196.0 331.6,195.9 332.6,195.8 333.6,195.7 334.6,195.6 335.6,195.5 336.6,195.5 337.6,195.4 338.6,195.4 339.6,195.3 340.6,195.3 341.6,195.3 342.6,195.3 343.6,195.3 344.6,195.3 345.6,195.3 346.6,195.4 347.6,195.4 348.6,195.5 349.6,195.5 350.6,195.6 351.6,195.7 352.6,195.8 353.6,195.9 354.6,196.0 355.6,196.1 356.6,196.2 357.6,196.3 358.6,196.5 359.6,196.6 360.6,196.8 361.6,197.0 362.6,197.1 363.6,197.3 364.6,197.5 365.6,197.7 366.6,197.9 367.6,198.1 368.6,198.3 369.6,198.6 370.6,198.8 371.6,199.0 372.6,199.3 373.6,199.6 374.6,199.8 375.6,200.1 376.6,200.4 377.6,200.7 378.6,201.0 379.6,201.3 380.6,201.6 381.6,201.9 382.6,202.2 383.6,202.6 384.6,202.9 385.6,203.2 386.6,203.6 387.6,204.0 388.6,204.3 389.6,204.7 390.6,205.1 391.6,205.5 392.6,205.8 393.6,206.2 394.6,206.6 395.6,207.1 396.6,207.5 397.6,207.9 398.6,208.3 399.6,208.8 400.6,209.2 401.6,209.6 402.6,210.1 403.6,210.5 404.6,211.0 405.6,211.5 406.6,211.9 407.6,212.4 408.6,212.9 409.6,213.4 410.6,213.9 411.6,214.3 412.6,214.8 413.6,215.3 414.6,215.9 415.6,216.4 416.6,216.9 417.6,217.4 418.6,217.9 419.6,218.4 420.6,219.0 421.6,219.5 422.6,220.1 423.6,220.6 424.6,221.1 425.6,221.7 426.6,222.2 427.6,222.8 428.6,223.3 429.6,223.9 430.6,224.5 431.6,225.0 432.6,225.6 433.6,226.2 434.6,226.8 435.6,227.3 436.6,227.9 437.6,228.5 438.6,229.1 439.6,229.7 440.6,230.2 441.6,230.8 442.6,231.4 443.6,232.0 444.6,232.6 445.6,233.2 446.6,233.8 447.6,234.4 448.6,235.0 449.6,235.6 450.6,236.2 451.6,236.8 452.6,237.4 453.6,238.0 454.6,238.6 455.6,239.2 456.6,239.8 457.6,240.4 458.6,241.0 459.6,241.6 460.6,242.2 461.6,242.8 462.6,243.4 463.6,244.0 464.6,244.6 465.6,245.1 466.6,245.7 467.6,246.3 468.6,246.9 469.6,247.5 470.6,248.1 471.6,248.7 472.6,249.3 473.6,249.8 474.6,250.4 475.6,251.0 476.6,251.6 477.6,252.2 478.6,252.7 479.6,253.3 480.6,253.9 481.6,254.4 482.6,255.0 483.6,255.5 484.6,256.1 485.6,256.6 486.6,257.2 487.6,257.7 488.6,258.2 489.6,258.8 490.6,259.3 491.6,259.8 492.6,260.3 493.6,260.8 494.6,261.4 495.6,261.9 496.6,262.4 497.6,262.9 498.6,263.3 499.6,263.8 500.6,264.3 501.6,264.8 502.6,265.2 503.6,265.7 504.6,266.1 505.6,266.6 506.6,267.0 507.6,267.5 508.6,267.9 509.6,268.3 510.6,268.7 511.6,269.1 512.6,269.5 513.6,269.9 514.6,270.3 515.6,270.7 516.6,271.0 517.6,271.4 518.6,271.7 519.6,272.1 520.6,272.4 521.6,272.7 522.6,273.1 523.6,273.4 524.6,273.7 525.6,274.0 526.6,274.2 527.6,274.5 528.6,274.8 529.6,275.0 530.6,275.2 531.6,275.5 532.6,275.7 533.6,275.9 534.6,276.1 535.6,276.3 536.6,276.5 537.6,276.6 538.6,276.8 539.6,276.9 540.6,277.0 541.6,277.2 542.6,277.3 543.6,277.3 544.6,277.4 545.6,277.5 546.6,277.5" fill="none" stroke="#ff0000" stroke-width="2.4" stroke-linejoin="round"/>
<polyline points="325.6,206.4 326.6,206.3 327.6,206.2 328.6,206.1 329.6,206.0 330.6,205.9 331.6,205.8 332.6,205.8 333.6,205.7 334.6,205.7 335.6,205.6 336.6,205.6 337.6,205.6 338.6,205.6 339.6,205.6 340.6,205.6 341.6,205.6 342.6,205.6 343.6,205.7 344.6,205.7 345.6,205.7 346.6,205.8 347.6,205.8 348.6,205.9 349.6,206.0 350.6,206.1 351.6,206.1 352.6,206.2 353.6,206.3 354.6,206.4 355.6,206.6 356.6,206.7 357.6,206.8 358.6,206.9 359.6,207.1 360.6,207.2 361.6,207.4 362.6,207.5 363.6,207.7 364.6,207.9 365.6,208.0 366.6,208.2 367.6,208.4 368.6,208.6 369.6,208.8 370.6,209.0 371.6,209.2 372.6,209.4 373.6,209.6 374.6,209.8 375.6,210.0 376.6,210.3 377.6,210.5 378.6,210.7 379.6,211.0 380.6,211.2 381.6,211.5 382.6,211.7 383.6,212.0 384.6,212.3 385.6,212.5 386.6,212.8 387.6,213.1 388.6,213.3 389.6,213.6 390.6,213.9 391.6,214.2 392.6,214.5 393.6,214.8 394.6,215.1 395.6,215.3 396.6,215.7 397.6,216.0 398.6,216.3 399.6,216.6 400.6,216.9 401.6,217.2 402.6,217.5 403.6,217.8 404.6,218.2 405.6,218.5 406.6,218.8 407.6,219.1 408.6,219.5 409.6,219.8 410.6,220.1 411.6,220.5 412.6,220.8 413.6,221.1 414.6,221.5 415.6,221.8 416.6,222.2 417.6,222.5 418.6,222.8 419.6,223.2 420.6,223.5 421.6,223.9 422.6,224.2 423.6,224.6 424.6,224.9 425.6,225.3 426.6,225.7 427.6,226.0 428.6,226.4 429.6,226.7 430.6,227.1 431.6,227.4 432.6,227.8 433.6,228.2 434.6,228.5 435.6,228.9 436.6,229.2 437.6,229.6 438.6,230.0 439.6,230.3 440.6,230.7 441.6,231.0 442.6,231.4 443.6,231.8 444.6,232.1 445.6,232.5 446.6,232.8 447.6,233.2 448.6,233.5 449.6,233.9 450.6,234.3 451.6,234.6 452.6,235.0 453.6,235.3 454.6,235.7 455.6,236.1 456.6,236.4 457.6,236.8 458.6,237.1 459.6,237.5 460.6,237.8 461.6,238.2 462.6,238.5 463.6,238.9 464.6,239.2 465.6,239.6 466.6,239.9 467.6,240.3 468.6,240.6 469.6,240.9 470.6,241.3 471.6,241.6 472.6,242.0 473.6,242.3 474.6,242.6 475.6,243.0 476.6,243.3 477.6,243.6 478.6,244.0 479.6,244.3 480.6,244.6 481.6,244.9 482.6,245.3 483.6,245.6 484.6,245.9 485.6,246.2 486.6,246.6 487.6,246.9 488.6,247.2 489.6,247.5 490.6,247.8 491.6,248.1 492.6,248.4 493.6,248.7 494.6,249.0 495.6,249.3 496.6,249.6 497.6,249.9 498.6,250.2 499.6,250.5 500.6,250.8 501.6,251.1 502.6,251.4 503.6,251.7 504.6,252.0 505.6,252.2 506.6,252.5 507.6,252.8 508.6,253.1 509.6,253.3 510.6,253.6 511.6,253.9 512.6,254.2 513.6,254.4 514.6,254.7 515.6,254.9 516.6,255.2 517.6,255.5 518.6,255.7 519.6,256.0 520.6,256.2 521.6,256.5 522.6,256.7 523.6,256.9 524.6,257.2 525.6,257.4 526.6,257.7 527.6,257.9 528.6,258.1 529.6,258.4 530.6,258.6 531.6,258.8 532.6,259.0 533.6,259.2 534.6,259.5 535.6,259.7 536.6,259.9 537.6,260.1 538.6,260.3 539.6,260.5 540.6,260.7 541.6,260.9 542.6,261.1 543.6,261.3 544.6,261.5 545.6,261.7 546.6,261.9" fill="none" stroke="#007f00" stroke-width="2.4" stroke-linejoin="round"/>
<polyline points="325.6,201.7 326.6,201.6 327.6,201.5 328.6,201.4 329.6,201.3 330.6,201.2 331.6,201.2 332.6,201.1 333.6,201.1 334.6,201.1 335.6,201.1 336.6,201.1 337.6,201.1 338.6,201.1 339.6,201.1 340.6,201.2 341.6,201.2 342.6,201.3 343.6,201.4 344.6,201.5 345.6,201.6 346.6,201.7 347.6,201.8 348.6,202.0 349.6,202.1 350.6,202.3 351.6,202.4 352.6,202.6 353.6,202.8 354.6,203.0 355.6,203.2 356.6,203.4 357.6,203.6 358.6,203.9 359.6,204.1 360.6,204.4 361.6,204.6 362.6,204.9 363.6,205.2 364.6,205.5 365.6,205.8 366.6,206.1 367.6,206.4 368.6,206.7 369.6,207.0 370.6,207.4 371.6,207.7 372.6,208.1 373.6,208.5 374.6,208.8 375.6,209.2 376.6,209.6 377.6,210.0 378.6,210.4 379.6,210.8 380.6,211.2 381.6,211.6 382.6,212.1 383.6,212.5 384.6,213.0 385.6,213.4 386.6,213.9 387.6,214.3 388.6,214.8 389.6,215.3 390.6,215.8 391.6,216.3 392.6,216.8 393.6,217.3 394.6,217.8 395.6,218.3 396.6,218.8 397.6,219.3 398.6,219.8 399.6,220.4 400.6,220.9 401.6,221.5 402.6,222.0 403.6,222.6 404.6,223.1 405.6,223.7 406.6,224.3 407.6,224.8 408.6,225.4 409.6,226.0 410.6,226.6 411.6,227.2 412.6,227.8 413.6,228.3 414.6,228.9 415.6,229.6 416.6,230.2 417.6,230.8 418.6,231.4 419.6,232.0 420.6,232.6 421.6,233.2 422.6,233.9 423.6,234.5 424.6,235.1 425.6,235.8 426.6,236.4 427.6,237.0 428.6,237.7 429.6,238.3 430.6,239.0 431.6,239.6 432.6,240.3 433.6,240.9 434.6,241.6 435.6,242.2 436.6,242.9 437.6,243.5 438.6,244.2 439.6,244.8 440.6,245.5 441.6,246.2 442.6,246.8 443.6,247.5 444.6,248.1 445.6,248.8 446.6,249.5 447.6,250.1 448.6,250.8 449.6,251.5 450.6,252.1 451.6,252.8 452.6,253.4 453.6,254.1 454.6,254.8 455.6,255.4 456.6,256.1 457.6,256.8 458.6,257.4 459.6,258.1 460.6,258.7 461.6,259.4 462.6,260.0 463.6,260.7 464.6,261.3 465.6,262.0 466.6,262.6 467.6,263.3 468.6,263.9 469.6,264.6 470.6,265.2 471.6,265.9 472.6,266.5 473.6,267.1 474.6,267.8 475.6,268.4 476.6,269.0 477.6,269.6 478.6,270.3 479.6,270.9 480.6,271.5 481.6,272.1 482.6,272.7 483.6,273.3 484.6,273.9 485.6,274.5 486.6,275.1 487.6,275.7 488.6,276.3 489.6,276.9 490.6,277.5 491.6,278.0 492.6,278.6 493.6,279.2 494.6,279.7 495.6,280.3 496.6,280.8 497.6,281.4 498.6,281.9 499.6,282.5 500.6,283.0 501.6,283.5 502.6,284.0 503.6,284.5 504.6,285.1 505.6,285.6 506.6,286.1 507.6,286.6 508.6,287.0 509.6,287.5 510.6,288.0 511.6,288.5 512.6,288.9 513.6,289.4 514.6,289.8 515.6,290.3 516.6,290.7 517.6,291.1 518.6,291.6 519.6,292.0 520.6,292.4 521.6,292.8 522.6,293.2 523.6,293.5 524.6,293.9 525.6,294.3 526.6,294.7 527.6,295.0 528.6,295.4 529.6,295.7 530.6,296.0 531.6,296.3 532.6,296.7 533.6,297.0 534.6,297.3 535.6,297.5 536.6,297.8 537.6,298.1 538.6,298.4 539.6,298.6 540.6,298.8 541.6,299.1 542.6,299.3 543.6,299.5 544.6,299.7 545.6,299.9 546.6,300.1" fill="none" stroke="#0000ff" stroke-width="2.4" stroke-linejoin="round"/>
</g>
<path d="M46.0,170.5 H266.4" stroke="#666" stroke-width="1.3" fill="none"/>
<path d="M46.0,8.0 H266.4" stroke="#4a4a4a" stroke-width="1.6" fill="none"/>
<path d="M46.0,333.7 H266.4" stroke="#9a9a9a" stroke-width="1.7" fill="none"/>
<path d="M266.4,8.0 V333.7" stroke="#888" stroke-width="1.1" fill="none"/>
<path d="M46.0,7.3 V334.5" stroke="#333" stroke-width="1.7" fill="none"/>
<path d="M325.6,169.2 H546.7" stroke="#888" stroke-width="1.2" fill="none"/>
<path d="M325.6,3.3 H546.7" stroke="#777" stroke-width="1.5" fill="none"/>
<path d="M325.6,334.8 H546.7" stroke="#454545" stroke-width="1.6" fill="none"/>
<path d="M546.7,3.3 V334.8" stroke="#888" stroke-width="1.1" fill="none"/>
<path d="M325.6,2.5999999999999996 V335.6" stroke="#666" stroke-width="1.3" fill="none"/>
<path d="M62.2,8.0 v2.4 M78.5,8.0 v4 M94.8,8.0 v2.4 M111.2,8.0 v2.4 M127.5,8.0 v2.4 M143.8,8.0 v2.4 M160.2,8.0 v4 M176.5,8.0 v2.4 M192.8,8.0 v2.4 M209.1,8.0 v2.4 M225.5,8.0 v2.4 M241.8,8.0 v4 M258.1,8.0 v2.4 M62.2,170.5 v-2.4 M78.5,170.5 v-4 M94.8,170.5 v-2.4 M111.2,170.5 v-2.4 M127.5,170.5 v-2.4 M143.8,170.5 v-2.4 M160.2,170.5 v-4 M176.5,170.5 v-2.4 M192.8,170.5 v-2.4 M209.1,170.5 v-2.4 M225.5,170.5 v-2.4 M241.8,170.5 v-4 M258.1,170.5 v-2.4 M78.5,170.5 v4 M160.2,170.5 v4 M241.8,170.5 v4 M78.5,333.7 v-4 M119.3,333.7 v-2.4 M160.2,333.7 v-4 M201.0,333.7 v-2.4 M241.8,333.7 v-4" stroke="#444" stroke-width="1" fill="none"/>
<path d="M358.0,3.3 v4 M399.0,3.3 v2.4 M440.0,3.3 v4 M481.0,3.3 v2.4 M522.0,3.3 v4 M358.0,169.2 v-4 M399.0,169.2 v-2.4 M440.0,169.2 v-4 M481.0,169.2 v-2.4 M522.0,169.2 v-4 M358.0,169.2 v4 M440.0,169.2 v4 M522.0,169.2 v4 M358.0,334.8 v-4 M399.0,334.8 v-2.4 M440.0,334.8 v-4 M481.0,334.8 v-2.4 M522.0,334.8 v-4" stroke="#444" stroke-width="1" fill="none"/>
<path d="M46.0,130.9 h4 M266.4,130.9 h-4 M46.0,89.9 h4 M266.4,89.9 h-4 M46.0,48.9 h4 M266.4,48.9 h-4 M46.0,7.9 h4 M266.4,7.9 h-4 M46.0,151.4 h2.2 M266.4,151.4 h-2.2 M46.0,110.4 h2.2 M266.4,110.4 h-2.2 M46.0,69.4 h2.2 M266.4,69.4 h-2.2 M46.0,28.4 h2.2 M266.4,28.4 h-2.2" stroke="#444" stroke-width="1" fill="none"/>
<path d="M46.0,323.0 h4 M266.4,323.0 h-4 M46.0,279.5 h4 M266.4,279.5 h-4 M46.0,236.0 h4 M266.4,236.0 h-4 M46.0,192.5 h4 M266.4,192.5 h-4 M46.0,301.2 h2.2 M266.4,301.2 h-2.2 M46.0,257.8 h2.2 M266.4,257.8 h-2.2 M46.0,214.2 h2.2 M266.4,214.2 h-2.2" stroke="#444" stroke-width="1" fill="none"/>
<path d="M325.6,139.2 h4 M546.7,139.2 h-4 M325.6,108.9 h4 M546.7,108.9 h-4 M325.6,78.7 h4 M546.7,78.7 h-4 M325.6,48.4 h4 M546.7,48.4 h-4 M325.6,18.1 h4 M546.7,18.1 h-4 M325.6,154.4 h2.2 M546.7,154.4 h-2.2 M325.6,124.1 h2.2 M546.7,124.1 h-2.2 M325.6,93.8 h2.2 M546.7,93.8 h-2.2 M325.6,63.5 h2.2 M546.7,63.5 h-2.2 M325.6,33.3 h2.2 M546.7,33.3 h-2.2" stroke="#444" stroke-width="1" fill="none"/>
<path d="M325.6,172.2 h4 M546.7,172.2 h-4 M325.6,212.0 h4 M546.7,212.0 h-4 M325.6,251.8 h4 M546.7,251.8 h-4 M325.6,291.6 h4 M546.7,291.6 h-4 M325.6,331.4 h4 M546.7,331.4 h-4 M325.6,192.1 h2.2 M546.7,192.1 h-2.2 M325.6,231.9 h2.2 M546.7,231.9 h-2.2 M325.6,271.7 h2.2 M546.7,271.7 h-2.2 M325.6,311.5 h2.2 M546.7,311.5 h-2.2" stroke="#444" stroke-width="1" fill="none"/>
<text x="41.8" y="11.400000000000006" font-family="Liberation Serif, 'Times New Roman', serif" font-size="11.1" fill="#111" stroke="#111" stroke-width="0.1" text-anchor="end" font-weight="normal" >0.4</text>
<text x="41.8" y="52.400000000000006" font-family="Liberation Serif, 'Times New Roman', serif" font-size="11.1" fill="#111" stroke="#111" stroke-width="0.1" text-anchor="end" font-weight="normal" >0.3</text>
<text x="41.8" y="93.4" font-family="Liberation Serif, 'Times New Roman', serif" font-size="11.1" fill="#111" stroke="#111" stroke-width="0.1" text-anchor="end" font-weight="normal" >0.2</text>
<text x="41.8" y="134.4" font-family="Liberation Serif, 'Times New Roman', serif" font-size="11.1" fill="#111" stroke="#111" stroke-width="0.1" text-anchor="end" font-weight="normal" >0.1</text>
<text x="41.8" y="196.0" font-family="Liberation Serif, 'Times New Roman', serif" font-size="11.1" fill="#111" stroke="#111" stroke-width="0.1" text-anchor="end" font-weight="normal" >0.3</text>
<text x="41.8" y="239.5" font-family="Liberation Serif, 'Times New Roman', serif" font-size="11.1" fill="#111" stroke="#111" stroke-width="0.1" text-anchor="end" font-weight="normal" >0.2</text>
<text x="41.8" y="283.0" font-family="Liberation Serif, 'Times New Roman', serif" font-size="11.1" fill="#111" stroke="#111" stroke-width="0.1" text-anchor="end" font-weight="normal" >0.1</text>
<text x="41.8" y="326.5" font-family="Liberation Serif, 'Times New Roman', serif" font-size="11.1" fill="#111" stroke="#111" stroke-width="0.1" text-anchor="end" font-weight="normal" >0.0</text>
<text x="320.8" y="21.525" font-family="Liberation Serif, 'Times New Roman', serif" font-size="11.1" fill="#111" stroke="#111" stroke-width="0.1" text-anchor="end" font-weight="normal" >0.5</text>
<text x="320.8" y="51.79999999999999" font-family="Liberation Serif, 'Times New Roman', serif" font-size="11.1" fill="#111" stroke="#111" stroke-width="0.1" text-anchor="end" font-weight="normal" >0.4</text>
<text x="320.8" y="82.075" font-family="Liberation Serif, 'Times New Roman', serif" font-size="11.1" fill="#111" stroke="#111" stroke-width="0.1" text-anchor="end" font-weight="normal" >0.3</text>
<text x="320.8" y="112.35" font-family="Liberation Serif, 'Times New Roman', serif" font-size="11.1" fill="#111" stroke="#111" stroke-width="0.1" text-anchor="end" font-weight="normal" >0.2</text>
<text x="320.8" y="142.625" font-family="Liberation Serif, 'Times New Roman', serif" font-size="11.1" fill="#111" stroke="#111" stroke-width="0.1" text-anchor="end" font-weight="normal" >0.1</text>
<text x="320.8" y="175.6" font-family="Liberation Serif, 'Times New Roman', serif" font-size="11.1" fill="#111" stroke="#111" stroke-width="0.1" text-anchor="end" font-weight="normal" >0.2</text>
<text x="320.8" y="215.4" font-family="Liberation Serif, 'Times New Roman', serif" font-size="11.1" fill="#111" stroke="#111" stroke-width="0.1" text-anchor="end" font-weight="normal" >0.0</text>
<text x="320.8" y="255.20000000000002" font-family="Liberation Serif, 'Times New Roman', serif" font-size="11.1" fill="#111" stroke="#111" stroke-width="0.1" text-anchor="end" font-weight="normal" >-0.2</text>
<text x="320.8" y="295.0" font-family="Liberation Serif, 'Times New Roman', serif" font-size="11.1" fill="#111" stroke="#111" stroke-width="0.1" text-anchor="end" font-weight="normal" >-0.4</text>
<text x="320.8" y="334.79999999999995" font-family="Liberation Serif, 'Times New Roman', serif" font-size="11.1" fill="#111" stroke="#111" stroke-width="0.1" text-anchor="end" font-weight="normal" >-0.6</text>
<text x="78.5" y="346.8" font-family="Liberation Serif, 'Times New Roman', serif" font-size="11.1" fill="#111" stroke="#111" stroke-width="0.1" text-anchor="middle" font-weight="normal" >0.5</text>
<text x="358.0" y="348.0" font-family="Liberation Serif, 'Times New Roman', serif" font-size="11.1" fill="#111" stroke="#111" stroke-width="0.1" text-anchor="middle" font-weight="normal" >0.5</text>
<text x="160.2" y="346.8" font-family="Liberation Serif, 'Times New Roman', serif" font-size="11.1" fill="#111" stroke="#111" stroke-width="0.1" text-anchor="middle" font-weight="normal" >1.0</text>
<text x="440.0" y="348.0" font-family="Liberation Serif, 'Times New Roman', serif" font-size="11.1" fill="#111" stroke="#111" stroke-width="0.1" text-anchor="middle" font-weight="normal" >1.0</text>
<text x="241.8" y="346.8" font-family="Liberation Serif, 'Times New Roman', serif" font-size="11.1" fill="#111" stroke="#111" stroke-width="0.1" text-anchor="middle" font-weight="normal" >1.5</text>
<text x="522.0" y="348.0" font-family="Liberation Serif, 'Times New Roman', serif" font-size="11.1" fill="#111" stroke="#111" stroke-width="0.1" text-anchor="middle" font-weight="normal" >1.5</text>
<text x="156.5" y="367.5" font-family="Liberation Serif, 'Times New Roman', serif" font-size="14" fill="#111" stroke="#111" stroke-width="0.1" text-anchor="middle" font-weight="normal" textLength="100.5" lengthAdjust="spacingAndGlyphs">Frequency (THz)</text>
<text x="435.8" y="369.3" font-family="Liberation Serif, 'Times New Roman', serif" font-size="14" fill="#111" stroke="#111" stroke-width="0.1" text-anchor="middle" font-weight="normal" textLength="101.3" lengthAdjust="spacingAndGlyphs">Frequency (THz)</text>
<text x="136.8" y="416.5" font-family="Liberation Serif, 'Times New Roman', serif" font-size="15" fill="#111" stroke="#111" stroke-width="0.1" text-anchor="middle" font-weight="normal" >(<tspan font-weight="bold">a</tspan>)</text>
<text x="418.2" y="416.5" font-family="Liberation Serif, 'Times New Roman', serif" font-size="15" fill="#111" stroke="#111" stroke-width="0.1" text-anchor="middle" font-weight="normal" >(<tspan font-weight="bold">b</tspan>)</text>
<text transform="translate(20.0,101.6) rotate(-90)" font-family="Liberation Serif, 'Times New Roman', serif" font-size="14" fill="#111" stroke="#111" stroke-width="0.15" textLength="53.3" lengthAdjust="spacing">(Ω<tspan font-size="7.5" dy="-6">-1</tspan><tspan dy="6">cm</tspan><tspan font-size="7.5" dy="-6">-1</tspan><tspan dy="6">)</tspan></text>
<text transform="translate(20.9,123.0) rotate(-90)" font-family="Liberation Serif, 'Times New Roman', serif" font-size="16" fill="#111" stroke="#111" stroke-width="0.2">σ</text>
<text transform="translate(25.6,114.0) rotate(-90)" font-family="Liberation Serif, 'Times New Roman', serif" font-size="8.5" fill="#111">1</text>
<text transform="translate(16.7,260.0) rotate(-90)" font-family="Liberation Serif, 'Times New Roman', serif" font-size="14" fill="#111" stroke="#111" stroke-width="0.15" textLength="52.5" lengthAdjust="spacing">(Ω<tspan font-size="7.5" dy="-6">-1</tspan><tspan dy="6">cm</tspan><tspan font-size="7.5" dy="-6">-1</tspan><tspan dy="6">)</tspan></text>
<text transform="translate(17.6,281.8) rotate(-90)" font-family="Liberation Serif, 'Times New Roman', serif" font-size="16" fill="#111" stroke="#111" stroke-width="0.2">σ</text>
<text transform="translate(21.8,273.6) rotate(-90)" font-family="Liberation Serif, 'Times New Roman', serif" font-size="8.5" fill="#111">2</text>
<text transform="translate(300.5,99.0) rotate(-90)" font-family="Liberation Serif, 'Times New Roman', serif" font-size="14" fill="#111" stroke="#111" stroke-width="0.15" textLength="53.3" lengthAdjust="spacing">(Ω<tspan font-size="7.5" dy="-6">-1</tspan><tspan dy="6">cm</tspan><tspan font-size="7.5" dy="-6">-1</tspan><tspan dy="6">)</tspan></text>
<text transform="translate(301.8,120.5) rotate(-90)" font-family="Liberation Serif, 'Times New Roman', serif" font-size="16" fill="#111" stroke="#111" stroke-width="0.2">σ</text>
<text transform="translate(305.6,112.0) rotate(-90)" font-family="Liberation Serif, 'Times New Roman', serif" font-size="8.5" fill="#111">1</text>
<text transform="translate(299.8,263.8) rotate(-90)" font-family="Liberation Serif, 'Times New Roman', serif" font-size="14" fill="#111" stroke="#111" stroke-width="0.15" textLength="54.2" lengthAdjust="spacing">(Ω<tspan font-size="7.5" dy="-6">-1</tspan><tspan dy="6">cm</tspan><tspan font-size="7.5" dy="-6">-1</tspan><tspan dy="6">)</tspan></text>
<text transform="translate(300.9,285.2) rotate(-90)" font-family="Liberation Serif, 'Times New Roman', serif" font-size="16" fill="#111" stroke="#111" stroke-width="0.2">σ</text>
<text transform="translate(305.2,276.4) rotate(-90)" font-family="Liberation Serif, 'Times New Roman', serif" font-size="8.5" fill="#111">2</text>
<text x="57.8" y="25.9" font-family="Liberation Serif, 'Times New Roman', serif" font-size="11" fill="#111" stroke="#111" stroke-width="0.15">E</text>
<text x="65.3" y="30.5" font-family="Liberation Serif, 'Times New Roman', serif" font-size="8.2" fill="#111" stroke="#111" stroke-width="0.15" textLength="16.4" lengthAdjust="spacingAndGlyphs">THz</text>
<text x="81.69999999999999" y="25.9" font-family="Liberation Serif, 'Times New Roman', serif" font-size="11" fill="#111" stroke="#111" stroke-width="0.15" textLength="33.0" lengthAdjust="spacingAndGlyphs">//a-axis</text>
<text x="339.3" y="22.6" font-family="Liberation Serif, 'Times New Roman', serif" font-size="11" fill="#111" stroke="#111" stroke-width="0.15">E</text>
<text x="346.0" y="26.6" font-family="Liberation Serif, 'Times New Roman', serif" font-size="8.2" fill="#111" stroke="#111" stroke-width="0.15" textLength="18.2" lengthAdjust="spacingAndGlyphs">THz</text>
<text x="364.2" y="22.6" font-family="Liberation Serif, 'Times New Roman', serif" font-size="11" fill="#111" stroke="#111" stroke-width="0.15" textLength="33.0" lengthAdjust="spacingAndGlyphs">//c-axis</text>
<text x="242.2" y="18.6" font-family="Liberation Serif, 'Times New Roman', serif" font-size="9.6" fill="#111" stroke="#111" stroke-width="0.1" text-anchor="middle" font-weight="normal" textLength="41" lengthAdjust="spacingAndGlyphs">Power(W)</text>
<line x1="221.1" y1="27.1" x2="244.6" y2="27.1" stroke="#000000" stroke-width="2.3"/>
<text x="258.8" y="30.700000000000003" font-family="Liberation Serif, 'Times New Roman', serif" font-size="10.5" fill="#111" stroke="#111" stroke-width="0.1" text-anchor="end" font-weight="normal" >0</text>
<line x1="221.1" y1="39.6" x2="244.6" y2="39.6" stroke="#ff0000" stroke-width="2.3"/>
<text x="258.8" y="43.2" font-family="Liberation Serif, 'Times New Roman', serif" font-size="10.5" fill="#111" stroke="#111" stroke-width="0.1" text-anchor="end" font-weight="normal" >1</text>
<line x1="221.1" y1="51.6" x2="244.6" y2="51.6" stroke="#0000ff" stroke-width="2.3"/>
<text x="258.8" y="55.2" font-family="Liberation Serif, 'Times New Roman', serif" font-size="10.5" fill="#111" stroke="#111" stroke-width="0.1" text-anchor="end" font-weight="normal" >1.5</text>
<line x1="221.1" y1="63.6" x2="244.6" y2="63.6" stroke="#007f00" stroke-width="2.3"/>
<text x="258.8" y="67.2" font-family="Liberation Serif, 'Times New Roman', serif" font-size="10.5" fill="#111" stroke="#111" stroke-width="0.1" text-anchor="end" font-weight="normal" >2</text>
<text x="523.2" y="16.6" font-family="Liberation Serif, 'Times New Roman', serif" font-size="9.6" fill="#111" stroke="#111" stroke-width="0.1" text-anchor="middle" font-weight="normal" textLength="41" lengthAdjust="spacingAndGlyphs">Power(W)</text>
<line x1="501.6" y1="25.0" x2="525.3" y2="25.0" stroke="#000000" stroke-width="2.3"/>
<text x="539.3" y="28.6" font-family="Liberation Serif, 'Times New Roman', serif" font-size="10.5" fill="#111" stroke="#111" stroke-width="0.1" text-anchor="end" font-weight="normal" >0</text>
<line x1="501.6" y1="37.0" x2="525.3" y2="37.0" stroke="#ff0000" stroke-width="2.3"/>
<text x="539.3" y="40.6" font-family="Liberation Serif, 'Times New Roman', serif" font-size="10.5" fill="#111" stroke="#111" stroke-width="0.1" text-anchor="end" font-weight="normal" >1</text>
<line x1="501.6" y1="49.3" x2="525.3" y2="49.3" stroke="#0000ff" stroke-width="2.3"/>
<text x="539.3" y="52.9" font-family="Liberation Serif, 'Times New Roman', serif" font-size="10.5" fill="#111" stroke="#111" stroke-width="0.1" text-anchor="end" font-weight="normal" >1.5</text>
<line x1="501.6" y1="61.6" x2="525.3" y2="61.6" stroke="#007f00" stroke-width="2.3"/>
<text x="539.3" y="65.2" font-family="Liberation Serif, 'Times New Roman', serif" font-size="10.5" fill="#111" stroke="#111" stroke-width="0.1" text-anchor="end" font-weight="normal" >2</text>
</svg>
</body></html>
